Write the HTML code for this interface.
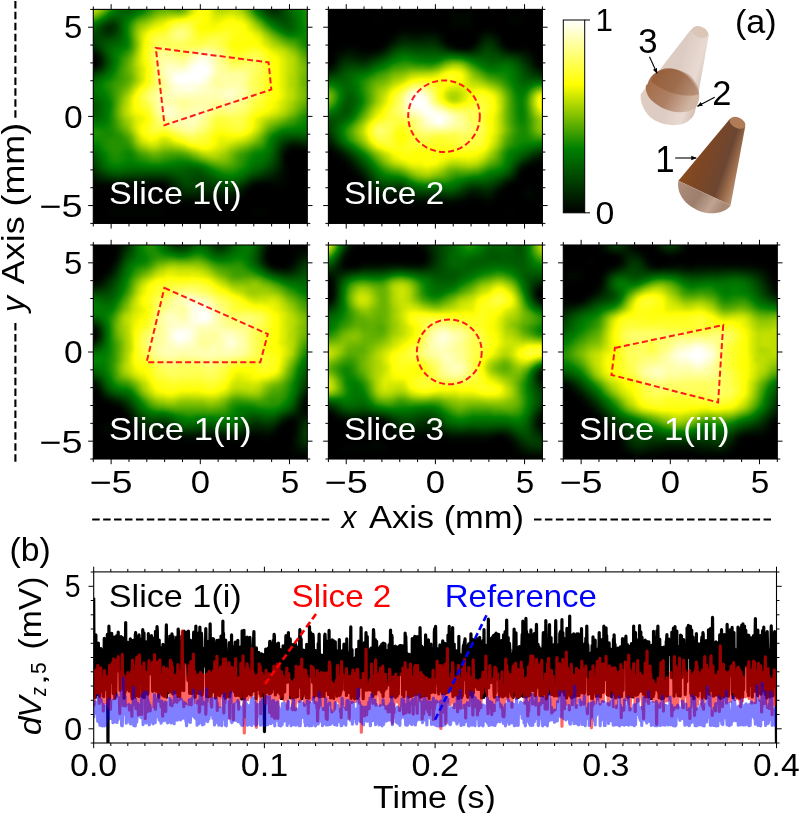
<!DOCTYPE html><html><head><meta charset="utf-8"><style>html,body{margin:0;padding:0;background:#fff;}svg{display:block;will-change:transform;font-family:"Liberation Sans",sans-serif;}</style></head><body>
<svg width="800" height="813" viewBox="0 0 800 813">
<defs><filter id="hm" x="-0.1" y="-0.1" width="1.2" height="1.2" color-interpolation-filters="sRGB"><feGaussianBlur stdDeviation="2.5"/><feComponentTransfer><feFuncR type="table" tableValues="0 0 1 1"/><feFuncG type="table" tableValues="0 0.502 1 1"/><feFuncB type="table" tableValues="0 0 0 1"/><feFuncA type="discrete" tableValues="1"/></feComponentTransfer></filter>
<clipPath id="cp00"><rect x="93.3" y="9.4" width="214" height="214"/></clipPath>
<clipPath id="cp01"><rect x="328.4" y="9.4" width="214" height="214"/></clipPath>
<clipPath id="cp10"><rect x="93.3" y="245" width="214" height="214"/></clipPath>
<clipPath id="cp11"><rect x="328.4" y="245" width="214" height="214"/></clipPath>
<clipPath id="cp12"><rect x="563.3" y="245" width="214" height="214"/></clipPath>
</defs>
<g clip-path="url(#cp00)"><g filter="url(#hm)" transform="translate(93.3 9.4)">
<rect x="-20" y="-20" width="254" height="254" fill="#000"/>
<path fill="#000000" d="M-9.3 41.7h6v6h-6zM-20.7 47.4h23v6h-23zM-20.7 53.1h23v6h-23zM195 138.2h23v6h-23zM189.3 143.9h45.7v6h-45.7zM189.3 149.6h45.7v6h-45.7zM195 155.2h40v6h-40zM195 160.9h17.3v6h-17.3zM195 166.6h17.3v6h-17.3zM-15 172.3h17.3v6h-17.3zM58.8 172.3h11.6v6h-11.6zM160.9 172.3h17.3v6h-17.3zM189.3 172.3h45.7v6h-45.7zM-20.7 177.9h96.8v6h-96.8zM155.2 177.9h79.7v6h-79.7zM-20.7 183.6h102.4v6h-102.4zM149.6 183.6h85.4v6h-85.4zM-20.7 189.3h102.4v6h-102.4zM143.9 189.3h91.1v6h-91.1zM-20.7 195h255.6v6h-255.6zM-20.7 200.6h34.3v6h-34.3zM70.1 200.6h91.1v6h-91.1zM172.3 200.6h62.7v6h-62.7zM-20.7 206.3h255.6v6h-255.6zM-20.7 212h255.6v6h-255.6zM-20.7 217.6h255.6v6h-255.6z"/>
<path fill="#040404" d="M-3.6 41.7h6v6h-6zM2 47.4h6v6h-6zM217.6 138.2h6v6h-6zM189.3 155.2h6v6h-6zM189.3 160.9h6v6h-6zM212 160.9h23v6h-23zM189.3 166.6h6v6h-6zM212 166.6h23v6h-23zM2 172.3h57v6h-57zM70.1 172.3h6v6h-6zM177.9 172.3h11.6v6h-11.6zM149.6 177.9h6v6h-6zM81.5 189.3h62.7v6h-62.7zM13.4 200.6h57v6h-57zM160.9 200.6h11.6v6h-11.6z"/>
<path fill="#080808" d="M2 53.1h6v6h-6zM189.3 138.2h6v6h-6zM183.6 166.6h6v6h-6zM155.2 172.3h6v6h-6zM75.8 177.9h6v6h-6zM143.9 183.6h6v6h-6z"/>
<path fill="#0c0c0c" d="M195 132.5h11.6v6h-11.6zM183.6 160.9h6v6h-6zM-15 166.6h17.3v6h-17.3zM177.9 166.6h6v6h-6zM81.5 183.6h6v6h-6zM115.5 183.6h17.3v6h-17.3zM138.2 183.6h6v6h-6z"/>
<path fill="#101010" d="M2 41.7h6v6h-6zM-9.3 58.8h6v6h-6zM206.3 132.5h6v6h-6zM2 166.6h6v6h-6zM172.3 166.6h6v6h-6zM104.2 183.6h11.6v6h-11.6zM132.5 183.6h6v6h-6z"/>
<path fill="#141414" d="M-9.3 36.1h6v6h-6zM-3.6 58.8h6v6h-6zM183.6 155.2h6v6h-6zM166.6 166.6h6v6h-6zM75.8 172.3h6v6h-6zM81.5 177.9h6v6h-6zM143.9 177.9h6v6h-6zM87.1 183.6h17.3v6h-17.3z"/>
<path fill="#181818" d="M172.3 -9.3h11.6v6h-11.6zM177.9 -3.6h6v6h-6zM13.4 19h6v6h-6zM-3.6 36.1h6v6h-6zM189.3 132.5h6v6h-6zM212 132.5h17.3v6h-17.3zM183.6 149.6h6v6h-6zM-9.3 160.9h11.6v6h-11.6zM177.9 160.9h6v6h-6zM7.7 166.6h6v6h-6zM53.1 166.6h17.3v6h-17.3zM160.9 166.6h6v6h-6zM149.6 172.3h6v6h-6z"/>
<path fill="#1c1c1c" d="M172.3 -3.6h6v6h-6zM13.4 13.4h6v6h-6zM7.7 47.4h6v6h-6zM183.6 143.9h6v6h-6zM13.4 166.6h6v6h-6zM30.4 166.6h23v6h-23zM70.1 166.6h6v6h-6zM109.8 177.9h23v6h-23zM138.2 177.9h6v6h-6z"/>
<path fill="#202020" d="M19 13.4h6v6h-6zM7.7 19h6v6h-6zM7.7 53.1h6v6h-6zM2 58.8h6v6h-6zM183.6 138.2h6v6h-6zM2 160.9h6v6h-6zM172.3 160.9h6v6h-6zM19 166.6h11.6v6h-11.6zM155.2 166.6h6v6h-6zM81.5 172.3h6v6h-6zM87.1 177.9h6v6h-6zM104.2 177.9h6v6h-6zM132.5 177.9h6v6h-6z"/>
<path fill="#242424" d="M183.6 -9.3h6v6h-6zM183.6 -3.6h6v6h-6zM177.9 2h6v6h-6zM7.7 13.4h6v6h-6zM19 19h6v6h-6zM-9.3 30.4h6v6h-6zM2 36.1h6v6h-6zM-15 155.2h17.3v6h-17.3zM177.9 155.2h6v6h-6zM75.8 166.6h6v6h-6zM109.8 172.3h6v6h-6zM92.8 177.9h11.6v6h-11.6z"/>
<path fill="#282828" d="M183.6 2h6v6h-6zM7.7 24.7h11.6v6h-11.6zM-3.6 30.4h6v6h-6zM7.7 41.7h6v6h-6zM195 126.9h11.6v6h-11.6zM166.6 160.9h6v6h-6zM104.2 172.3h6v6h-6zM115.5 172.3h6v6h-6zM143.9 172.3h6v6h-6z"/>
<path fill="#2d2d2d" d="M166.6 -9.3h6v6h-6zM172.3 2h6v6h-6zM2 19h6v6h-6zM-20.7 24.7h28.7v6h-28.7zM2 30.4h6v6h-6zM206.3 126.9h6v6h-6zM183.6 132.5h6v6h-6zM-15 149.6h17.3v6h-17.3zM177.9 149.6h6v6h-6zM7.7 160.9h6v6h-6zM81.5 166.6h6v6h-6zM98.5 166.6h11.6v6h-11.6zM87.1 172.3h6v6h-6zM98.5 172.3h6v6h-6zM121.2 172.3h6v6h-6z"/>
<path fill="#313131" d="M166.6 -3.6h6v6h-6zM13.4 7.7h11.6v6h-11.6zM183.6 7.7h11.6v6h-11.6zM19 24.7h6v6h-6zM7.7 58.8h6v6h-6zM-9.3 64.4h11.6v6h-11.6zM189.3 126.9h6v6h-6zM212 126.9h6v6h-6zM2 155.2h6v6h-6zM172.3 155.2h6v6h-6zM109.8 166.6h6v6h-6zM149.6 166.6h6v6h-6zM92.8 172.3h6v6h-6zM126.9 172.3h6v6h-6zM138.2 172.3h6v6h-6z"/>
<path fill="#353535" d="M189.3 -9.3h6v6h-6zM189.3 -3.6h6v6h-6zM189.3 2h6v6h-6zM-3.6 19h6v6h-6zM7.7 30.4h6v6h-6zM7.7 36.1h6v6h-6zM217.6 126.9h6v6h-6zM-15 143.9h17.3v6h-17.3zM177.9 143.9h6v6h-6zM41.7 160.9h34.3v6h-34.3zM98.5 160.9h11.6v6h-11.6zM160.9 160.9h6v6h-6zM87.1 166.6h11.6v6h-11.6zM115.5 166.6h6v6h-6zM132.5 172.3h6v6h-6z"/>
<path fill="#393939" d="M36.1 -9.3h6v6h-6zM177.9 7.7h6v6h-6zM2 13.4h6v6h-6zM24.7 13.4h6v6h-6zM189.3 13.4h6v6h-6zM-9.3 19h6v6h-6zM24.7 19h6v6h-6zM13.4 47.4h6v6h-6zM-15 92.8h17.3v6h-17.3zM-20.7 98.5h23v6h-23zM183.6 126.9h6v6h-6zM2 149.6h6v6h-6zM13.4 160.9h6v6h-6zM30.4 160.9h11.6v6h-11.6zM75.8 160.9h6v6h-6zM92.8 160.9h6v6h-6z"/>
<path fill="#3d3d3d" d="M30.4 -9.3h6v6h-6zM30.4 -3.6h11.6v6h-11.6zM24.7 7.7h6v6h-6zM195 7.7h6v6h-6zM195 13.4h6v6h-6zM24.7 24.7h6v6h-6zM13.4 30.4h6v6h-6zM13.4 53.1h6v6h-6zM2 64.4h6v6h-6zM-9.3 87.1h11.6v6h-11.6zM2 92.8h6v6h-6zM2 98.5h6v6h-6zM-15 104.2h17.3v6h-17.3zM177.9 138.2h6v6h-6zM172.3 149.6h6v6h-6zM166.6 155.2h6v6h-6zM19 160.9h11.6v6h-11.6zM81.5 160.9h11.6v6h-11.6zM109.8 160.9h6v6h-6zM155.2 160.9h6v6h-6zM121.2 166.6h6v6h-6z"/>
<path fill="#414141" d="M41.7 -9.3h6v6h-6zM24.7 2h6v6h-6zM166.6 2h6v6h-6zM195 2h6v6h-6zM183.6 13.4h6v6h-6zM19 30.4h6v6h-6zM13.4 41.7h6v6h-6zM2 104.2h6v6h-6zM177.9 132.5h6v6h-6zM-15 138.2h17.3v6h-17.3zM2 143.9h6v6h-6zM7.7 155.2h6v6h-6zM92.8 155.2h11.6v6h-11.6zM143.9 166.6h6v6h-6z"/>
<path fill="#454545" d="M24.7 -9.3h6v6h-6zM160.9 -9.3h6v6h-6zM24.7 -3.6h6v6h-6zM41.7 -3.6h6v6h-6zM19 2h6v6h-6zM30.4 2h6v6h-6zM7.7 7.7h6v6h-6zM172.3 7.7h6v6h-6zM195 19h6v6h-6zM24.7 30.4h6v6h-6zM13.4 36.1h6v6h-6zM-9.3 81.5h11.6v6h-11.6zM2 87.1h6v6h-6zM189.3 121.2h23v6h-23zM87.1 155.2h6v6h-6zM104.2 155.2h6v6h-6zM160.9 155.2h6v6h-6zM126.9 166.6h6v6h-6z"/>
<path fill="#494949" d="M195 -9.3h6v6h-6zM160.9 -3.6h6v6h-6zM195 -3.6h6v6h-6zM36.1 2h6v6h-6zM200.6 7.7h6v6h-6zM-3.6 13.4h6v6h-6zM200.6 13.4h6v6h-6zM189.3 19h6v6h-6zM13.4 58.8h6v6h-6zM7.7 64.4h6v6h-6zM-15 70.1h17.3v6h-17.3zM7.7 92.8h6v6h-6zM7.7 98.5h6v6h-6zM7.7 104.2h6v6h-6zM212 121.2h23v6h-23zM177.9 126.9h6v6h-6zM172.3 143.9h6v6h-6zM7.7 149.6h6v6h-6zM166.6 149.6h6v6h-6zM36.1 155.2h11.6v6h-11.6zM75.8 155.2h11.6v6h-11.6zM115.5 160.9h6v6h-6zM149.6 160.9h6v6h-6zM132.5 166.6h11.6v6h-11.6z"/>
<path fill="#4d4d4d" d="M47.4 -9.3h6v6h-6zM30.4 7.7h6v6h-6zM-9.3 13.4h6v6h-6zM177.9 13.4h6v6h-6zM200.6 19h6v6h-6zM19 36.1h6v6h-6zM2 70.1h6v6h-6zM-15 75.8h17.3v6h-17.3zM2 81.5h6v6h-6zM7.7 87.1h6v6h-6zM-20.7 109.8h28.7v6h-28.7zM183.6 121.2h6v6h-6zM2 138.2h6v6h-6zM160.9 149.6h6v6h-6zM13.4 155.2h6v6h-6zM30.4 155.2h6v6h-6zM47.4 155.2h28.7v6h-28.7zM155.2 155.2h6v6h-6z"/>
<path fill="#515151" d="M47.4 -3.6h6v6h-6zM13.4 2h6v6h-6zM200.6 2h6v6h-6zM30.4 24.7h6v6h-6zM30.4 30.4h6v6h-6zM24.7 36.1h6v6h-6zM19 41.7h6v6h-6zM19 47.4h6v6h-6zM2 75.8h6v6h-6zM7.7 81.5h6v6h-6zM7.7 109.8h6v6h-6zM212 115.5h17.3v6h-17.3zM-15 132.5h17.3v6h-17.3zM172.3 138.2h6v6h-6zM7.7 143.9h6v6h-6zM166.6 143.9h6v6h-6zM19 155.2h11.6v6h-11.6zM109.8 155.2h6v6h-6z"/>
<path fill="#555555" d="M200.6 -9.3h6v6h-6zM19 -3.6h6v6h-6zM200.6 -3.6h6v6h-6zM41.7 2h6v6h-6zM30.4 13.4h6v6h-6zM206.3 13.4h6v6h-6zM30.4 19h6v6h-6zM183.6 19h6v6h-6zM206.3 19h6v6h-6zM19 53.1h6v6h-6zM13.4 64.4h6v6h-6zM13.4 92.8h6v6h-6zM13.4 98.5h6v6h-6zM217.6 109.8h6v6h-6zM200.6 115.5h11.6v6h-11.6zM2 132.5h6v6h-6zM172.3 132.5h6v6h-6zM160.9 143.9h6v6h-6zM30.4 149.6h11.6v6h-11.6zM81.5 149.6h17.3v6h-17.3zM155.2 149.6h6v6h-6zM121.2 160.9h6v6h-6zM143.9 160.9h6v6h-6z"/>
<path fill="#595959" d="M19 -9.3h6v6h-6zM160.9 2h6v6h-6zM206.3 2h6v6h-6zM2 7.7h6v6h-6zM206.3 7.7h6v6h-6zM195 24.7h40v6h-40zM212 30.4h23v6h-23zM30.4 36.1h6v6h-6zM24.7 41.7h6v6h-6zM19 58.8h6v6h-6zM7.7 70.1h6v6h-6zM7.7 75.8h6v6h-6zM13.4 87.1h6v6h-6zM13.4 104.2h6v6h-6zM217.6 104.2h6v6h-6zM13.4 109.8h6v6h-6zM212 109.8h6v6h-6zM-20.7 115.5h34.3v6h-34.3zM195 115.5h6v6h-6zM177.9 121.2h6v6h-6zM7.7 138.2h6v6h-6zM166.6 138.2h6v6h-6zM30.4 143.9h11.6v6h-11.6zM155.2 143.9h6v6h-6zM13.4 149.6h6v6h-6zM24.7 149.6h6v6h-6zM41.7 149.6h6v6h-6zM75.8 149.6h6v6h-6zM149.6 155.2h6v6h-6z"/>
<path fill="#5d5d5d" d="M53.1 -9.3h6v6h-6zM206.3 -9.3h6v6h-6zM206.3 -3.6h6v6h-6zM36.1 7.7h6v6h-6zM166.6 7.7h6v6h-6zM212 19h6v6h-6zM206.3 30.4h6v6h-6zM212 36.1h17.3v6h-17.3zM13.4 81.5h6v6h-6zM212 104.2h6v6h-6zM206.3 109.8h6v6h-6zM13.4 115.5h6v6h-6zM189.3 115.5h6v6h-6zM7.7 121.2h11.6v6h-11.6zM-9.3 126.9h23v6h-23zM172.3 126.9h6v6h-6zM7.7 132.5h6v6h-6zM30.4 138.2h6v6h-6zM160.9 138.2h6v6h-6zM13.4 143.9h6v6h-6zM24.7 143.9h6v6h-6zM19 149.6h6v6h-6zM47.4 149.6h6v6h-6zM70.1 149.6h6v6h-6zM98.5 149.6h6v6h-6zM149.6 149.6h6v6h-6zM115.5 155.2h6v6h-6zM126.9 160.9h17.3v6h-17.3z"/>
<path fill="#616161" d="M155.2 -9.3h6v6h-6zM212 -9.3h17.3v6h-17.3zM53.1 -3.6h6v6h-6zM212 -3.6h17.3v6h-17.3zM47.4 2h6v6h-6zM212 2h6v6h-6zM212 7.7h6v6h-6zM172.3 13.4h6v6h-6zM212 13.4h6v6h-6zM217.6 19h11.6v6h-11.6zM189.3 24.7h6v6h-6zM24.7 47.4h6v6h-6zM19 64.4h6v6h-6zM13.4 70.1h6v6h-6zM13.4 75.8h6v6h-6zM206.3 104.2h6v6h-6zM200.6 109.8h6v6h-6zM183.6 115.5h6v6h-6zM-3.6 121.2h11.6v6h-11.6zM19 121.2h6v6h-6zM13.4 126.9h17.3v6h-17.3zM13.4 132.5h23v6h-23zM13.4 138.2h17.3v6h-17.3zM36.1 138.2h6v6h-6zM19 143.9h6v6h-6zM41.7 143.9h6v6h-6zM149.6 143.9h6v6h-6zM53.1 149.6h17.3v6h-17.3zM143.9 155.2h6v6h-6z"/>
<path fill="#656565" d="M81.5 -9.3h6v6h-6zM155.2 -3.6h6v6h-6zM7.7 2h6v6h-6zM217.6 2h6v6h-6zM217.6 7.7h6v6h-6zM217.6 13.4h6v6h-6zM177.9 19h6v6h-6zM30.4 41.7h6v6h-6zM24.7 53.1h6v6h-6zM212 98.5h17.3v6h-17.3zM19 115.5h6v6h-6zM-9.3 121.2h6v6h-6zM24.7 121.2h6v6h-6zM166.6 132.5h6v6h-6zM155.2 138.2h6v6h-6zM81.5 143.9h6v6h-6zM104.2 149.6h6v6h-6zM143.9 149.6h6v6h-6z"/>
<path fill="#696969" d="M58.8 -9.3h6v6h-6zM75.8 -9.3h6v6h-6zM13.4 -3.6h6v6h-6zM81.5 -3.6h6v6h-6zM-3.6 7.7h6v6h-6zM36.1 30.4h6v6h-6zM200.6 30.4h6v6h-6zM36.1 36.1h6v6h-6zM206.3 36.1h6v6h-6zM212 41.7h17.3v6h-17.3zM24.7 58.8h6v6h-6zM24.7 64.4h6v6h-6zM19 70.1h6v6h-6zM19 75.8h6v6h-6zM19 81.5h6v6h-6zM19 87.1h6v6h-6zM19 92.8h6v6h-6zM19 109.8h6v6h-6zM195 109.8h6v6h-6zM172.3 121.2h6v6h-6zM30.4 126.9h6v6h-6zM47.4 143.9h6v6h-6zM75.8 143.9h6v6h-6zM87.1 143.9h6v6h-6zM143.9 143.9h6v6h-6zM121.2 155.2h6v6h-6zM138.2 155.2h6v6h-6z"/>
<path fill="#6d6d6d" d="M13.4 -9.3h6v6h-6zM87.1 -9.3h6v6h-6zM58.8 -3.6h6v6h-6zM53.1 2h6v6h-6zM-9.3 7.7h6v6h-6zM41.7 7.7h6v6h-6zM36.1 13.4h6v6h-6zM36.1 24.7h6v6h-6zM183.6 24.7h6v6h-6zM24.7 70.1h6v6h-6zM19 98.5h6v6h-6zM206.3 98.5h6v6h-6zM19 104.2h6v6h-6zM200.6 104.2h6v6h-6zM177.9 115.5h6v6h-6zM36.1 132.5h6v6h-6zM160.9 132.5h6v6h-6zM149.6 138.2h6v6h-6zM70.1 143.9h6v6h-6zM92.8 143.9h6v6h-6zM109.8 149.6h6v6h-6zM126.9 155.2h11.6v6h-11.6z"/>
<path fill="#717171" d="M75.8 -3.6h6v6h-6zM87.1 -3.6h6v6h-6zM160.9 7.7h6v6h-6zM36.1 19h6v6h-6zM195 30.4h6v6h-6zM206.3 41.7h6v6h-6zM30.4 47.4h6v6h-6zM30.4 64.4h6v6h-6zM24.7 75.8h6v6h-6zM212 92.8h17.3v6h-17.3zM189.3 109.8h6v6h-6zM24.7 115.5h6v6h-6zM166.6 126.9h6v6h-6zM41.7 138.2h6v6h-6zM53.1 143.9h6v6h-6zM64.4 143.9h6v6h-6zM138.2 149.6h6v6h-6z"/>
<path fill="#757575" d="M64.4 -9.3h11.6v6h-11.6zM64.4 -3.6h11.6v6h-11.6zM155.2 2h6v6h-6zM166.6 13.4h6v6h-6zM200.6 36.1h6v6h-6zM36.1 41.7h6v6h-6zM212 47.4h17.3v6h-17.3zM30.4 53.1h6v6h-6zM30.4 58.8h6v6h-6zM30.4 70.1h6v6h-6zM217.6 70.1h6v6h-6zM24.7 81.5h6v6h-6zM30.4 121.2h6v6h-6zM143.9 138.2h6v6h-6zM58.8 143.9h6v6h-6zM138.2 143.9h6v6h-6z"/>
<path fill="#797979" d="M58.8 2h6v6h-6zM47.4 7.7h6v6h-6zM172.3 19h6v6h-6zM177.9 24.7h6v6h-6zM189.3 30.4h6v6h-6zM217.6 53.1h6v6h-6zM217.6 58.8h6v6h-6zM212 64.4h17.3v6h-17.3zM212 70.1h6v6h-6zM212 75.8h17.3v6h-17.3zM217.6 81.5h6v6h-6zM212 87.1h17.3v6h-17.3zM206.3 92.8h6v6h-6zM200.6 98.5h6v6h-6zM195 104.2h6v6h-6zM24.7 109.8h6v6h-6zM183.6 109.8h6v6h-6zM172.3 115.5h6v6h-6zM36.1 126.9h6v6h-6zM155.2 132.5h6v6h-6zM75.8 138.2h6v6h-6zM98.5 143.9h6v6h-6zM115.5 149.6h6v6h-6zM132.5 149.6h6v6h-6z"/>
<path fill="#7d7d7d" d="M149.6 -9.3h6v6h-6zM149.6 -3.6h6v6h-6zM2 2h6v6h-6zM206.3 47.4h6v6h-6zM212 53.1h6v6h-6zM212 58.8h6v6h-6zM36.1 64.4h6v6h-6zM206.3 64.4h6v6h-6zM206.3 70.1h6v6h-6zM30.4 75.8h6v6h-6zM212 81.5h6v6h-6zM24.7 87.1h6v6h-6zM30.4 115.5h6v6h-6zM166.6 121.2h6v6h-6zM47.4 138.2h6v6h-6zM70.1 138.2h6v6h-6zM81.5 138.2h6v6h-6zM121.2 149.6h11.6v6h-11.6z"/>
<path fill="#828282" d="M7.7 -3.6h6v6h-6zM64.4 2h6v6h-6zM53.1 7.7h6v6h-6zM41.7 13.4h6v6h-6zM183.6 30.4h6v6h-6zM195 36.1h6v6h-6zM200.6 41.7h6v6h-6zM36.1 47.4h6v6h-6zM206.3 53.1h6v6h-6zM36.1 58.8h6v6h-6zM206.3 58.8h6v6h-6zM36.1 70.1h6v6h-6zM206.3 75.8h6v6h-6zM206.3 81.5h6v6h-6zM206.3 87.1h6v6h-6zM24.7 92.8h6v6h-6zM200.6 92.8h6v6h-6zM24.7 98.5h6v6h-6zM24.7 104.2h6v6h-6zM177.9 109.8h6v6h-6zM160.9 126.9h6v6h-6zM41.7 132.5h6v6h-6zM149.6 132.5h6v6h-6zM64.4 138.2h6v6h-6zM87.1 138.2h6v6h-6zM138.2 138.2h6v6h-6zM132.5 143.9h6v6h-6z"/>
<path fill="#868686" d="M7.7 -9.3h6v6h-6zM92.8 -9.3h6v6h-6zM70.1 2h17.3v6h-17.3zM41.7 30.4h6v6h-6zM36.1 53.1h6v6h-6zM30.4 81.5h6v6h-6zM195 98.5h6v6h-6zM189.3 104.2h6v6h-6zM36.1 121.2h6v6h-6zM53.1 138.2h11.6v6h-11.6zM104.2 143.9h6v6h-6z"/>
<path fill="#8a8a8a" d="M92.8 -3.6h6v6h-6zM87.1 2h6v6h-6zM149.6 2h6v6h-6zM155.2 7.7h6v6h-6zM160.9 13.4h6v6h-6zM41.7 19h6v6h-6zM166.6 19h6v6h-6zM41.7 24.7h6v6h-6zM172.3 24.7h6v6h-6zM41.7 36.1h6v6h-6zM200.6 47.4h6v6h-6zM200.6 53.1h6v6h-6zM200.6 58.8h6v6h-6zM200.6 64.4h6v6h-6zM200.6 70.1h6v6h-6zM200.6 75.8h6v6h-6zM200.6 81.5h6v6h-6zM200.6 87.1h6v6h-6zM30.4 109.8h6v6h-6zM172.3 109.8h6v6h-6zM166.6 115.5h6v6h-6zM143.9 132.5h6v6h-6zM92.8 138.2h6v6h-6zM132.5 138.2h6v6h-6zM126.9 143.9h6v6h-6z"/>
<path fill="#8e8e8e" d="M126.9 -9.3h6v6h-6zM143.9 -9.3h6v6h-6zM-9.3 2h11.6v6h-11.6zM58.8 7.7h6v6h-6zM47.4 13.4h6v6h-6zM177.9 30.4h6v6h-6zM189.3 36.1h6v6h-6zM41.7 41.7h6v6h-6zM195 41.7h6v6h-6zM41.7 64.4h6v6h-6zM36.1 75.8h6v6h-6zM195 92.8h6v6h-6zM183.6 104.2h6v6h-6zM70.1 132.5h11.6v6h-11.6zM109.8 143.9h6v6h-6z"/>
<path fill="#929292" d="M121.2 -9.3h6v6h-6zM132.5 -9.3h6v6h-6zM121.2 -3.6h11.6v6h-11.6zM143.9 -3.6h6v6h-6zM41.7 58.8h6v6h-6zM195 64.4h6v6h-6zM41.7 70.1h6v6h-6zM195 70.1h6v6h-6zM30.4 87.1h6v6h-6zM189.3 98.5h6v6h-6zM30.4 104.2h6v6h-6zM36.1 115.5h6v6h-6zM160.9 121.2h6v6h-6zM41.7 126.9h6v6h-6zM155.2 126.9h6v6h-6zM47.4 132.5h6v6h-6zM64.4 132.5h6v6h-6zM138.2 132.5h6v6h-6zM115.5 143.9h11.6v6h-11.6z"/>
<path fill="#969696" d="M138.2 -9.3h6v6h-6zM2 -3.6h6v6h-6zM132.5 -3.6h6v6h-6zM64.4 7.7h6v6h-6zM183.6 36.1h6v6h-6zM41.7 47.4h6v6h-6zM195 47.4h6v6h-6zM41.7 53.1h6v6h-6zM195 53.1h6v6h-6zM195 58.8h6v6h-6zM195 75.8h6v6h-6zM195 81.5h6v6h-6zM195 87.1h6v6h-6zM30.4 92.8h6v6h-6zM30.4 98.5h6v6h-6zM177.9 104.2h6v6h-6zM36.1 109.8h6v6h-6zM166.6 109.8h6v6h-6zM81.5 132.5h6v6h-6zM98.5 138.2h6v6h-6zM126.9 138.2h6v6h-6z"/>
<path fill="#9a9a9a" d="M2 -9.3h6v6h-6zM138.2 -3.6h6v6h-6zM92.8 2h6v6h-6zM121.2 2h11.6v6h-11.6zM143.9 2h6v6h-6zM149.6 7.7h6v6h-6zM53.1 13.4h6v6h-6zM166.6 24.7h6v6h-6zM172.3 30.4h6v6h-6zM177.9 36.1h6v6h-6zM189.3 41.7h6v6h-6zM36.1 81.5h6v6h-6zM189.3 92.8h6v6h-6zM183.6 98.5h6v6h-6zM149.6 126.9h6v6h-6zM53.1 132.5h11.6v6h-11.6zM132.5 132.5h6v6h-6z"/>
<path fill="#9e9e9e" d="M132.5 2h11.6v6h-11.6zM70.1 7.7h6v6h-6zM155.2 13.4h6v6h-6zM47.4 19h6v6h-6zM160.9 19h6v6h-6zM183.6 41.7h6v6h-6zM189.3 47.4h6v6h-6zM189.3 53.1h6v6h-6zM189.3 58.8h6v6h-6zM189.3 64.4h6v6h-6zM189.3 70.1h6v6h-6zM189.3 75.8h6v6h-6zM189.3 81.5h6v6h-6zM189.3 87.1h6v6h-6zM36.1 104.2h6v6h-6zM172.3 104.2h6v6h-6zM160.9 115.5h6v6h-6zM41.7 121.2h6v6h-6zM70.1 126.9h6v6h-6zM87.1 132.5h6v6h-6zM126.9 132.5h6v6h-6zM121.2 138.2h6v6h-6z"/>
<path fill="#a2a2a2" d="M115.5 -9.3h6v6h-6zM-3.6 -3.6h6v6h-6zM115.5 -3.6h6v6h-6zM115.5 2h6v6h-6zM75.8 7.7h6v6h-6zM121.2 7.7h6v6h-6zM58.8 13.4h6v6h-6zM47.4 24.7h6v6h-6zM166.6 30.4h6v6h-6zM47.4 58.8h6v6h-6zM47.4 64.4h6v6h-6zM41.7 75.8h6v6h-6zM183.6 92.8h6v6h-6zM177.9 98.5h6v6h-6zM41.7 104.2h6v6h-6zM166.6 104.2h6v6h-6zM41.7 109.8h6v6h-6zM160.9 109.8h6v6h-6zM41.7 115.5h6v6h-6zM155.2 121.2h6v6h-6zM64.4 126.9h6v6h-6zM143.9 126.9h6v6h-6zM104.2 138.2h6v6h-6zM115.5 138.2h6v6h-6z"/>
<path fill="#a6a6a6" d="M98.5 -9.3h6v6h-6zM-9.3 -3.6h6v6h-6zM98.5 -3.6h6v6h-6zM115.5 7.7h6v6h-6zM126.9 7.7h6v6h-6zM143.9 7.7h6v6h-6zM64.4 13.4h6v6h-6zM155.2 19h6v6h-6zM160.9 24.7h6v6h-6zM47.4 30.4h6v6h-6zM47.4 36.1h6v6h-6zM172.3 36.1h6v6h-6zM177.9 41.7h6v6h-6zM47.4 47.4h6v6h-6zM183.6 47.4h6v6h-6zM47.4 53.1h6v6h-6zM183.6 53.1h6v6h-6zM183.6 58.8h6v6h-6zM183.6 64.4h6v6h-6zM47.4 70.1h6v6h-6zM183.6 70.1h6v6h-6zM183.6 75.8h6v6h-6zM36.1 87.1h6v6h-6zM183.6 87.1h6v6h-6zM36.1 92.8h6v6h-6zM36.1 98.5h6v6h-6zM47.4 104.2h6v6h-6zM47.4 126.9h6v6h-6zM75.8 126.9h6v6h-6zM126.9 126.9h17.3v6h-17.3zM121.2 132.5h6v6h-6zM109.8 138.2h6v6h-6z"/>
<path fill="#aaaaaa" d="M-9.3 -9.3h11.6v6h-11.6zM98.5 2h6v6h-6zM81.5 7.7h6v6h-6zM109.8 7.7h6v6h-6zM132.5 7.7h11.6v6h-11.6zM109.8 13.4h11.6v6h-11.6zM149.6 13.4h6v6h-6zM53.1 19h6v6h-6zM47.4 41.7h6v6h-6zM183.6 81.5h6v6h-6zM177.9 92.8h6v6h-6zM41.7 98.5h6v6h-6zM172.3 98.5h6v6h-6zM160.9 104.2h6v6h-6zM47.4 109.8h6v6h-6zM58.8 126.9h6v6h-6zM121.2 126.9h6v6h-6zM92.8 132.5h6v6h-6z"/>
<path fill="#aeaeae" d="M109.8 2h6v6h-6zM87.1 7.7h6v6h-6zM104.2 13.4h6v6h-6zM121.2 13.4h6v6h-6zM109.8 19h6v6h-6zM149.6 19h6v6h-6zM143.9 24.7h17.3v6h-17.3zM138.2 30.4h17.3v6h-17.3zM160.9 30.4h6v6h-6zM143.9 36.1h6v6h-6zM166.6 36.1h6v6h-6zM172.3 41.7h6v6h-6zM177.9 47.4h6v6h-6zM177.9 53.1h6v6h-6zM177.9 58.8h6v6h-6zM177.9 64.4h6v6h-6zM177.9 70.1h6v6h-6zM177.9 75.8h6v6h-6zM41.7 81.5h6v6h-6zM177.9 81.5h6v6h-6zM177.9 87.1h6v6h-6zM166.6 98.5h6v6h-6zM47.4 115.5h6v6h-6zM155.2 115.5h6v6h-6zM126.9 121.2h6v6h-6zM149.6 121.2h6v6h-6zM53.1 126.9h6v6h-6zM115.5 132.5h6v6h-6z"/>
<path fill="#b2b2b2" d="M109.8 -9.3h6v6h-6zM109.8 -3.6h6v6h-6zM104.2 2h6v6h-6zM92.8 7.7h17.3v6h-17.3zM70.1 13.4h6v6h-6zM126.9 13.4h23v6h-23zM58.8 19h6v6h-6zM104.2 19h6v6h-6zM115.5 19h6v6h-6zM143.9 19h6v6h-6zM138.2 24.7h6v6h-6zM155.2 30.4h6v6h-6zM138.2 36.1h6v6h-6zM149.6 36.1h6v6h-6zM41.7 92.8h6v6h-6zM172.3 92.8h6v6h-6zM47.4 98.5h6v6h-6zM155.2 109.8h6v6h-6zM47.4 121.2h6v6h-6zM64.4 121.2h11.6v6h-11.6zM121.2 121.2h6v6h-6zM132.5 121.2h6v6h-6zM81.5 126.9h6v6h-6zM115.5 126.9h6v6h-6zM98.5 132.5h6v6h-6zM109.8 132.5h6v6h-6z"/>
<path fill="#b6b6b6" d="M104.2 -9.3h6v6h-6zM104.2 -3.6h6v6h-6zM64.4 19h6v6h-6zM121.2 19h6v6h-6zM138.2 19h6v6h-6zM53.1 24.7h6v6h-6zM104.2 24.7h11.6v6h-11.6zM132.5 30.4h6v6h-6zM155.2 36.1h11.6v6h-11.6zM143.9 41.7h6v6h-6zM172.3 47.4h6v6h-6zM53.1 58.8h6v6h-6zM53.1 64.4h6v6h-6zM172.3 64.4h6v6h-6zM172.3 70.1h6v6h-6zM47.4 75.8h6v6h-6zM172.3 75.8h6v6h-6zM172.3 81.5h6v6h-6zM41.7 87.1h6v6h-6zM172.3 87.1h6v6h-6zM160.9 98.5h6v6h-6zM53.1 104.2h6v6h-6zM155.2 104.2h6v6h-6zM53.1 109.8h6v6h-6zM121.2 115.5h11.6v6h-11.6zM138.2 121.2h11.6v6h-11.6zM104.2 132.5h6v6h-6z"/>
<path fill="#bababa" d="M98.5 13.4h6v6h-6zM126.9 19h11.6v6h-11.6zM132.5 24.7h6v6h-6zM53.1 30.4h6v6h-6zM132.5 36.1h6v6h-6zM138.2 41.7h6v6h-6zM166.6 41.7h6v6h-6zM53.1 53.1h6v6h-6zM172.3 53.1h6v6h-6zM172.3 58.8h6v6h-6zM53.1 70.1h6v6h-6zM166.6 92.8h6v6h-6zM53.1 115.5h6v6h-6zM132.5 115.5h6v6h-6zM149.6 115.5h6v6h-6zM53.1 121.2h11.6v6h-11.6zM115.5 121.2h6v6h-6z"/>
<path fill="#bebebe" d="M75.8 13.4h6v6h-6zM70.1 19h6v6h-6zM98.5 19h6v6h-6zM58.8 24.7h6v6h-6zM98.5 24.7h6v6h-6zM115.5 24.7h6v6h-6zM126.9 24.7h6v6h-6zM53.1 36.1h6v6h-6zM53.1 41.7h6v6h-6zM149.6 41.7h6v6h-6zM53.1 47.4h6v6h-6zM166.6 64.4h6v6h-6zM166.6 70.1h6v6h-6zM166.6 75.8h6v6h-6zM166.6 81.5h6v6h-6zM166.6 87.1h6v6h-6zM47.4 92.8h6v6h-6zM160.9 92.8h6v6h-6zM53.1 98.5h6v6h-6zM155.2 98.5h6v6h-6zM126.9 109.8h6v6h-6zM149.6 109.8h6v6h-6zM143.9 115.5h6v6h-6zM75.8 121.2h6v6h-6zM87.1 126.9h6v6h-6zM109.8 126.9h6v6h-6z"/>
<path fill="#c2c2c2" d="M64.4 24.7h6v6h-6zM121.2 24.7h6v6h-6zM98.5 30.4h11.6v6h-11.6zM126.9 30.4h6v6h-6zM132.5 41.7h6v6h-6zM155.2 41.7h11.6v6h-11.6zM138.2 47.4h11.6v6h-11.6zM166.6 47.4h6v6h-6zM166.6 53.1h6v6h-6zM166.6 58.8h6v6h-6zM47.4 81.5h6v6h-6zM149.6 104.2h6v6h-6zM121.2 109.8h6v6h-6zM132.5 109.8h6v6h-6zM58.8 115.5h6v6h-6zM115.5 115.5h6v6h-6zM138.2 115.5h6v6h-6zM92.8 126.9h6v6h-6zM104.2 126.9h6v6h-6z"/>
<path fill="#c6c6c6" d="M92.8 13.4h6v6h-6zM70.1 24.7h6v6h-6zM58.8 30.4h6v6h-6zM92.8 30.4h6v6h-6zM109.8 30.4h6v6h-6zM149.6 47.4h6v6h-6zM160.9 64.4h6v6h-6zM160.9 70.1h6v6h-6zM53.1 75.8h6v6h-6zM160.9 75.8h6v6h-6zM47.4 87.1h6v6h-6zM160.9 87.1h6v6h-6zM126.9 104.2h6v6h-6zM58.8 109.8h6v6h-6zM138.2 109.8h11.6v6h-11.6zM64.4 115.5h6v6h-6zM109.8 121.2h6v6h-6zM98.5 126.9h6v6h-6z"/>
<path fill="#cacaca" d="M81.5 13.4h6v6h-6zM92.8 24.7h6v6h-6zM64.4 30.4h17.3v6h-17.3zM87.1 30.4h6v6h-6zM115.5 30.4h11.6v6h-11.6zM58.8 36.1h6v6h-6zM81.5 36.1h17.3v6h-17.3zM126.9 36.1h6v6h-6zM132.5 47.4h6v6h-6zM155.2 47.4h11.6v6h-11.6zM58.8 58.8h6v6h-6zM160.9 58.8h6v6h-6zM58.8 64.4h6v6h-6zM58.8 70.1h6v6h-6zM160.9 81.5h6v6h-6zM53.1 92.8h6v6h-6zM155.2 92.8h6v6h-6zM149.6 98.5h6v6h-6zM58.8 104.2h6v6h-6zM121.2 104.2h6v6h-6zM132.5 104.2h6v6h-6zM143.9 104.2h6v6h-6zM115.5 109.8h6v6h-6zM70.1 115.5h6v6h-6zM81.5 121.2h6v6h-6z"/>
<path fill="#cecece" d="M87.1 13.4h6v6h-6zM75.8 19h6v6h-6zM92.8 19h6v6h-6zM75.8 24.7h6v6h-6zM81.5 30.4h6v6h-6zM75.8 36.1h6v6h-6zM98.5 36.1h6v6h-6zM58.8 41.7h6v6h-6zM87.1 41.7h6v6h-6zM58.8 53.1h6v6h-6zM138.2 53.1h11.6v6h-11.6zM160.9 53.1h6v6h-6zM155.2 64.4h6v6h-6zM155.2 70.1h6v6h-6zM138.2 104.2h6v6h-6zM109.8 115.5h6v6h-6zM104.2 121.2h6v6h-6z"/>
<path fill="#d2d2d2" d="M64.4 36.1h11.6v6h-11.6zM104.2 36.1h6v6h-6zM121.2 36.1h6v6h-6zM81.5 41.7h6v6h-6zM126.9 41.7h6v6h-6zM58.8 47.4h6v6h-6zM149.6 53.1h11.6v6h-11.6zM155.2 58.8h6v6h-6zM58.8 75.8h6v6h-6zM155.2 75.8h6v6h-6zM53.1 81.5h6v6h-6zM155.2 81.5h6v6h-6zM155.2 87.1h6v6h-6zM149.6 92.8h6v6h-6zM58.8 98.5h6v6h-6zM126.9 98.5h6v6h-6zM143.9 98.5h6v6h-6zM115.5 104.2h6v6h-6zM75.8 115.5h6v6h-6zM87.1 121.2h6v6h-6z"/>
<path fill="#d7d7d7" d="M81.5 19h6v6h-6zM81.5 24.7h11.6v6h-11.6zM109.8 36.1h11.6v6h-11.6zM75.8 41.7h6v6h-6zM92.8 41.7h6v6h-6zM126.9 47.4h6v6h-6zM132.5 53.1h6v6h-6zM149.6 58.8h6v6h-6zM53.1 87.1h6v6h-6zM121.2 98.5h6v6h-6zM132.5 98.5h11.6v6h-11.6zM64.4 109.8h6v6h-6zM92.8 121.2h11.6v6h-11.6z"/>
<path fill="#dbdbdb" d="M87.1 19h6v6h-6zM64.4 41.7h11.6v6h-11.6zM87.1 47.4h6v6h-6zM132.5 58.8h17.3v6h-17.3zM149.6 64.4h6v6h-6zM64.4 70.1h6v6h-6zM149.6 70.1h6v6h-6zM58.8 81.5h6v6h-6zM149.6 87.1h6v6h-6zM58.8 92.8h6v6h-6zM143.9 92.8h6v6h-6zM115.5 98.5h6v6h-6zM109.8 109.8h6v6h-6zM81.5 115.5h6v6h-6zM104.2 115.5h6v6h-6z"/>
<path fill="#dfdfdf" d="M121.2 41.7h6v6h-6zM81.5 47.4h6v6h-6zM126.9 53.1h6v6h-6zM126.9 58.8h6v6h-6zM64.4 64.4h6v6h-6zM64.4 75.8h6v6h-6zM149.6 75.8h6v6h-6zM149.6 81.5h6v6h-6zM58.8 87.1h6v6h-6zM87.1 92.8h11.6v6h-11.6zM121.2 92.8h11.6v6h-11.6zM138.2 92.8h6v6h-6zM64.4 104.2h6v6h-6zM109.8 104.2h6v6h-6zM70.1 109.8h6v6h-6z"/>
<path fill="#e3e3e3" d="M98.5 41.7h6v6h-6zM64.4 47.4h6v6h-6zM75.8 47.4h6v6h-6zM64.4 53.1h6v6h-6zM64.4 58.8h6v6h-6zM126.9 64.4h23v6h-23zM121.2 70.1h11.6v6h-11.6zM64.4 81.5h6v6h-6zM81.5 87.1h40v6h-40zM143.9 87.1h6v6h-6zM98.5 92.8h23v6h-23zM132.5 92.8h6v6h-6zM87.1 98.5h11.6v6h-11.6zM109.8 98.5h6v6h-6zM104.2 109.8h6v6h-6zM87.1 115.5h17.3v6h-17.3z"/>
<path fill="#e7e7e7" d="M115.5 41.7h6v6h-6zM70.1 47.4h6v6h-6zM92.8 47.4h6v6h-6zM121.2 47.4h6v6h-6zM121.2 58.8h6v6h-6zM121.2 64.4h6v6h-6zM132.5 70.1h6v6h-6zM143.9 70.1h6v6h-6zM70.1 75.8h6v6h-6zM115.5 75.8h17.3v6h-17.3zM70.1 81.5h6v6h-6zM109.8 81.5h17.3v6h-17.3zM143.9 81.5h6v6h-6zM64.4 87.1h17.3v6h-17.3zM121.2 87.1h11.6v6h-11.6zM64.4 92.8h6v6h-6zM81.5 92.8h6v6h-6zM64.4 98.5h6v6h-6zM81.5 98.5h6v6h-6zM98.5 98.5h11.6v6h-11.6zM87.1 104.2h11.6v6h-11.6zM75.8 109.8h23v6h-23z"/>
<path fill="#ebebeb" d="M104.2 41.7h11.6v6h-11.6zM81.5 53.1h11.6v6h-11.6zM121.2 53.1h6v6h-6zM70.1 70.1h6v6h-6zM115.5 70.1h6v6h-6zM138.2 70.1h6v6h-6zM132.5 75.8h6v6h-6zM143.9 75.8h6v6h-6zM75.8 81.5h34.3v6h-34.3zM126.9 81.5h6v6h-6zM132.5 87.1h11.6v6h-11.6zM75.8 92.8h6v6h-6zM81.5 104.2h6v6h-6zM98.5 104.2h11.6v6h-11.6zM98.5 109.8h6v6h-6z"/>
<path fill="#efefef" d="M70.1 53.1h11.6v6h-11.6zM70.1 58.8h6v6h-6zM70.1 64.4h6v6h-6zM115.5 64.4h6v6h-6zM75.8 75.8h6v6h-6zM109.8 75.8h6v6h-6zM138.2 75.8h6v6h-6zM132.5 81.5h11.6v6h-11.6zM70.1 92.8h6v6h-6zM75.8 98.5h6v6h-6zM70.1 104.2h11.6v6h-11.6z"/>
<path fill="#f3f3f3" d="M98.5 47.4h6v6h-6zM115.5 47.4h6v6h-6zM75.8 58.8h6v6h-6zM104.2 75.8h6v6h-6zM70.1 98.5h6v6h-6z"/>
<path fill="#f7f7f7" d="M92.8 53.1h6v6h-6zM115.5 53.1h6v6h-6zM81.5 58.8h6v6h-6zM115.5 58.8h6v6h-6zM75.8 64.4h6v6h-6zM75.8 70.1h6v6h-6zM109.8 70.1h6v6h-6zM81.5 75.8h6v6h-6zM98.5 75.8h6v6h-6z"/>
<path fill="#fbfbfb" d="M109.8 47.4h6v6h-6zM87.1 58.8h6v6h-6zM87.1 75.8h11.6v6h-11.6z"/>
<path fill="#ffffff" d="M104.2 47.4h6v6h-6zM98.5 53.1h17.3v6h-17.3zM92.8 58.8h23v6h-23zM81.5 64.4h34.3v6h-34.3zM81.5 70.1h28.7v6h-28.7z"/>
</g></g>
<g clip-path="url(#cp01)"><g filter="url(#hm)" transform="translate(328.4 9.4)">
<rect x="-20" y="-20" width="254" height="254" fill="#000"/>
<path fill="#000000" d="M-20.7 -9.3h255.6v6h-255.6zM-20.7 -3.6h255.6v6h-255.6zM-20.7 2h142.2v6h-142.2zM143.9 2h91.1v6h-91.1zM-20.7 7.7h68.4v6h-68.4zM53.1 7.7h68.4v6h-68.4zM143.9 7.7h34.3v6h-34.3zM195 7.7h40v6h-40zM-20.7 13.4h142.2v6h-142.2zM143.9 13.4h91.1v6h-91.1zM-20.7 19h91.1v6h-91.1zM109.8 19h45.7v6h-45.7zM166.6 19h68.4v6h-68.4zM2 24.7h62.7v6h-62.7zM115.5 24.7h34.3v6h-34.3zM172.3 24.7h62.7v6h-62.7zM-3.6 30.4h62.7v6h-62.7zM115.5 30.4h34.3v6h-34.3zM172.3 30.4h62.7v6h-62.7zM-20.7 36.1h34.3v6h-34.3zM30.4 36.1h23v6h-23zM126.9 36.1h17.3v6h-17.3zM177.9 36.1h17.3v6h-17.3zM200.6 36.1h34.3v6h-34.3zM-20.7 41.7h28.7v6h-28.7zM206.3 41.7h28.7v6h-28.7zM-20.7 47.4h28.7v6h-28.7zM206.3 47.4h28.7v6h-28.7zM-20.7 53.1h23v6h-23zM212 53.1h23v6h-23zM-20.7 138.2h23v6h-23zM-20.7 143.9h28.7v6h-28.7zM-20.7 149.6h34.3v6h-34.3zM-20.7 155.2h40v6h-40zM195 155.2h40v6h-40zM-3.6 160.9h28.7v6h-28.7zM189.3 160.9h45.7v6h-45.7zM-20.7 166.6h51.4v6h-51.4zM189.3 166.6h45.7v6h-45.7zM-20.7 172.3h57v6h-57zM177.9 172.3h57v6h-57zM-20.7 177.9h62.7v6h-62.7zM172.3 177.9h23v6h-23zM206.3 177.9h28.7v6h-28.7zM-20.7 183.6h62.7v6h-62.7zM166.6 183.6h28.7v6h-28.7zM212 183.6h23v6h-23zM-20.7 189.3h68.4v6h-68.4zM58.8 189.3h23v6h-23zM138.2 189.3h17.3v6h-17.3zM166.6 189.3h68.4v6h-68.4zM-20.7 195h255.6v6h-255.6zM-20.7 200.6h198.9v6h-198.9zM183.6 200.6h51.4v6h-51.4zM-20.7 206.3h255.6v6h-255.6zM-20.7 212h255.6v6h-255.6zM-20.7 217.6h130.8v6h-130.8zM126.9 217.6h108.1v6h-108.1z"/>
<path fill="#040404" d="M121.2 2h23v6h-23zM47.4 7.7h6v6h-6zM121.2 7.7h23v6h-23zM177.9 7.7h17.3v6h-17.3zM121.2 13.4h23v6h-23zM70.1 19h40v6h-40zM155.2 19h11.6v6h-11.6zM-15 24.7h17.3v6h-17.3zM-9.3 30.4h6v6h-6zM13.4 36.1h17.3v6h-17.3zM195 36.1h6v6h-6zM200.6 41.7h6v6h-6zM206.3 53.1h6v6h-6zM-9.3 132.5h6v6h-6zM2 138.2h6v6h-6zM7.7 143.9h6v6h-6zM13.4 149.6h6v6h-6zM206.3 149.6h28.7v6h-28.7zM19 155.2h6v6h-6zM-9.3 160.9h6v6h-6zM24.7 160.9h6v6h-6zM30.4 166.6h6v6h-6zM195 177.9h11.6v6h-11.6zM41.7 183.6h6v6h-6zM195 183.6h17.3v6h-17.3zM47.4 189.3h11.6v6h-11.6zM81.5 189.3h34.3v6h-34.3zM126.9 189.3h11.6v6h-11.6zM155.2 189.3h11.6v6h-11.6zM177.9 200.6h6v6h-6zM109.8 217.6h17.3v6h-17.3z"/>
<path fill="#080808" d="M64.4 24.7h6v6h-6zM109.8 24.7h6v6h-6zM149.6 24.7h6v6h-6zM166.6 24.7h6v6h-6zM58.8 30.4h6v6h-6zM53.1 36.1h6v6h-6zM121.2 36.1h6v6h-6zM7.7 41.7h6v6h-6zM30.4 41.7h11.6v6h-11.6zM2 53.1h6v6h-6zM217.6 58.8h6v6h-6zM-3.6 132.5h6v6h-6zM200.6 149.6h6v6h-6zM183.6 166.6h6v6h-6zM36.1 172.3h6v6h-6zM166.6 177.9h6v6h-6zM64.4 183.6h11.6v6h-11.6zM138.2 183.6h11.6v6h-11.6zM115.5 189.3h11.6v6h-11.6z"/>
<path fill="#0c0c0c" d="M81.5 24.7h11.6v6h-11.6zM172.3 36.1h6v6h-6zM13.4 41.7h6v6h-6zM24.7 41.7h6v6h-6zM41.7 41.7h6v6h-6zM195 41.7h6v6h-6zM200.6 47.4h6v6h-6zM212 58.8h6v6h-6zM13.4 143.9h6v6h-6zM217.6 143.9h6v6h-6zM19 149.6h6v6h-6zM189.3 155.2h6v6h-6zM172.3 172.3h6v6h-6zM41.7 177.9h6v6h-6zM47.4 183.6h17.3v6h-17.3zM75.8 183.6h6v6h-6zM149.6 183.6h6v6h-6zM160.9 183.6h6v6h-6z"/>
<path fill="#101010" d="M70.1 24.7h11.6v6h-11.6zM92.8 24.7h17.3v6h-17.3zM160.9 24.7h6v6h-6zM109.8 30.4h6v6h-6zM166.6 30.4h6v6h-6zM143.9 36.1h6v6h-6zM19 41.7h6v6h-6zM47.4 41.7h6v6h-6zM7.7 47.4h6v6h-6zM-15 58.8h17.3v6h-17.3zM-9.3 126.9h6v6h-6zM7.7 138.2h6v6h-6zM212 143.9h6v6h-6zM24.7 155.2h6v6h-6zM30.4 160.9h6v6h-6zM132.5 183.6h6v6h-6zM155.2 183.6h6v6h-6z"/>
<path fill="#141414" d="M155.2 24.7h6v6h-6zM64.4 30.4h6v6h-6zM149.6 30.4h6v6h-6zM115.5 36.1h6v6h-6zM183.6 41.7h11.6v6h-11.6zM30.4 47.4h6v6h-6zM200.6 53.1h6v6h-6zM206.3 58.8h6v6h-6zM-3.6 126.9h6v6h-6zM2 132.5h6v6h-6zM206.3 143.9h6v6h-6zM195 149.6h6v6h-6zM36.1 166.6h6v6h-6zM64.4 177.9h6v6h-6zM143.9 177.9h6v6h-6zM81.5 183.6h6v6h-6z"/>
<path fill="#181818" d="M58.8 36.1h6v6h-6zM24.7 47.4h6v6h-6zM36.1 47.4h6v6h-6zM195 47.4h6v6h-6zM2 58.8h6v6h-6zM183.6 160.9h6v6h-6zM177.9 166.6h6v6h-6zM41.7 172.3h6v6h-6zM47.4 177.9h6v6h-6zM58.8 177.9h6v6h-6zM70.1 177.9h6v6h-6zM138.2 177.9h6v6h-6zM149.6 177.9h6v6h-6zM160.9 177.9h6v6h-6zM98.5 183.6h11.6v6h-11.6zM126.9 183.6h6v6h-6z"/>
<path fill="#1c1c1c" d="M70.1 30.4h6v6h-6zM81.5 30.4h17.3v6h-17.3zM104.2 30.4h6v6h-6zM166.6 36.1h6v6h-6zM53.1 41.7h6v6h-6zM177.9 41.7h6v6h-6zM13.4 47.4h11.6v6h-11.6zM7.7 53.1h6v6h-6zM-9.3 121.2h6v6h-6zM19 143.9h6v6h-6zM24.7 149.6h6v6h-6zM166.6 172.3h6v6h-6zM53.1 177.9h6v6h-6zM155.2 177.9h6v6h-6zM87.1 183.6h11.6v6h-11.6zM109.8 183.6h6v6h-6z"/>
<path fill="#202020" d="M75.8 30.4h6v6h-6zM98.5 30.4h6v6h-6zM155.2 30.4h11.6v6h-11.6zM149.6 36.1h6v6h-6zM172.3 41.7h6v6h-6zM41.7 47.4h6v6h-6zM200.6 58.8h6v6h-6zM-3.6 121.2h6v6h-6zM13.4 138.2h6v6h-6zM200.6 143.9h6v6h-6zM30.4 155.2h6v6h-6zM75.8 177.9h6v6h-6zM115.5 183.6h11.6v6h-11.6z"/>
<path fill="#242424" d="M109.8 36.1h6v6h-6zM189.3 47.4h6v6h-6zM195 53.1h6v6h-6zM212 64.4h23v6h-23zM-9.3 115.5h6v6h-6zM2 126.9h6v6h-6zM212 138.2h17.3v6h-17.3zM189.3 149.6h6v6h-6zM36.1 160.9h6v6h-6zM172.3 166.6h6v6h-6zM132.5 177.9h6v6h-6z"/>
<path fill="#282828" d="M64.4 36.1h6v6h-6zM160.9 36.1h6v6h-6zM132.5 41.7h17.3v6h-17.3zM13.4 53.1h6v6h-6zM30.4 53.1h6v6h-6zM7.7 58.8h6v6h-6zM206.3 64.4h6v6h-6zM-3.6 115.5h6v6h-6zM7.7 132.5h6v6h-6zM183.6 155.2h6v6h-6zM41.7 166.6h6v6h-6zM47.4 172.3h6v6h-6zM160.9 172.3h6v6h-6z"/>
<path fill="#2d2d2d" d="M81.5 36.1h28.7v6h-28.7zM155.2 36.1h6v6h-6zM58.8 41.7h6v6h-6zM149.6 41.7h6v6h-6zM166.6 41.7h6v6h-6zM47.4 47.4h6v6h-6zM19 53.1h11.6v6h-11.6zM36.1 53.1h6v6h-6zM195 58.8h6v6h-6zM-20.7 64.4h23v6h-23zM200.6 64.4h6v6h-6zM206.3 138.2h6v6h-6zM64.4 172.3h11.6v6h-11.6zM143.9 172.3h11.6v6h-11.6zM81.5 177.9h6v6h-6z"/>
<path fill="#313131" d="M70.1 36.1h11.6v6h-11.6zM126.9 41.7h6v6h-6zM160.9 41.7h6v6h-6zM183.6 47.4h6v6h-6zM2 64.4h6v6h-6zM-20.7 109.8h23v6h-23zM2 121.2h6v6h-6zM24.7 143.9h6v6h-6zM195 143.9h6v6h-6zM30.4 149.6h6v6h-6zM177.9 160.9h6v6h-6zM166.6 166.6h6v6h-6zM53.1 172.3h11.6v6h-11.6zM138.2 172.3h6v6h-6zM155.2 172.3h6v6h-6zM126.9 177.9h6v6h-6z"/>
<path fill="#353535" d="M121.2 41.7h6v6h-6zM155.2 41.7h6v6h-6zM189.3 53.1h6v6h-6zM13.4 58.8h6v6h-6zM7.7 64.4h6v6h-6zM195 64.4h6v6h-6zM13.4 98.5h6v6h-6zM2 109.8h6v6h-6zM2 115.5h6v6h-6zM19 138.2h6v6h-6zM36.1 155.2h6v6h-6zM87.1 177.9h6v6h-6zM98.5 177.9h11.6v6h-11.6z"/>
<path fill="#393939" d="M109.8 41.7h11.6v6h-11.6zM53.1 47.4h6v6h-6zM160.9 47.4h23v6h-23zM41.7 53.1h6v6h-6zM19 87.1h6v6h-6zM13.4 92.8h11.6v6h-11.6zM19 98.5h6v6h-6zM7.7 104.2h11.6v6h-11.6zM200.6 138.2h6v6h-6zM183.6 149.6h6v6h-6zM41.7 160.9h6v6h-6zM132.5 172.3h6v6h-6zM92.8 177.9h6v6h-6zM109.8 177.9h6v6h-6z"/>
<path fill="#3d3d3d" d="M64.4 41.7h6v6h-6zM87.1 41.7h23v6h-23zM155.2 47.4h6v6h-6zM19 58.8h11.6v6h-11.6zM189.3 58.8h6v6h-6zM13.4 64.4h6v6h-6zM19 81.5h6v6h-6zM2 104.2h6v6h-6zM7.7 109.8h6v6h-6zM7.7 126.9h6v6h-6zM13.4 132.5h6v6h-6zM189.3 143.9h6v6h-6zM47.4 166.6h6v6h-6zM160.9 166.6h6v6h-6zM75.8 172.3h6v6h-6zM115.5 177.9h11.6v6h-11.6z"/>
<path fill="#414141" d="M81.5 41.7h6v6h-6zM149.6 47.4h6v6h-6zM183.6 53.1h6v6h-6zM30.4 58.8h6v6h-6zM189.3 64.4h6v6h-6zM13.4 70.1h6v6h-6zM195 70.1h6v6h-6zM13.4 87.1h6v6h-6zM24.7 87.1h6v6h-6zM7.7 98.5h6v6h-6zM-20.7 104.2h23v6h-23zM172.3 160.9h6v6h-6z"/>
<path fill="#454545" d="M70.1 41.7h11.6v6h-11.6zM58.8 47.4h6v6h-6zM143.9 47.4h6v6h-6zM47.4 53.1h6v6h-6zM160.9 53.1h6v6h-6zM36.1 58.8h6v6h-6zM19 64.4h6v6h-6zM7.7 70.1h6v6h-6zM189.3 70.1h6v6h-6zM200.6 70.1h6v6h-6zM13.4 75.8h11.6v6h-11.6zM13.4 81.5h6v6h-6zM24.7 92.8h6v6h-6zM19 104.2h6v6h-6zM7.7 115.5h6v6h-6zM7.7 121.2h6v6h-6zM217.6 132.5h6v6h-6zM195 138.2h6v6h-6zM30.4 143.9h6v6h-6zM36.1 149.6h6v6h-6zM177.9 155.2h6v6h-6zM53.1 166.6h6v6h-6zM155.2 166.6h6v6h-6z"/>
<path fill="#494949" d="M155.2 53.1h6v6h-6zM166.6 53.1h6v6h-6zM183.6 58.8h6v6h-6zM2 70.1h6v6h-6zM19 70.1h6v6h-6zM206.3 70.1h6v6h-6zM24.7 81.5h6v6h-6zM13.4 109.8h6v6h-6zM212 132.5h6v6h-6zM24.7 138.2h6v6h-6zM183.6 143.9h6v6h-6zM41.7 155.2h6v6h-6zM58.8 166.6h11.6v6h-11.6zM143.9 166.6h11.6v6h-11.6zM81.5 172.3h6v6h-6zM126.9 172.3h6v6h-6z"/>
<path fill="#4d4d4d" d="M92.8 47.4h17.3v6h-17.3zM172.3 53.1h11.6v6h-11.6zM24.7 64.4h6v6h-6zM183.6 64.4h6v6h-6zM-15 70.1h17.3v6h-17.3zM212 70.1h17.3v6h-17.3zM24.7 75.8h6v6h-6zM189.3 75.8h11.6v6h-11.6zM7.7 92.8h6v6h-6zM2 98.5h6v6h-6zM24.7 98.5h6v6h-6zM206.3 132.5h6v6h-6zM189.3 138.2h6v6h-6zM177.9 149.6h6v6h-6zM47.4 160.9h6v6h-6zM166.6 160.9h6v6h-6zM70.1 166.6h6v6h-6zM138.2 166.6h6v6h-6z"/>
<path fill="#515151" d="M64.4 47.4h6v6h-6zM87.1 47.4h6v6h-6zM138.2 47.4h6v6h-6zM53.1 53.1h6v6h-6zM149.6 53.1h6v6h-6zM41.7 58.8h6v6h-6zM24.7 70.1h6v6h-6zM183.6 70.1h6v6h-6zM7.7 75.8h6v6h-6zM189.3 81.5h6v6h-6zM19 132.5h6v6h-6zM200.6 132.5h6v6h-6zM160.9 160.9h6v6h-6zM104.2 172.3h6v6h-6zM121.2 172.3h6v6h-6z"/>
<path fill="#555555" d="M81.5 47.4h6v6h-6zM109.8 47.4h6v6h-6zM160.9 58.8h11.6v6h-11.6zM177.9 58.8h6v6h-6zM30.4 64.4h6v6h-6zM183.6 75.8h6v6h-6zM30.4 87.1h6v6h-6zM189.3 87.1h6v6h-6zM189.3 92.8h6v6h-6zM189.3 98.5h6v6h-6zM189.3 104.2h6v6h-6zM13.4 126.9h6v6h-6zM195 132.5h6v6h-6zM183.6 138.2h6v6h-6zM177.9 143.9h6v6h-6zM172.3 155.2h6v6h-6zM132.5 166.6h6v6h-6zM87.1 172.3h6v6h-6zM98.5 172.3h6v6h-6zM109.8 172.3h11.6v6h-11.6z"/>
<path fill="#595959" d="M70.1 47.4h11.6v6h-11.6zM155.2 58.8h6v6h-6zM172.3 58.8h6v6h-6zM177.9 64.4h6v6h-6zM7.7 81.5h6v6h-6zM30.4 81.5h6v6h-6zM183.6 81.5h6v6h-6zM195 81.5h6v6h-6zM7.7 87.1h6v6h-6zM30.4 92.8h6v6h-6zM-3.6 98.5h6v6h-6zM24.7 104.2h6v6h-6zM19 109.8h6v6h-6zM189.3 109.8h6v6h-6zM13.4 115.5h6v6h-6zM189.3 132.5h6v6h-6zM177.9 138.2h6v6h-6zM36.1 143.9h6v6h-6zM41.7 149.6h6v6h-6zM155.2 160.9h6v6h-6zM75.8 166.6h6v6h-6zM126.9 166.6h6v6h-6zM92.8 172.3h6v6h-6z"/>
<path fill="#5d5d5d" d="M132.5 47.4h6v6h-6zM58.8 53.1h6v6h-6zM47.4 58.8h6v6h-6zM36.1 64.4h6v6h-6zM172.3 64.4h6v6h-6zM177.9 70.1h6v6h-6zM30.4 75.8h6v6h-6zM200.6 75.8h6v6h-6zM183.6 87.1h6v6h-6zM-9.3 98.5h6v6h-6zM183.6 98.5h6v6h-6zM195 98.5h6v6h-6zM195 104.2h6v6h-6zM195 109.8h6v6h-6zM189.3 115.5h11.6v6h-11.6zM13.4 121.2h6v6h-6zM189.3 121.2h11.6v6h-11.6zM189.3 126.9h11.6v6h-11.6zM183.6 132.5h6v6h-6zM30.4 138.2h6v6h-6zM172.3 149.6h6v6h-6zM47.4 155.2h6v6h-6zM166.6 155.2h6v6h-6zM53.1 160.9h6v6h-6z"/>
<path fill="#616161" d="M115.5 47.4h6v6h-6zM98.5 53.1h6v6h-6zM143.9 53.1h6v6h-6zM166.6 64.4h6v6h-6zM30.4 70.1h6v6h-6zM2 75.8h6v6h-6zM195 87.1h6v6h-6zM183.6 92.8h6v6h-6zM195 92.8h6v6h-6zM30.4 98.5h6v6h-6zM183.6 104.2h6v6h-6zM183.6 109.8h6v6h-6zM183.6 126.9h6v6h-6zM200.6 126.9h6v6h-6zM24.7 132.5h6v6h-6zM172.3 143.9h6v6h-6zM58.8 160.9h6v6h-6zM149.6 160.9h6v6h-6zM121.2 166.6h6v6h-6z"/>
<path fill="#656565" d="M126.9 47.4h6v6h-6zM64.4 53.1h6v6h-6zM87.1 53.1h11.6v6h-11.6zM53.1 58.8h6v6h-6zM149.6 58.8h6v6h-6zM41.7 64.4h6v6h-6zM160.9 64.4h6v6h-6zM177.9 75.8h6v6h-6zM2 92.8h6v6h-6zM183.6 115.5h6v6h-6zM183.6 121.2h6v6h-6zM206.3 126.9h6v6h-6zM177.9 132.5h6v6h-6zM160.9 155.2h6v6h-6zM64.4 160.9h6v6h-6z"/>
<path fill="#696969" d="M121.2 47.4h6v6h-6zM70.1 53.1h17.3v6h-17.3zM104.2 53.1h6v6h-6zM36.1 70.1h6v6h-6zM172.3 70.1h6v6h-6zM-3.6 75.8h6v6h-6zM36.1 81.5h6v6h-6zM36.1 87.1h6v6h-6zM19 115.5h6v6h-6zM200.6 121.2h6v6h-6zM19 126.9h6v6h-6zM212 126.9h6v6h-6zM172.3 138.2h6v6h-6zM166.6 149.6h6v6h-6zM143.9 160.9h6v6h-6zM81.5 166.6h6v6h-6zM115.5 166.6h6v6h-6z"/>
<path fill="#6d6d6d" d="M58.8 58.8h6v6h-6zM47.4 64.4h6v6h-6zM155.2 64.4h6v6h-6zM-15 75.8h11.6v6h-11.6zM36.1 75.8h6v6h-6zM177.9 81.5h6v6h-6zM36.1 92.8h6v6h-6zM24.7 109.8h6v6h-6zM200.6 109.8h6v6h-6zM200.6 115.5h6v6h-6zM177.9 126.9h6v6h-6zM217.6 126.9h6v6h-6zM41.7 143.9h6v6h-6zM47.4 149.6h6v6h-6zM53.1 155.2h6v6h-6zM155.2 155.2h6v6h-6zM70.1 160.9h6v6h-6zM126.9 160.9h17.3v6h-17.3zM109.8 166.6h6v6h-6z"/>
<path fill="#717171" d="M138.2 53.1h6v6h-6zM166.6 70.1h6v6h-6zM206.3 75.8h6v6h-6zM2 81.5h6v6h-6zM2 87.1h6v6h-6zM177.9 87.1h6v6h-6zM177.9 92.8h6v6h-6zM177.9 98.5h6v6h-6zM30.4 104.2h6v6h-6zM177.9 104.2h6v6h-6zM200.6 104.2h6v6h-6zM177.9 109.8h6v6h-6zM19 121.2h6v6h-6zM36.1 138.2h6v6h-6zM121.2 160.9h6v6h-6zM104.2 166.6h6v6h-6z"/>
<path fill="#757575" d="M109.8 53.1h6v6h-6zM64.4 58.8h6v6h-6zM143.9 58.8h6v6h-6zM53.1 64.4h6v6h-6zM41.7 70.1h6v6h-6zM172.3 75.8h6v6h-6zM200.6 81.5h6v6h-6zM-3.6 92.8h6v6h-6zM177.9 115.5h6v6h-6zM177.9 121.2h6v6h-6zM30.4 132.5h6v6h-6zM172.3 132.5h6v6h-6zM166.6 143.9h6v6h-6zM160.9 149.6h6v6h-6zM87.1 166.6h6v6h-6z"/>
<path fill="#797979" d="M70.1 58.8h6v6h-6zM149.6 64.4h6v6h-6zM41.7 75.8h6v6h-6zM41.7 81.5h6v6h-6zM41.7 87.1h6v6h-6zM-9.3 92.8h6v6h-6zM36.1 98.5h6v6h-6zM200.6 98.5h6v6h-6zM206.3 121.2h6v6h-6zM24.7 126.9h6v6h-6zM58.8 155.2h6v6h-6zM149.6 155.2h6v6h-6zM75.8 160.9h6v6h-6zM115.5 160.9h6v6h-6zM92.8 166.6h11.6v6h-11.6z"/>
<path fill="#7d7d7d" d="M75.8 58.8h6v6h-6zM58.8 64.4h6v6h-6zM47.4 70.1h6v6h-6zM160.9 70.1h6v6h-6zM212 75.8h6v6h-6zM24.7 115.5h6v6h-6zM172.3 126.9h6v6h-6zM166.6 138.2h6v6h-6z"/>
<path fill="#828282" d="M81.5 58.8h23v6h-23zM53.1 70.1h6v6h-6zM217.6 75.8h6v6h-6zM-3.6 81.5h6v6h-6zM172.3 81.5h6v6h-6zM200.6 87.1h6v6h-6zM41.7 92.8h6v6h-6zM200.6 92.8h6v6h-6zM30.4 109.8h6v6h-6zM206.3 109.8h6v6h-6zM206.3 115.5h6v6h-6zM24.7 121.2h6v6h-6zM47.4 143.9h6v6h-6zM53.1 149.6h6v6h-6zM155.2 149.6h6v6h-6zM64.4 155.2h6v6h-6zM121.2 155.2h11.6v6h-11.6z"/>
<path fill="#868686" d="M115.5 53.1h6v6h-6zM132.5 53.1h6v6h-6zM64.4 64.4h6v6h-6zM143.9 64.4h6v6h-6zM155.2 70.1h6v6h-6zM47.4 75.8h6v6h-6zM166.6 75.8h6v6h-6zM-9.3 81.5h6v6h-6zM-3.6 87.1h6v6h-6zM172.3 98.5h6v6h-6zM36.1 104.2h6v6h-6zM172.3 104.2h6v6h-6zM172.3 109.8h6v6h-6zM172.3 121.2h6v6h-6zM212 121.2h6v6h-6zM41.7 138.2h6v6h-6zM160.9 143.9h6v6h-6zM132.5 155.2h6v6h-6zM143.9 155.2h6v6h-6zM81.5 160.9h6v6h-6zM109.8 160.9h6v6h-6z"/>
<path fill="#8a8a8a" d="M104.2 58.8h6v6h-6zM138.2 58.8h6v6h-6zM70.1 64.4h6v6h-6zM58.8 70.1h6v6h-6zM47.4 81.5h6v6h-6zM172.3 87.1h6v6h-6zM172.3 92.8h6v6h-6zM206.3 104.2h6v6h-6zM172.3 115.5h6v6h-6zM217.6 121.2h6v6h-6zM30.4 126.9h6v6h-6zM36.1 132.5h6v6h-6zM166.6 132.5h6v6h-6zM70.1 155.2h6v6h-6zM115.5 155.2h6v6h-6zM138.2 155.2h6v6h-6z"/>
<path fill="#8e8e8e" d="M149.6 70.1h6v6h-6zM53.1 75.8h6v6h-6zM121.2 81.5h11.6v6h-11.6zM-9.3 87.1h6v6h-6zM47.4 87.1h6v6h-6zM121.2 87.1h6v6h-6zM41.7 98.5h6v6h-6zM30.4 115.5h6v6h-6zM212 115.5h6v6h-6zM58.8 149.6h6v6h-6zM149.6 149.6h6v6h-6zM104.2 160.9h6v6h-6z"/>
<path fill="#929292" d="M121.2 53.1h11.6v6h-11.6zM75.8 64.4h6v6h-6zM160.9 75.8h6v6h-6zM126.9 87.1h6v6h-6zM212 109.8h6v6h-6zM217.6 115.5h6v6h-6zM30.4 121.2h6v6h-6zM166.6 126.9h6v6h-6zM160.9 138.2h6v6h-6zM53.1 143.9h6v6h-6zM87.1 160.9h6v6h-6z"/>
<path fill="#969696" d="M109.8 58.8h6v6h-6zM138.2 64.4h6v6h-6zM64.4 70.1h6v6h-6zM143.9 70.1h6v6h-6zM53.1 81.5h6v6h-6zM115.5 81.5h6v6h-6zM166.6 81.5h6v6h-6zM206.3 81.5h6v6h-6zM47.4 92.8h6v6h-6zM206.3 98.5h6v6h-6zM217.6 109.8h6v6h-6zM47.4 138.2h6v6h-6zM155.2 143.9h6v6h-6zM121.2 149.6h11.6v6h-11.6zM75.8 155.2h6v6h-6zM109.8 155.2h6v6h-6zM92.8 160.9h11.6v6h-11.6z"/>
<path fill="#9a9a9a" d="M81.5 64.4h6v6h-6zM58.8 75.8h6v6h-6zM132.5 81.5h6v6h-6zM115.5 87.1h6v6h-6zM41.7 104.2h6v6h-6zM166.6 104.2h6v6h-6zM212 104.2h6v6h-6zM36.1 109.8h6v6h-6zM166.6 109.8h6v6h-6zM166.6 115.5h6v6h-6zM166.6 121.2h6v6h-6zM64.4 149.6h6v6h-6zM132.5 149.6h6v6h-6zM143.9 149.6h6v6h-6z"/>
<path fill="#9e9e9e" d="M132.5 58.8h6v6h-6zM87.1 64.4h11.6v6h-11.6zM70.1 70.1h6v6h-6zM138.2 70.1h6v6h-6zM121.2 75.8h11.6v6h-11.6zM155.2 75.8h6v6h-6zM53.1 87.1h6v6h-6zM132.5 87.1h6v6h-6zM166.6 87.1h6v6h-6zM47.4 98.5h6v6h-6zM166.6 98.5h6v6h-6zM217.6 104.2h6v6h-6zM36.1 126.9h6v6h-6zM41.7 132.5h6v6h-6zM160.9 132.5h6v6h-6zM58.8 143.9h6v6h-6zM115.5 149.6h6v6h-6zM138.2 149.6h6v6h-6zM81.5 155.2h6v6h-6z"/>
<path fill="#a2a2a2" d="M98.5 64.4h6v6h-6zM132.5 75.8h23v6h-23zM166.6 92.8h6v6h-6zM149.6 143.9h6v6h-6zM70.1 149.6h6v6h-6zM87.1 155.2h6v6h-6zM104.2 155.2h6v6h-6z"/>
<path fill="#a6a6a6" d="M115.5 58.8h6v6h-6zM104.2 64.4h6v6h-6zM132.5 64.4h6v6h-6zM132.5 70.1h6v6h-6zM64.4 75.8h6v6h-6zM115.5 75.8h6v6h-6zM58.8 81.5h6v6h-6zM138.2 81.5h6v6h-6zM160.9 81.5h6v6h-6zM53.1 92.8h6v6h-6zM206.3 92.8h6v6h-6zM36.1 115.5h6v6h-6zM160.9 126.9h6v6h-6zM53.1 138.2h6v6h-6zM155.2 138.2h6v6h-6zM75.8 149.6h6v6h-6zM109.8 149.6h6v6h-6zM92.8 155.2h11.6v6h-11.6z"/>
<path fill="#aaaaaa" d="M126.9 58.8h6v6h-6zM75.8 70.1h6v6h-6zM109.8 81.5h6v6h-6zM212 81.5h6v6h-6zM206.3 87.1h6v6h-6zM121.2 92.8h11.6v6h-11.6zM47.4 104.2h6v6h-6zM160.9 104.2h6v6h-6zM160.9 109.8h6v6h-6zM160.9 115.5h6v6h-6zM36.1 121.2h6v6h-6zM160.9 121.2h6v6h-6zM64.4 143.9h6v6h-6zM115.5 143.9h23v6h-23zM143.9 143.9h6v6h-6zM81.5 149.6h11.6v6h-11.6z"/>
<path fill="#aeaeae" d="M121.2 58.8h6v6h-6zM109.8 64.4h6v6h-6zM126.9 70.1h6v6h-6zM58.8 87.1h6v6h-6zM109.8 87.1h6v6h-6zM138.2 87.1h6v6h-6zM53.1 98.5h6v6h-6zM160.9 98.5h6v6h-6zM212 98.5h6v6h-6zM41.7 109.8h6v6h-6zM70.1 121.2h6v6h-6zM70.1 126.9h6v6h-6zM155.2 132.5h6v6h-6zM58.8 138.2h6v6h-6zM149.6 138.2h6v6h-6zM81.5 143.9h23v6h-23zM109.8 143.9h6v6h-6zM138.2 143.9h6v6h-6zM92.8 149.6h17.3v6h-17.3z"/>
<path fill="#b2b2b2" d="M109.8 75.8h6v6h-6zM143.9 81.5h17.3v6h-17.3zM217.6 81.5h6v6h-6zM160.9 87.1h6v6h-6zM132.5 92.8h6v6h-6zM160.9 92.8h6v6h-6zM217.6 98.5h6v6h-6zM70.1 115.5h6v6h-6zM64.4 121.2h6v6h-6zM64.4 126.9h6v6h-6zM75.8 126.9h6v6h-6zM47.4 132.5h6v6h-6zM70.1 132.5h6v6h-6zM64.4 138.2h6v6h-6zM87.1 138.2h34.3v6h-34.3zM70.1 143.9h11.6v6h-11.6zM104.2 143.9h6v6h-6z"/>
<path fill="#b6b6b6" d="M115.5 64.4h6v6h-6zM126.9 64.4h6v6h-6zM81.5 70.1h6v6h-6zM109.8 70.1h17.3v6h-17.3zM70.1 75.8h6v6h-6zM64.4 81.5h6v6h-6zM58.8 92.8h6v6h-6zM115.5 92.8h6v6h-6zM53.1 104.2h6v6h-6zM155.2 104.2h6v6h-6zM155.2 109.8h6v6h-6zM75.8 121.2h6v6h-6zM41.7 126.9h6v6h-6zM155.2 126.9h6v6h-6zM64.4 132.5h6v6h-6zM75.8 132.5h6v6h-6zM98.5 132.5h23v6h-23zM70.1 138.2h17.3v6h-17.3zM121.2 138.2h11.6v6h-11.6zM138.2 138.2h11.6v6h-11.6z"/>
<path fill="#bababa" d="M121.2 64.4h6v6h-6zM98.5 70.1h11.6v6h-11.6zM143.9 87.1h6v6h-6zM155.2 87.1h6v6h-6zM138.2 92.8h6v6h-6zM155.2 98.5h6v6h-6zM41.7 115.5h6v6h-6zM64.4 115.5h6v6h-6zM75.8 115.5h6v6h-6zM155.2 115.5h6v6h-6zM155.2 121.2h6v6h-6zM104.2 126.9h11.6v6h-11.6zM53.1 132.5h11.6v6h-11.6zM81.5 132.5h17.3v6h-17.3zM121.2 132.5h6v6h-6zM149.6 132.5h6v6h-6zM132.5 138.2h6v6h-6z"/>
<path fill="#bebebe" d="M87.1 70.1h11.6v6h-11.6zM104.2 75.8h6v6h-6zM149.6 87.1h6v6h-6zM155.2 92.8h6v6h-6zM58.8 98.5h6v6h-6zM47.4 109.8h6v6h-6zM81.5 126.9h6v6h-6zM115.5 126.9h6v6h-6zM126.9 132.5h6v6h-6zM143.9 132.5h6v6h-6z"/>
<path fill="#c2c2c2" d="M104.2 81.5h6v6h-6zM64.4 87.1h6v6h-6zM212 87.1h6v6h-6zM143.9 92.8h11.6v6h-11.6zM212 92.8h6v6h-6zM149.6 98.5h6v6h-6zM58.8 104.2h6v6h-6zM149.6 104.2h6v6h-6zM64.4 109.8h11.6v6h-11.6zM149.6 109.8h6v6h-6zM41.7 121.2h6v6h-6zM81.5 121.2h6v6h-6zM58.8 126.9h6v6h-6zM98.5 126.9h6v6h-6zM121.2 126.9h6v6h-6zM149.6 126.9h6v6h-6zM132.5 132.5h11.6v6h-11.6z"/>
<path fill="#c6c6c6" d="M75.8 75.8h6v6h-6zM64.4 92.8h6v6h-6zM217.6 92.8h6v6h-6zM132.5 98.5h17.3v6h-17.3zM64.4 104.2h6v6h-6zM53.1 109.8h11.6v6h-11.6zM75.8 109.8h6v6h-6zM58.8 115.5h6v6h-6zM149.6 115.5h6v6h-6zM58.8 121.2h6v6h-6zM149.6 121.2h6v6h-6zM47.4 126.9h6v6h-6zM87.1 126.9h11.6v6h-11.6zM126.9 126.9h11.6v6h-11.6zM143.9 126.9h6v6h-6z"/>
<path fill="#cacaca" d="M70.1 81.5h6v6h-6zM104.2 87.1h6v6h-6zM217.6 87.1h6v6h-6zM64.4 98.5h6v6h-6zM126.9 98.5h6v6h-6zM143.9 104.2h6v6h-6zM143.9 109.8h6v6h-6zM81.5 115.5h6v6h-6zM109.8 121.2h17.3v6h-17.3zM143.9 121.2h6v6h-6zM53.1 126.9h6v6h-6zM138.2 126.9h6v6h-6z"/>
<path fill="#cecece" d="M98.5 75.8h6v6h-6zM109.8 92.8h6v6h-6zM70.1 104.2h6v6h-6zM138.2 104.2h6v6h-6zM81.5 109.8h6v6h-6zM47.4 115.5h11.6v6h-11.6zM143.9 115.5h6v6h-6zM87.1 121.2h6v6h-6zM98.5 121.2h11.6v6h-11.6zM126.9 121.2h17.3v6h-17.3z"/>
<path fill="#d2d2d2" d="M121.2 98.5h6v6h-6zM138.2 109.8h6v6h-6zM138.2 115.5h6v6h-6zM47.4 121.2h11.6v6h-11.6zM92.8 121.2h6v6h-6z"/>
<path fill="#d7d7d7" d="M70.1 87.1h6v6h-6zM70.1 98.5h6v6h-6zM75.8 104.2h6v6h-6zM132.5 104.2h6v6h-6zM87.1 115.5h6v6h-6zM132.5 115.5h6v6h-6z"/>
<path fill="#dbdbdb" d="M81.5 75.8h6v6h-6zM92.8 75.8h6v6h-6zM98.5 81.5h6v6h-6zM70.1 92.8h6v6h-6zM126.9 115.5h6v6h-6z"/>
<path fill="#dfdfdf" d="M87.1 75.8h6v6h-6zM115.5 98.5h6v6h-6zM81.5 104.2h6v6h-6zM87.1 109.8h6v6h-6zM132.5 109.8h6v6h-6zM92.8 115.5h6v6h-6zM121.2 115.5h6v6h-6z"/>
<path fill="#e3e3e3" d="M75.8 81.5h6v6h-6zM104.2 92.8h6v6h-6zM75.8 98.5h6v6h-6zM126.9 104.2h6v6h-6zM98.5 115.5h6v6h-6zM115.5 115.5h6v6h-6z"/>
<path fill="#e7e7e7" d="M87.1 104.2h6v6h-6zM126.9 109.8h6v6h-6zM104.2 115.5h11.6v6h-11.6z"/>
<path fill="#ebebeb" d="M98.5 87.1h6v6h-6zM92.8 109.8h6v6h-6z"/>
<path fill="#efefef" d="M75.8 87.1h6v6h-6zM75.8 92.8h6v6h-6zM81.5 98.5h6v6h-6zM109.8 98.5h6v6h-6zM121.2 104.2h6v6h-6zM121.2 109.8h6v6h-6z"/>
<path fill="#f3f3f3" d="M92.8 81.5h6v6h-6z"/>
<path fill="#f7f7f7" d="M81.5 81.5h6v6h-6zM98.5 92.8h6v6h-6zM87.1 98.5h6v6h-6zM92.8 104.2h6v6h-6zM98.5 109.8h6v6h-6zM115.5 109.8h6v6h-6z"/>
<path fill="#fbfbfb" d="M104.2 98.5h6v6h-6zM115.5 104.2h6v6h-6z"/>
<path fill="#ffffff" d="M87.1 81.5h6v6h-6zM81.5 87.1h17.3v6h-17.3zM81.5 92.8h17.3v6h-17.3zM92.8 98.5h11.6v6h-11.6zM98.5 104.2h17.3v6h-17.3zM104.2 109.8h11.6v6h-11.6z"/>
</g></g>
<g clip-path="url(#cp10)"><g filter="url(#hm)" transform="translate(93.3 245)">
<rect x="-20" y="-20" width="254" height="254" fill="#000"/>
<path fill="#000000" d="M-20.7 -9.3h45.7v6h-45.7zM177.9 -9.3h17.3v6h-17.3zM200.6 -9.3h34.3v6h-34.3zM-20.7 -3.6h45.7v6h-45.7zM177.9 -3.6h57v6h-57zM-3.6 2h28.7v6h-28.7zM172.3 2h28.7v6h-28.7zM2 7.7h23v6h-23zM172.3 7.7h28.7v6h-28.7zM2 13.4h17.3v6h-17.3zM172.3 13.4h28.7v6h-28.7zM-20.7 19h40v6h-40zM177.9 19h17.3v6h-17.3zM-20.7 24.7h34.3v6h-34.3zM-20.7 30.4h28.7v6h-28.7zM-9.3 36.1h6v6h-6zM-15 81.5h17.3v6h-17.3zM-20.7 87.1h23v6h-23zM-9.3 92.8h11.6v6h-11.6zM-20.7 138.2h23v6h-23zM-20.7 143.9h28.7v6h-28.7zM-20.7 149.6h28.7v6h-28.7zM212 149.6h17.3v6h-17.3zM-20.7 155.2h40v6h-40zM212 155.2h23v6h-23zM2 160.9h28.7v6h-28.7zM212 160.9h23v6h-23zM2 166.6h28.7v6h-28.7zM-20.7 172.3h57v6h-57zM195 172.3h6v6h-6zM-20.7 177.9h28.7v6h-28.7zM19 177.9h23v6h-23zM189.3 177.9h11.6v6h-11.6zM-20.7 183.6h28.7v6h-28.7zM19 183.6h23v6h-23zM183.6 183.6h17.3v6h-17.3zM-20.7 189.3h68.4v6h-68.4zM58.8 189.3h17.3v6h-17.3zM155.2 189.3h11.6v6h-11.6zM177.9 189.3h23v6h-23zM-20.7 195h221.6v6h-221.6zM-20.7 200.6h215.9v6h-215.9zM-20.7 206.3h221.6v6h-221.6zM-20.7 212h255.6v6h-255.6zM-20.7 217.6h108.1v6h-108.1zM149.6 217.6h85.4v6h-85.4z"/>
<path fill="#040404" d="M195 -9.3h6v6h-6zM-15 2h11.6v6h-11.6zM200.6 2h34.3v6h-34.3zM-20.7 7.7h23v6h-23zM200.6 7.7h6v6h-6zM-15 13.4h17.3v6h-17.3zM19 13.4h6v6h-6zM-3.6 36.1h6v6h-6zM-20.7 160.9h23v6h-23zM-20.7 166.6h23v6h-23zM30.4 166.6h6v6h-6zM7.7 177.9h11.6v6h-11.6zM183.6 177.9h6v6h-6zM200.6 177.9h6v6h-6zM7.7 183.6h11.6v6h-11.6zM41.7 183.6h6v6h-6zM47.4 189.3h11.6v6h-11.6zM75.8 189.3h11.6v6h-11.6zM109.8 189.3h11.6v6h-11.6zM149.6 189.3h6v6h-6zM166.6 189.3h11.6v6h-11.6zM195 200.6h6v6h-6zM200.6 206.3h11.6v6h-11.6zM87.1 217.6h62.7v6h-62.7z"/>
<path fill="#080808" d="M24.7 -9.3h6v6h-6zM172.3 -9.3h6v6h-6zM24.7 -3.6h6v6h-6zM172.3 -3.6h6v6h-6zM195 19h6v6h-6zM13.4 24.7h6v6h-6zM7.7 30.4h6v6h-6zM2 36.1h6v6h-6zM2 87.1h6v6h-6zM7.7 149.6h6v6h-6zM19 155.2h6v6h-6zM206.3 160.9h6v6h-6zM36.1 172.3h6v6h-6zM189.3 172.3h6v6h-6zM200.6 172.3h6v6h-6zM64.4 183.6h11.6v6h-11.6zM177.9 183.6h6v6h-6zM200.6 183.6h6v6h-6zM87.1 189.3h23v6h-23zM121.2 189.3h28.7v6h-28.7zM200.6 200.6h6v6h-6zM212 206.3h17.3v6h-17.3z"/>
<path fill="#0c0c0c" d="M24.7 2h6v6h-6zM206.3 7.7h6v6h-6zM200.6 13.4h6v6h-6zM-9.3 132.5h6v6h-6zM2 138.2h6v6h-6zM217.6 143.9h6v6h-6zM206.3 155.2h6v6h-6zM206.3 166.6h28.7v6h-28.7zM41.7 177.9h6v6h-6zM47.4 183.6h6v6h-6zM58.8 183.6h6v6h-6zM155.2 183.6h17.3v6h-17.3zM200.6 189.3h6v6h-6zM200.6 195h6v6h-6z"/>
<path fill="#101010" d="M19 19h6v6h-6zM172.3 19h6v6h-6zM2 81.5h6v6h-6zM-3.6 132.5h6v6h-6zM212 143.9h6v6h-6zM24.7 155.2h6v6h-6zM30.4 160.9h6v6h-6zM200.6 166.6h6v6h-6zM53.1 183.6h6v6h-6zM75.8 183.6h6v6h-6zM172.3 183.6h6v6h-6zM206.3 200.6h6v6h-6z"/>
<path fill="#141414" d="M30.4 -9.3h6v6h-6zM81.5 -9.3h11.6v6h-11.6zM24.7 7.7h6v6h-6zM166.6 7.7h6v6h-6zM212 7.7h17.3v6h-17.3zM166.6 13.4h6v6h-6zM200.6 19h6v6h-6zM7.7 36.1h6v6h-6zM13.4 149.6h6v6h-6zM206.3 149.6h6v6h-6zM36.1 166.6h6v6h-6zM206.3 172.3h6v6h-6zM64.4 177.9h6v6h-6zM149.6 183.6h6v6h-6zM212 200.6h6v6h-6z"/>
<path fill="#181818" d="M121.2 -9.3h11.6v6h-11.6zM30.4 -3.6h6v6h-6zM81.5 -3.6h11.6v6h-11.6zM121.2 -3.6h6v6h-6zM166.6 2h6v6h-6zM206.3 13.4h6v6h-6zM189.3 24.7h6v6h-6zM13.4 30.4h6v6h-6zM-9.3 75.8h11.6v6h-11.6zM2 92.8h6v6h-6zM7.7 143.9h6v6h-6zM195 166.6h6v6h-6zM41.7 172.3h6v6h-6zM47.4 177.9h6v6h-6zM58.8 177.9h6v6h-6zM70.1 177.9h6v6h-6zM160.9 177.9h6v6h-6zM177.9 177.9h6v6h-6zM81.5 183.6h6v6h-6zM217.6 200.6h6v6h-6z"/>
<path fill="#1c1c1c" d="M126.9 -3.6h6v6h-6zM24.7 13.4h6v6h-6zM19 24.7h6v6h-6zM183.6 24.7h6v6h-6zM195 24.7h6v6h-6zM-20.7 41.7h23v6h-23zM200.6 160.9h6v6h-6zM183.6 172.3h6v6h-6zM53.1 177.9h6v6h-6zM155.2 177.9h6v6h-6zM166.6 177.9h6v6h-6zM206.3 177.9h6v6h-6zM104.2 183.6h23v6h-23zM206.3 195h6v6h-6z"/>
<path fill="#202020" d="M75.8 -9.3h6v6h-6zM92.8 -9.3h6v6h-6zM166.6 -3.6h6v6h-6zM30.4 2h6v6h-6zM2 41.7h6v6h-6zM-9.3 98.5h6v6h-6zM2 132.5h6v6h-6zM217.6 138.2h6v6h-6zM19 149.6h6v6h-6zM30.4 155.2h6v6h-6zM36.1 160.9h6v6h-6zM212 172.3h6v6h-6zM75.8 177.9h6v6h-6zM172.3 177.9h6v6h-6zM87.1 183.6h17.3v6h-17.3zM126.9 183.6h6v6h-6zM143.9 183.6h6v6h-6zM206.3 183.6h6v6h-6zM206.3 189.3h6v6h-6z"/>
<path fill="#242424" d="M115.5 -9.3h6v6h-6zM166.6 -9.3h6v6h-6zM75.8 -3.6h6v6h-6zM92.8 -3.6h6v6h-6zM212 13.4h17.3v6h-17.3zM206.3 19h6v6h-6zM177.9 24.7h6v6h-6zM200.6 24.7h6v6h-6zM13.4 36.1h6v6h-6zM7.7 41.7h6v6h-6zM-3.6 98.5h6v6h-6zM212 138.2h6v6h-6zM206.3 143.9h6v6h-6zM217.6 172.3h6v6h-6zM132.5 183.6h11.6v6h-11.6zM212 195h6v6h-6z"/>
<path fill="#282828" d="M132.5 -9.3h6v6h-6zM115.5 -3.6h6v6h-6zM121.2 2h11.6v6h-11.6zM24.7 19h6v6h-6zM166.6 19h6v6h-6zM19 30.4h6v6h-6zM2 75.8h6v6h-6zM24.7 149.6h6v6h-6zM200.6 155.2h6v6h-6zM41.7 166.6h6v6h-6zM189.3 166.6h6v6h-6zM47.4 172.3h6v6h-6zM160.9 172.3h6v6h-6zM149.6 177.9h6v6h-6zM217.6 195h6v6h-6z"/>
<path fill="#2d2d2d" d="M36.1 -9.3h6v6h-6zM36.1 -3.6h6v6h-6zM132.5 -3.6h6v6h-6zM30.4 7.7h6v6h-6zM13.4 41.7h6v6h-6zM-9.3 126.9h11.6v6h-11.6zM212 132.5h11.6v6h-11.6zM7.7 138.2h6v6h-6zM64.4 172.3h6v6h-6zM155.2 172.3h6v6h-6zM177.9 172.3h6v6h-6zM212 177.9h6v6h-6z"/>
<path fill="#313131" d="M81.5 2h11.6v6h-11.6zM160.9 7.7h6v6h-6zM160.9 13.4h6v6h-6zM212 19h17.3v6h-17.3zM206.3 24.7h6v6h-6zM7.7 87.1h6v6h-6zM2 98.5h6v6h-6zM206.3 138.2h6v6h-6zM13.4 143.9h6v6h-6zM53.1 172.3h11.6v6h-11.6zM70.1 172.3h6v6h-6zM166.6 172.3h11.6v6h-11.6zM81.5 177.9h6v6h-6zM212 189.3h6v6h-6z"/>
<path fill="#353535" d="M70.1 -9.3h6v6h-6zM98.5 -9.3h6v6h-6zM109.8 -9.3h6v6h-6zM36.1 2h6v6h-6zM115.5 2h6v6h-6zM132.5 2h6v6h-6zM160.9 2h6v6h-6zM24.7 24.7h6v6h-6zM172.3 24.7h6v6h-6zM195 30.4h6v6h-6zM19 36.1h6v6h-6zM2 47.4h11.6v6h-11.6zM7.7 81.5h6v6h-6zM212 126.9h11.6v6h-11.6zM30.4 149.6h6v6h-6zM200.6 149.6h6v6h-6zM36.1 155.2h6v6h-6zM195 160.9h6v6h-6zM183.6 166.6h6v6h-6zM109.8 177.9h11.6v6h-11.6zM143.9 177.9h6v6h-6zM217.6 177.9h6v6h-6zM212 183.6h6v6h-6zM217.6 189.3h6v6h-6z"/>
<path fill="#393939" d="M70.1 -3.6h6v6h-6zM98.5 -3.6h6v6h-6zM109.8 -3.6h6v6h-6zM75.8 2h6v6h-6zM92.8 2h6v6h-6zM30.4 13.4h6v6h-6zM212 24.7h17.3v6h-17.3zM189.3 30.4h6v6h-6zM200.6 30.4h6v6h-6zM-20.7 47.4h23v6h-23zM13.4 47.4h6v6h-6zM7.7 92.8h6v6h-6zM2 126.9h6v6h-6zM7.7 132.5h6v6h-6zM206.3 132.5h6v6h-6zM41.7 160.9h6v6h-6zM47.4 166.6h6v6h-6zM75.8 172.3h6v6h-6zM149.6 172.3h6v6h-6zM104.2 177.9h6v6h-6zM121.2 177.9h6v6h-6zM217.6 183.6h6v6h-6z"/>
<path fill="#3d3d3d" d="M138.2 -9.3h6v6h-6zM160.9 -9.3h6v6h-6zM138.2 -3.6h6v6h-6zM160.9 -3.6h6v6h-6zM36.1 7.7h6v6h-6zM24.7 30.4h6v6h-6zM206.3 30.4h6v6h-6zM19 41.7h6v6h-6zM-15 70.1h17.3v6h-17.3zM212 121.2h11.6v6h-11.6zM19 143.9h6v6h-6zM155.2 166.6h6v6h-6zM87.1 177.9h17.3v6h-17.3zM126.9 177.9h6v6h-6z"/>
<path fill="#414141" d="M104.2 -9.3h6v6h-6zM104.2 -3.6h6v6h-6zM121.2 7.7h11.6v6h-11.6zM160.9 19h6v6h-6zM183.6 30.4h6v6h-6zM212 30.4h17.3v6h-17.3zM19 47.4h6v6h-6zM7.7 53.1h11.6v6h-11.6zM2 70.1h6v6h-6zM7.7 75.8h6v6h-6zM206.3 126.9h6v6h-6zM200.6 143.9h6v6h-6zM160.9 166.6h6v6h-6zM132.5 177.9h11.6v6h-11.6z"/>
<path fill="#454545" d="M70.1 2h6v6h-6zM109.8 2h6v6h-6zM138.2 2h6v6h-6zM155.2 7.7h6v6h-6zM155.2 13.4h6v6h-6zM30.4 19h6v6h-6zM24.7 36.1h6v6h-6zM206.3 36.1h28.7v6h-28.7zM7.7 98.5h6v6h-6zM-15 104.2h17.3v6h-17.3zM212 115.5h11.6v6h-11.6zM-9.3 121.2h11.6v6h-11.6zM7.7 126.9h6v6h-6zM13.4 138.2h6v6h-6zM24.7 143.9h6v6h-6zM36.1 149.6h6v6h-6zM189.3 160.9h6v6h-6zM53.1 166.6h6v6h-6zM149.6 166.6h6v6h-6zM166.6 166.6h6v6h-6zM177.9 166.6h6v6h-6zM143.9 172.3h6v6h-6z"/>
<path fill="#494949" d="M41.7 -9.3h6v6h-6zM143.9 -9.3h6v6h-6zM41.7 -3.6h6v6h-6zM143.9 -3.6h6v6h-6zM41.7 2h6v6h-6zM98.5 2h6v6h-6zM155.2 2h6v6h-6zM115.5 7.7h6v6h-6zM132.5 7.7h6v6h-6zM36.1 13.4h6v6h-6zM166.6 24.7h6v6h-6zM200.6 36.1h6v6h-6zM2 53.1h6v6h-6zM2 104.2h6v6h-6zM2 121.2h6v6h-6zM206.3 121.2h6v6h-6zM200.6 138.2h6v6h-6zM30.4 143.9h6v6h-6zM41.7 155.2h6v6h-6zM195 155.2h6v6h-6zM58.8 166.6h11.6v6h-11.6zM172.3 166.6h6v6h-6zM81.5 172.3h6v6h-6z"/>
<path fill="#4d4d4d" d="M64.4 -9.3h6v6h-6zM155.2 -9.3h6v6h-6zM64.4 -3.6h6v6h-6zM155.2 -3.6h6v6h-6zM104.2 2h6v6h-6zM143.9 2h6v6h-6zM41.7 7.7h6v6h-6zM30.4 24.7h6v6h-6zM177.9 30.4h6v6h-6zM195 36.1h6v6h-6zM24.7 41.7h6v6h-6zM212 41.7h17.3v6h-17.3zM-3.6 53.1h6v6h-6zM19 53.1h6v6h-6zM7.7 58.8h11.6v6h-11.6zM7.7 70.1h6v6h-6zM217.6 109.8h6v6h-6zM200.6 132.5h6v6h-6zM47.4 160.9h6v6h-6zM70.1 166.6h6v6h-6zM143.9 166.6h6v6h-6zM104.2 172.3h17.3v6h-17.3z"/>
<path fill="#515151" d="M149.6 -9.3h6v6h-6zM149.6 -3.6h6v6h-6zM149.6 2h6v6h-6zM81.5 7.7h11.6v6h-11.6zM138.2 7.7h6v6h-6zM149.6 7.7h6v6h-6zM41.7 13.4h6v6h-6zM155.2 19h6v6h-6zM206.3 41.7h6v6h-6zM-15 53.1h11.6v6h-11.6zM2 58.8h6v6h-6zM-9.3 64.4h23v6h-23zM7.7 104.2h6v6h-6zM212 109.8h6v6h-6zM7.7 121.2h6v6h-6zM13.4 132.5h6v6h-6zM195 149.6h6v6h-6zM143.9 160.9h17.3v6h-17.3zM183.6 160.9h6v6h-6zM87.1 172.3h6v6h-6zM98.5 172.3h6v6h-6zM121.2 172.3h23v6h-23z"/>
<path fill="#555555" d="M64.4 2h6v6h-6zM47.4 7.7h6v6h-6zM143.9 7.7h6v6h-6zM47.4 13.4h6v6h-6zM126.9 13.4h6v6h-6zM149.6 13.4h6v6h-6zM36.1 19h6v6h-6zM30.4 30.4h6v6h-6zM189.3 36.1h6v6h-6zM24.7 47.4h6v6h-6zM217.6 47.4h6v6h-6zM-3.6 58.8h6v6h-6zM13.4 64.4h6v6h-6zM217.6 104.2h6v6h-6zM-20.7 109.8h34.3v6h-34.3zM-20.7 115.5h34.3v6h-34.3zM206.3 115.5h6v6h-6zM200.6 126.9h6v6h-6zM19 138.2h6v6h-6zM36.1 143.9h6v6h-6zM160.9 160.9h6v6h-6zM75.8 166.6h6v6h-6zM138.2 166.6h6v6h-6zM92.8 172.3h6v6h-6z"/>
<path fill="#595959" d="M47.4 2h6v6h-6zM75.8 7.7h6v6h-6zM92.8 7.7h6v6h-6zM109.8 7.7h6v6h-6zM121.2 13.4h6v6h-6zM132.5 13.4h6v6h-6zM160.9 24.7h6v6h-6zM30.4 36.1h6v6h-6zM200.6 41.7h6v6h-6zM212 47.4h6v6h-6zM-15 58.8h11.6v6h-11.6zM19 58.8h6v6h-6zM13.4 81.5h6v6h-6zM13.4 87.1h6v6h-6zM13.4 92.8h6v6h-6zM13.4 98.5h6v6h-6zM13.4 104.2h6v6h-6zM212 104.2h6v6h-6zM13.4 126.9h6v6h-6zM195 143.9h6v6h-6zM41.7 149.6h6v6h-6zM189.3 155.2h6v6h-6zM138.2 160.9h6v6h-6zM166.6 160.9h17.3v6h-17.3z"/>
<path fill="#5d5d5d" d="M58.8 -9.3h6v6h-6zM47.4 -3.6h6v6h-6zM58.8 -3.6h6v6h-6zM58.8 2h6v6h-6zM53.1 7.7h6v6h-6zM70.1 7.7h6v6h-6zM53.1 13.4h6v6h-6zM138.2 13.4h11.6v6h-11.6zM41.7 19h6v6h-6zM149.6 19h6v6h-6zM36.1 24.7h6v6h-6zM172.3 30.4h6v6h-6zM206.3 47.4h6v6h-6zM13.4 70.1h6v6h-6zM13.4 75.8h6v6h-6zM13.4 109.8h6v6h-6zM206.3 109.8h6v6h-6zM13.4 115.5h6v6h-6zM13.4 121.2h6v6h-6zM200.6 121.2h6v6h-6zM24.7 138.2h6v6h-6zM195 138.2h6v6h-6zM47.4 155.2h6v6h-6zM53.1 160.9h6v6h-6zM81.5 166.6h6v6h-6zM132.5 166.6h6v6h-6z"/>
<path fill="#616161" d="M47.4 -9.3h6v6h-6zM53.1 2h6v6h-6zM58.8 7.7h11.6v6h-11.6zM98.5 7.7h11.6v6h-11.6zM115.5 13.4h6v6h-6zM47.4 19h6v6h-6zM183.6 36.1h6v6h-6zM30.4 41.7h6v6h-6zM195 41.7h6v6h-6zM24.7 53.1h6v6h-6zM212 53.1h17.3v6h-17.3zM217.6 98.5h6v6h-6zM30.4 138.2h6v6h-6zM143.9 155.2h11.6v6h-11.6zM132.5 160.9h6v6h-6zM87.1 166.6h6v6h-6zM98.5 166.6h34.3v6h-34.3z"/>
<path fill="#656565" d="M53.1 -3.6h6v6h-6zM132.5 19h17.3v6h-17.3zM155.2 24.7h6v6h-6zM200.6 47.4h6v6h-6zM19 64.4h6v6h-6zM212 98.5h6v6h-6zM19 132.5h6v6h-6zM195 132.5h6v6h-6zM189.3 143.9h6v6h-6zM189.3 149.6h6v6h-6zM138.2 155.2h6v6h-6zM155.2 155.2h6v6h-6zM177.9 155.2h11.6v6h-11.6zM58.8 160.9h6v6h-6zM92.8 166.6h6v6h-6z"/>
<path fill="#696969" d="M53.1 -9.3h6v6h-6zM58.8 13.4h6v6h-6zM53.1 19h6v6h-6zM126.9 19h6v6h-6zM41.7 24.7h6v6h-6zM143.9 24.7h11.6v6h-11.6zM36.1 30.4h6v6h-6zM166.6 30.4h6v6h-6zM206.3 53.1h6v6h-6zM217.6 58.8h6v6h-6zM19 98.5h6v6h-6zM19 104.2h6v6h-6zM206.3 104.2h6v6h-6zM19 109.8h6v6h-6zM200.6 115.5h6v6h-6zM19 126.9h6v6h-6zM177.9 149.6h11.6v6h-11.6zM160.9 155.2h17.3v6h-17.3zM64.4 160.9h6v6h-6z"/>
<path fill="#6d6d6d" d="M109.8 13.4h6v6h-6zM121.2 19h6v6h-6zM138.2 24.7h6v6h-6zM177.9 36.1h6v6h-6zM189.3 41.7h6v6h-6zM30.4 47.4h6v6h-6zM24.7 58.8h6v6h-6zM212 58.8h6v6h-6zM19 70.1h6v6h-6zM19 92.8h6v6h-6zM217.6 92.8h6v6h-6zM19 115.5h6v6h-6zM19 121.2h6v6h-6zM195 126.9h6v6h-6zM24.7 132.5h6v6h-6zM36.1 138.2h6v6h-6zM189.3 138.2h6v6h-6zM41.7 143.9h6v6h-6zM177.9 143.9h11.6v6h-11.6zM172.3 149.6h6v6h-6zM132.5 155.2h6v6h-6zM70.1 160.9h6v6h-6zM126.9 160.9h6v6h-6z"/>
<path fill="#717171" d="M64.4 13.4h6v6h-6zM132.5 24.7h6v6h-6zM138.2 30.4h11.6v6h-11.6zM36.1 36.1h6v6h-6zM195 47.4h6v6h-6zM200.6 53.1h6v6h-6zM206.3 58.8h6v6h-6zM19 87.1h6v6h-6zM212 92.8h6v6h-6zM206.3 98.5h6v6h-6zM47.4 149.6h6v6h-6zM53.1 155.2h6v6h-6zM75.8 160.9h40v6h-40zM121.2 160.9h6v6h-6z"/>
<path fill="#757575" d="M70.1 13.4h6v6h-6zM81.5 13.4h17.3v6h-17.3zM115.5 19h6v6h-6zM47.4 24.7h6v6h-6zM126.9 24.7h6v6h-6zM149.6 30.4h6v6h-6zM160.9 30.4h6v6h-6zM30.4 53.1h6v6h-6zM212 64.4h17.3v6h-17.3zM19 75.8h6v6h-6zM19 81.5h6v6h-6zM200.6 109.8h6v6h-6zM195 121.2h6v6h-6zM30.4 132.5h6v6h-6zM189.3 132.5h6v6h-6zM183.6 138.2h6v6h-6zM172.3 143.9h6v6h-6zM138.2 149.6h11.6v6h-11.6zM166.6 149.6h6v6h-6zM115.5 160.9h6v6h-6z"/>
<path fill="#797979" d="M75.8 13.4h6v6h-6zM98.5 13.4h11.6v6h-11.6zM58.8 19h6v6h-6zM41.7 30.4h6v6h-6zM132.5 30.4h6v6h-6zM155.2 30.4h6v6h-6zM172.3 36.1h6v6h-6zM36.1 41.7h6v6h-6zM183.6 41.7h6v6h-6zM24.7 64.4h6v6h-6zM217.6 70.1h6v6h-6zM212 87.1h17.3v6h-17.3zM206.3 92.8h6v6h-6zM24.7 98.5h6v6h-6zM24.7 104.2h6v6h-6zM177.9 138.2h6v6h-6zM149.6 149.6h6v6h-6z"/>
<path fill="#7d7d7d" d="M121.2 24.7h6v6h-6zM166.6 36.1h6v6h-6zM189.3 47.4h6v6h-6zM195 53.1h6v6h-6zM200.6 58.8h6v6h-6zM206.3 64.4h6v6h-6zM212 70.1h6v6h-6zM212 75.8h17.3v6h-17.3zM212 81.5h17.3v6h-17.3zM206.3 87.1h6v6h-6zM24.7 92.8h6v6h-6zM200.6 104.2h6v6h-6zM24.7 109.8h6v6h-6zM24.7 126.9h6v6h-6zM41.7 138.2h6v6h-6zM155.2 149.6h11.6v6h-11.6zM58.8 155.2h6v6h-6zM126.9 155.2h6v6h-6z"/>
<path fill="#828282" d="M109.8 19h6v6h-6zM53.1 24.7h6v6h-6zM138.2 36.1h17.3v6h-17.3zM177.9 41.7h6v6h-6zM36.1 47.4h6v6h-6zM30.4 58.8h6v6h-6zM206.3 70.1h6v6h-6zM206.3 81.5h6v6h-6zM24.7 87.1h6v6h-6zM24.7 115.5h6v6h-6zM195 115.5h6v6h-6zM24.7 121.2h6v6h-6zM189.3 126.9h6v6h-6zM36.1 132.5h6v6h-6zM172.3 138.2h6v6h-6zM166.6 143.9h6v6h-6zM132.5 149.6h6v6h-6zM87.1 155.2h23v6h-23z"/>
<path fill="#868686" d="M64.4 19h6v6h-6zM126.9 30.4h6v6h-6zM41.7 36.1h6v6h-6zM155.2 36.1h11.6v6h-11.6zM200.6 64.4h6v6h-6zM24.7 70.1h6v6h-6zM24.7 75.8h6v6h-6zM206.3 75.8h6v6h-6zM24.7 81.5h6v6h-6zM200.6 92.8h6v6h-6zM200.6 98.5h6v6h-6zM183.6 132.5h6v6h-6zM47.4 143.9h6v6h-6zM53.1 149.6h6v6h-6zM64.4 155.2h6v6h-6zM81.5 155.2h6v6h-6zM109.8 155.2h6v6h-6zM121.2 155.2h6v6h-6z"/>
<path fill="#8a8a8a" d="M104.2 19h6v6h-6zM115.5 24.7h6v6h-6zM47.4 30.4h6v6h-6zM132.5 36.1h6v6h-6zM155.2 41.7h23v6h-23zM183.6 47.4h6v6h-6zM189.3 53.1h6v6h-6zM195 58.8h6v6h-6zM200.6 70.1h6v6h-6zM200.6 81.5h6v6h-6zM200.6 87.1h6v6h-6zM30.4 126.9h6v6h-6zM143.9 143.9h6v6h-6zM70.1 155.2h11.6v6h-11.6zM115.5 155.2h6v6h-6z"/>
<path fill="#8e8e8e" d="M70.1 19h6v6h-6zM81.5 19h23v6h-23zM58.8 24.7h6v6h-6zM149.6 41.7h6v6h-6zM155.2 47.4h11.6v6h-11.6zM36.1 53.1h6v6h-6zM30.4 64.4h6v6h-6zM200.6 75.8h6v6h-6zM30.4 87.1h6v6h-6zM30.4 92.8h6v6h-6zM30.4 98.5h6v6h-6zM30.4 104.2h6v6h-6zM195 109.8h6v6h-6zM189.3 121.2h6v6h-6zM41.7 132.5h6v6h-6zM177.9 132.5h6v6h-6zM166.6 138.2h6v6h-6zM138.2 143.9h6v6h-6zM149.6 143.9h6v6h-6zM160.9 143.9h6v6h-6zM126.9 149.6h6v6h-6z"/>
<path fill="#929292" d="M75.8 19h6v6h-6zM121.2 30.4h6v6h-6zM41.7 41.7h6v6h-6zM143.9 41.7h6v6h-6zM166.6 47.4h17.3v6h-17.3zM195 64.4h6v6h-6zM30.4 81.5h6v6h-6zM195 87.1h6v6h-6zM30.4 109.8h6v6h-6zM47.4 138.2h6v6h-6zM155.2 143.9h6v6h-6zM58.8 149.6h6v6h-6zM92.8 149.6h6v6h-6z"/>
<path fill="#969696" d="M109.8 24.7h6v6h-6zM53.1 30.4h6v6h-6zM126.9 36.1h6v6h-6zM138.2 41.7h6v6h-6zM149.6 47.4h6v6h-6zM183.6 53.1h6v6h-6zM36.1 58.8h6v6h-6zM189.3 58.8h6v6h-6zM30.4 70.1h6v6h-6zM195 70.1h6v6h-6zM30.4 75.8h6v6h-6zM195 75.8h6v6h-6zM195 81.5h6v6h-6zM195 92.8h6v6h-6zM195 98.5h6v6h-6zM195 104.2h6v6h-6zM30.4 115.5h6v6h-6zM30.4 121.2h6v6h-6zM36.1 126.9h6v6h-6zM183.6 126.9h6v6h-6zM53.1 143.9h6v6h-6zM132.5 143.9h6v6h-6zM87.1 149.6h6v6h-6zM98.5 149.6h11.6v6h-11.6z"/>
<path fill="#9a9a9a" d="M64.4 24.7h6v6h-6zM47.4 36.1h6v6h-6zM41.7 47.4h6v6h-6zM160.9 53.1h11.6v6h-11.6zM36.1 64.4h6v6h-6zM189.3 115.5h6v6h-6zM172.3 132.5h6v6h-6zM138.2 138.2h17.3v6h-17.3zM160.9 138.2h6v6h-6zM64.4 149.6h6v6h-6zM81.5 149.6h6v6h-6zM109.8 149.6h17.3v6h-17.3z"/>
<path fill="#9e9e9e" d="M81.5 24.7h28.7v6h-28.7zM115.5 30.4h6v6h-6zM41.7 53.1h6v6h-6zM155.2 53.1h6v6h-6zM172.3 53.1h11.6v6h-11.6zM41.7 58.8h6v6h-6zM183.6 58.8h6v6h-6zM189.3 64.4h6v6h-6zM36.1 70.1h6v6h-6zM189.3 70.1h6v6h-6zM189.3 75.8h6v6h-6zM189.3 81.5h6v6h-6zM189.3 87.1h6v6h-6zM36.1 92.8h6v6h-6zM189.3 92.8h6v6h-6zM36.1 98.5h6v6h-6zM189.3 109.8h6v6h-6zM41.7 126.9h6v6h-6zM47.4 132.5h6v6h-6zM143.9 132.5h6v6h-6zM166.6 132.5h6v6h-6zM155.2 138.2h6v6h-6zM70.1 149.6h11.6v6h-11.6z"/>
<path fill="#a2a2a2" d="M70.1 24.7h11.6v6h-11.6zM58.8 30.4h6v6h-6zM121.2 36.1h6v6h-6zM132.5 41.7h6v6h-6zM143.9 47.4h6v6h-6zM41.7 64.4h6v6h-6zM41.7 70.1h6v6h-6zM36.1 75.8h6v6h-6zM36.1 81.5h6v6h-6zM36.1 87.1h6v6h-6zM189.3 98.5h6v6h-6zM36.1 104.2h6v6h-6zM189.3 104.2h6v6h-6zM36.1 121.2h6v6h-6zM143.9 126.9h6v6h-6zM138.2 132.5h6v6h-6zM149.6 132.5h6v6h-6zM53.1 138.2h6v6h-6zM58.8 143.9h6v6h-6zM126.9 143.9h6v6h-6z"/>
<path fill="#a6a6a6" d="M109.8 30.4h6v6h-6zM47.4 41.7h6v6h-6zM149.6 53.1h6v6h-6zM177.9 58.8h6v6h-6zM47.4 64.4h6v6h-6zM183.6 64.4h6v6h-6zM183.6 70.1h6v6h-6zM183.6 75.8h6v6h-6zM183.6 81.5h6v6h-6zM183.6 87.1h6v6h-6zM183.6 92.8h6v6h-6zM36.1 109.8h6v6h-6zM36.1 115.5h6v6h-6zM183.6 121.2h6v6h-6zM47.4 126.9h6v6h-6zM138.2 126.9h6v6h-6zM149.6 126.9h6v6h-6zM177.9 126.9h6v6h-6zM155.2 132.5h11.6v6h-11.6zM132.5 138.2h6v6h-6zM87.1 143.9h17.3v6h-17.3z"/>
<path fill="#aaaaaa" d="M64.4 30.4h6v6h-6zM81.5 30.4h17.3v6h-17.3zM104.2 30.4h6v6h-6zM53.1 36.1h6v6h-6zM126.9 41.7h6v6h-6zM47.4 47.4h6v6h-6zM47.4 58.8h6v6h-6zM172.3 58.8h6v6h-6zM177.9 64.4h6v6h-6zM47.4 70.1h6v6h-6zM41.7 75.8h6v6h-6zM183.6 98.5h6v6h-6zM183.6 104.2h6v6h-6zM183.6 109.8h6v6h-6zM183.6 115.5h6v6h-6zM41.7 121.2h6v6h-6zM155.2 126.9h6v6h-6zM53.1 132.5h6v6h-6zM64.4 143.9h6v6h-6zM81.5 143.9h6v6h-6zM104.2 143.9h11.6v6h-11.6zM121.2 143.9h6v6h-6z"/>
<path fill="#aeaeae" d="M70.1 30.4h11.6v6h-11.6zM98.5 30.4h6v6h-6zM115.5 36.1h6v6h-6zM138.2 47.4h6v6h-6zM47.4 53.1h6v6h-6zM160.9 58.8h11.6v6h-11.6zM177.9 70.1h6v6h-6zM41.7 81.5h6v6h-6zM177.9 81.5h6v6h-6zM177.9 87.1h6v6h-6zM177.9 92.8h6v6h-6zM177.9 98.5h6v6h-6zM177.9 104.2h6v6h-6zM47.4 121.2h6v6h-6zM143.9 121.2h17.3v6h-17.3zM53.1 126.9h6v6h-6zM160.9 126.9h17.3v6h-17.3zM132.5 132.5h6v6h-6zM58.8 138.2h6v6h-6zM70.1 143.9h11.6v6h-11.6zM115.5 143.9h6v6h-6z"/>
<path fill="#b2b2b2" d="M58.8 36.1h6v6h-6zM53.1 41.7h6v6h-6zM143.9 53.1h6v6h-6zM155.2 58.8h6v6h-6zM53.1 64.4h6v6h-6zM47.4 75.8h6v6h-6zM177.9 75.8h6v6h-6zM41.7 87.1h6v6h-6zM172.3 92.8h6v6h-6zM172.3 98.5h6v6h-6zM41.7 109.8h6v6h-6zM41.7 115.5h6v6h-6zM138.2 121.2h6v6h-6zM132.5 126.9h6v6h-6zM126.9 138.2h6v6h-6z"/>
<path fill="#b6b6b6" d="M64.4 36.1h6v6h-6zM109.8 36.1h6v6h-6zM121.2 41.7h6v6h-6zM53.1 47.4h6v6h-6zM132.5 47.4h6v6h-6zM53.1 53.1h6v6h-6zM53.1 58.8h6v6h-6zM149.6 58.8h6v6h-6zM172.3 64.4h6v6h-6zM53.1 70.1h6v6h-6zM172.3 87.1h6v6h-6zM41.7 92.8h6v6h-6zM41.7 98.5h6v6h-6zM41.7 104.2h6v6h-6zM172.3 104.2h6v6h-6zM177.9 109.8h6v6h-6zM47.4 115.5h6v6h-6zM177.9 115.5h6v6h-6zM53.1 121.2h6v6h-6zM160.9 121.2h6v6h-6zM177.9 121.2h6v6h-6zM58.8 132.5h6v6h-6zM64.4 138.2h11.6v6h-11.6zM81.5 138.2h28.7v6h-28.7z"/>
<path fill="#bababa" d="M70.1 36.1h23v6h-23zM58.8 41.7h6v6h-6zM138.2 53.1h6v6h-6zM143.9 58.8h6v6h-6zM172.3 70.1h6v6h-6zM172.3 75.8h6v6h-6zM172.3 81.5h6v6h-6zM166.6 92.8h6v6h-6zM166.6 98.5h6v6h-6zM172.3 109.8h6v6h-6zM155.2 115.5h6v6h-6zM132.5 121.2h6v6h-6zM166.6 121.2h11.6v6h-11.6zM58.8 126.9h6v6h-6zM64.4 132.5h6v6h-6zM126.9 132.5h6v6h-6zM75.8 138.2h6v6h-6zM109.8 138.2h17.3v6h-17.3z"/>
<path fill="#bebebe" d="M92.8 36.1h17.3v6h-17.3zM64.4 41.7h6v6h-6zM115.5 41.7h6v6h-6zM58.8 47.4h6v6h-6zM126.9 47.4h6v6h-6zM166.6 64.4h6v6h-6zM53.1 75.8h6v6h-6zM47.4 81.5h6v6h-6zM166.6 87.1h6v6h-6zM166.6 104.2h6v6h-6zM47.4 109.8h6v6h-6zM166.6 109.8h6v6h-6zM53.1 115.5h6v6h-6zM143.9 115.5h11.6v6h-11.6zM160.9 115.5h17.3v6h-17.3zM58.8 121.2h6v6h-6zM126.9 126.9h6v6h-6zM70.1 132.5h6v6h-6zM87.1 132.5h23v6h-23z"/>
<path fill="#c2c2c2" d="M70.1 41.7h6v6h-6zM64.4 47.4h6v6h-6zM58.8 53.1h6v6h-6zM132.5 53.1h6v6h-6zM138.2 58.8h6v6h-6zM160.9 64.4h6v6h-6zM166.6 81.5h6v6h-6zM160.9 109.8h6v6h-6zM64.4 126.9h6v6h-6zM98.5 126.9h6v6h-6zM75.8 132.5h11.6v6h-11.6zM109.8 132.5h17.3v6h-17.3z"/>
<path fill="#c6c6c6" d="M75.8 41.7h6v6h-6zM109.8 41.7h6v6h-6zM121.2 47.4h6v6h-6zM58.8 58.8h6v6h-6zM58.8 64.4h6v6h-6zM138.2 64.4h23v6h-23zM166.6 70.1h6v6h-6zM166.6 75.8h6v6h-6zM47.4 87.1h6v6h-6zM160.9 87.1h6v6h-6zM160.9 92.8h6v6h-6zM160.9 98.5h6v6h-6zM47.4 104.2h6v6h-6zM160.9 104.2h6v6h-6zM138.2 115.5h6v6h-6zM126.9 121.2h6v6h-6zM70.1 126.9h6v6h-6zM81.5 126.9h17.3v6h-17.3zM104.2 126.9h11.6v6h-11.6zM121.2 126.9h6v6h-6z"/>
<path fill="#cacaca" d="M70.1 47.4h6v6h-6zM64.4 53.1h6v6h-6zM126.9 53.1h6v6h-6zM132.5 58.8h6v6h-6zM58.8 70.1h6v6h-6zM53.1 81.5h6v6h-6zM160.9 81.5h6v6h-6zM47.4 92.8h6v6h-6zM47.4 98.5h6v6h-6zM53.1 109.8h6v6h-6zM155.2 109.8h6v6h-6zM58.8 115.5h6v6h-6zM132.5 115.5h6v6h-6zM64.4 121.2h6v6h-6zM87.1 121.2h23v6h-23zM75.8 126.9h6v6h-6zM115.5 126.9h6v6h-6z"/>
<path fill="#cecece" d="M81.5 41.7h6v6h-6zM104.2 41.7h6v6h-6zM115.5 47.4h6v6h-6zM132.5 64.4h6v6h-6zM138.2 70.1h11.6v6h-11.6zM160.9 70.1h6v6h-6zM160.9 75.8h6v6h-6zM155.2 87.1h6v6h-6zM149.6 109.8h6v6h-6zM70.1 121.2h17.3v6h-17.3zM109.8 121.2h6v6h-6zM121.2 121.2h6v6h-6z"/>
<path fill="#d2d2d2" d="M87.1 41.7h17.3v6h-17.3zM75.8 47.4h6v6h-6zM70.1 53.1h6v6h-6zM121.2 53.1h6v6h-6zM64.4 58.8h6v6h-6zM126.9 58.8h6v6h-6zM132.5 70.1h6v6h-6zM149.6 70.1h11.6v6h-11.6zM58.8 75.8h6v6h-6zM155.2 81.5h6v6h-6zM53.1 87.1h6v6h-6zM155.2 92.8h6v6h-6zM155.2 98.5h6v6h-6zM53.1 104.2h6v6h-6zM155.2 104.2h6v6h-6zM64.4 115.5h6v6h-6zM87.1 115.5h17.3v6h-17.3zM126.9 115.5h6v6h-6zM115.5 121.2h6v6h-6z"/>
<path fill="#d7d7d7" d="M109.8 47.4h6v6h-6zM138.2 75.8h23v6h-23zM58.8 81.5h6v6h-6zM149.6 81.5h6v6h-6zM58.8 109.8h6v6h-6zM143.9 109.8h6v6h-6zM75.8 115.5h11.6v6h-11.6zM104.2 115.5h6v6h-6zM121.2 115.5h6v6h-6z"/>
<path fill="#dbdbdb" d="M75.8 53.1h6v6h-6zM64.4 64.4h6v6h-6zM126.9 64.4h6v6h-6zM126.9 70.1h6v6h-6zM132.5 75.8h6v6h-6zM58.8 87.1h6v6h-6zM149.6 87.1h6v6h-6zM53.1 92.8h6v6h-6zM53.1 98.5h6v6h-6zM87.1 109.8h11.6v6h-11.6zM138.2 109.8h6v6h-6zM70.1 115.5h6v6h-6zM109.8 115.5h11.6v6h-11.6z"/>
<path fill="#dfdfdf" d="M81.5 47.4h6v6h-6zM104.2 47.4h6v6h-6zM115.5 53.1h6v6h-6zM70.1 58.8h6v6h-6zM121.2 58.8h6v6h-6zM126.9 75.8h6v6h-6zM64.4 81.5h6v6h-6zM143.9 81.5h6v6h-6zM64.4 87.1h6v6h-6zM109.8 87.1h11.6v6h-11.6zM58.8 92.8h6v6h-6zM109.8 92.8h6v6h-6zM149.6 92.8h6v6h-6zM58.8 104.2h6v6h-6zM149.6 104.2h6v6h-6zM64.4 109.8h6v6h-6zM81.5 109.8h6v6h-6zM98.5 109.8h6v6h-6zM126.9 109.8h11.6v6h-11.6z"/>
<path fill="#e3e3e3" d="M87.1 47.4h6v6h-6zM75.8 58.8h11.6v6h-11.6zM81.5 64.4h11.6v6h-11.6zM64.4 70.1h6v6h-6zM87.1 70.1h6v6h-6zM64.4 75.8h6v6h-6zM132.5 81.5h11.6v6h-11.6zM104.2 87.1h6v6h-6zM121.2 87.1h6v6h-6zM143.9 87.1h6v6h-6zM64.4 92.8h6v6h-6zM104.2 92.8h6v6h-6zM115.5 92.8h6v6h-6zM58.8 98.5h6v6h-6zM109.8 98.5h6v6h-6zM149.6 98.5h6v6h-6zM70.1 109.8h11.6v6h-11.6zM104.2 109.8h23v6h-23z"/>
<path fill="#e7e7e7" d="M92.8 47.4h11.6v6h-11.6zM81.5 53.1h6v6h-6zM109.8 53.1h6v6h-6zM87.1 58.8h6v6h-6zM70.1 64.4h11.6v6h-11.6zM121.2 64.4h6v6h-6zM81.5 70.1h6v6h-6zM121.2 75.8h6v6h-6zM109.8 81.5h23v6h-23zM70.1 87.1h6v6h-6zM121.2 92.8h6v6h-6zM64.4 98.5h6v6h-6zM104.2 98.5h6v6h-6zM115.5 98.5h11.6v6h-11.6zM64.4 104.2h6v6h-6zM75.8 104.2h51.4v6h-51.4zM143.9 104.2h6v6h-6z"/>
<path fill="#ebebeb" d="M87.1 53.1h6v6h-6zM115.5 58.8h6v6h-6zM70.1 70.1h11.6v6h-11.6zM121.2 70.1h6v6h-6zM70.1 75.8h6v6h-6zM70.1 81.5h6v6h-6zM104.2 81.5h6v6h-6zM126.9 87.1h17.3v6h-17.3zM70.1 92.8h6v6h-6zM98.5 92.8h6v6h-6zM126.9 92.8h6v6h-6zM143.9 92.8h6v6h-6zM70.1 98.5h6v6h-6zM98.5 98.5h6v6h-6zM143.9 98.5h6v6h-6zM70.1 104.2h6v6h-6zM126.9 104.2h17.3v6h-17.3z"/>
<path fill="#efefef" d="M104.2 53.1h6v6h-6zM92.8 64.4h6v6h-6zM92.8 70.1h6v6h-6zM75.8 75.8h17.3v6h-17.3zM115.5 75.8h6v6h-6zM98.5 87.1h6v6h-6zM75.8 98.5h6v6h-6zM92.8 98.5h6v6h-6zM126.9 98.5h6v6h-6z"/>
<path fill="#f3f3f3" d="M92.8 53.1h11.6v6h-11.6zM92.8 58.8h6v6h-6zM92.8 75.8h6v6h-6zM75.8 81.5h6v6h-6zM98.5 81.5h6v6h-6zM75.8 92.8h6v6h-6zM132.5 92.8h11.6v6h-11.6zM81.5 98.5h11.6v6h-11.6zM132.5 98.5h11.6v6h-11.6z"/>
<path fill="#f7f7f7" d="M109.8 58.8h6v6h-6zM115.5 64.4h6v6h-6zM115.5 70.1h6v6h-6zM98.5 75.8h17.3v6h-17.3zM75.8 87.1h6v6h-6zM92.8 92.8h6v6h-6z"/>
<path fill="#fbfbfb" d="M98.5 58.8h6v6h-6zM98.5 64.4h6v6h-6zM98.5 70.1h6v6h-6zM81.5 81.5h6v6h-6zM92.8 81.5h6v6h-6zM92.8 87.1h6v6h-6z"/>
<path fill="#ffffff" d="M104.2 58.8h6v6h-6zM104.2 64.4h11.6v6h-11.6zM104.2 70.1h11.6v6h-11.6zM87.1 81.5h6v6h-6zM81.5 87.1h11.6v6h-11.6zM81.5 92.8h11.6v6h-11.6z"/>
</g></g>
<g clip-path="url(#cp11)"><g filter="url(#hm)" transform="translate(328.4 245)">
<rect x="-20" y="-20" width="254" height="254" fill="#000"/>
<path fill="#000000" d="M30.4 -9.3h17.3v6h-17.3zM75.8 -9.3h11.6v6h-11.6zM30.4 -3.6h28.7v6h-28.7zM70.1 -3.6h23v6h-23zM19 2h74.1v6h-74.1zM19 7.7h79.7v6h-79.7zM13.4 13.4h85.4v6h-85.4zM13.4 19h17.3v6h-17.3zM-15 30.4h17.3v6h-17.3zM-20.7 36.1h23v6h-23zM-20.7 41.7h23v6h-23zM212 41.7h23v6h-23zM-20.7 47.4h23v6h-23zM206.3 47.4h28.7v6h-28.7zM-15 53.1h17.3v6h-17.3zM212 53.1h23v6h-23zM212 126.9h11.6v6h-11.6zM-20.7 166.6h23v6h-23zM217.6 166.6h6v6h-6zM-20.7 172.3h34.3v6h-34.3zM41.7 172.3h11.6v6h-11.6zM212 172.3h23v6h-23zM-20.7 177.9h79.7v6h-79.7zM212 177.9h23v6h-23zM-20.7 183.6h85.4v6h-85.4zM-20.7 189.3h91.1v6h-91.1zM92.8 189.3h11.6v6h-11.6zM166.6 189.3h11.6v6h-11.6zM-20.7 195h62.7v6h-62.7zM53.1 195h130.8v6h-130.8zM-20.7 200.6h34.3v6h-34.3zM58.8 200.6h125.1v6h-125.1zM-20.7 206.3h210.2v6h-210.2zM-20.7 212h255.6v6h-255.6zM-20.7 217.6h142.2v6h-142.2zM177.9 217.6h57v6h-57z"/>
<path fill="#040404" d="M24.7 -9.3h6v6h-6zM47.4 -9.3h28.7v6h-28.7zM87.1 -9.3h6v6h-6zM24.7 -3.6h6v6h-6zM58.8 -3.6h11.6v6h-11.6zM92.8 2h6v6h-6zM2 36.1h6v6h-6zM2 41.7h6v6h-6zM2 47.4h6v6h-6zM212 132.5h11.6v6h-11.6zM2 166.6h6v6h-6zM212 166.6h6v6h-6zM13.4 172.3h6v6h-6zM30.4 172.3h11.6v6h-11.6zM58.8 177.9h6v6h-6zM70.1 189.3h23v6h-23zM104.2 189.3h17.3v6h-17.3zM160.9 189.3h6v6h-6zM41.7 195h11.6v6h-11.6zM13.4 200.6h45.7v6h-45.7zM183.6 200.6h6v6h-6zM189.3 206.3h6v6h-6zM121.2 217.6h57v6h-57z"/>
<path fill="#080808" d="M13.4 7.7h6v6h-6zM30.4 19h6v6h-6zM206.3 41.7h6v6h-6zM-15 160.9h11.6v6h-11.6zM19 172.3h11.6v6h-11.6zM53.1 172.3h6v6h-6zM64.4 183.6h6v6h-6zM217.6 183.6h6v6h-6zM121.2 189.3h40v6h-40zM177.9 189.3h6v6h-6zM183.6 195h6v6h-6zM195 206.3h17.3v6h-17.3z"/>
<path fill="#0c0c0c" d="M92.8 -9.3h6v6h-6zM92.8 -3.6h6v6h-6zM98.5 7.7h6v6h-6zM36.1 19h23v6h-23zM75.8 19h17.3v6h-17.3zM2 30.4h6v6h-6zM-3.6 160.9h6v6h-6zM206.3 172.3h6v6h-6zM206.3 177.9h6v6h-6zM87.1 183.6h23v6h-23zM212 183.6h6v6h-6zM189.3 200.6h6v6h-6zM212 206.3h23v6h-23z"/>
<path fill="#101010" d="M19 -3.6h6v6h-6zM98.5 13.4h6v6h-6zM7.7 19h6v6h-6zM58.8 19h17.3v6h-17.3zM92.8 19h6v6h-6zM212 36.1h17.3v6h-17.3zM2 53.1h6v6h-6zM206.3 53.1h6v6h-6zM217.6 121.2h6v6h-6zM7.7 166.6h6v6h-6zM70.1 183.6h17.3v6h-17.3zM109.8 183.6h6v6h-6z"/>
<path fill="#141414" d="M19 -9.3h6v6h-6zM98.5 2h6v6h-6zM-20.7 24.7h34.3v6h-34.3zM-9.3 58.8h6v6h-6zM212 121.2h6v6h-6zM217.6 160.9h6v6h-6zM64.4 177.9h6v6h-6zM195 200.6h6v6h-6z"/>
<path fill="#181818" d="M98.5 -9.3h6v6h-6zM98.5 -3.6h6v6h-6zM7.7 13.4h6v6h-6zM13.4 24.7h6v6h-6zM206.3 36.1h6v6h-6zM-3.6 58.8h6v6h-6zM206.3 126.9h6v6h-6zM212 138.2h11.6v6h-11.6zM2 160.9h6v6h-6zM212 160.9h6v6h-6zM206.3 166.6h6v6h-6zM58.8 172.3h6v6h-6zM92.8 177.9h17.3v6h-17.3zM115.5 183.6h6v6h-6zM166.6 183.6h11.6v6h-11.6zM206.3 183.6h6v6h-6zM183.6 189.3h6v6h-6zM189.3 195h6v6h-6z"/>
<path fill="#1c1c1c" d="M13.4 2h6v6h-6zM98.5 19h6v6h-6zM206.3 132.5h6v6h-6zM13.4 166.6h6v6h-6zM30.4 166.6h11.6v6h-11.6zM87.1 177.9h6v6h-6zM138.2 183.6h11.6v6h-11.6zM160.9 183.6h6v6h-6zM200.6 200.6h34.3v6h-34.3z"/>
<path fill="#202020" d="M104.2 2h6v6h-6zM104.2 7.7h6v6h-6zM104.2 13.4h6v6h-6zM2 19h6v6h-6zM19 24.7h6v6h-6zM7.7 30.4h6v6h-6zM200.6 41.7h6v6h-6zM217.6 58.8h6v6h-6zM19 166.6h11.6v6h-11.6zM41.7 166.6h6v6h-6zM70.1 177.9h17.3v6h-17.3zM121.2 183.6h17.3v6h-17.3zM149.6 183.6h11.6v6h-11.6zM177.9 183.6h6v6h-6zM212 189.3h17.3v6h-17.3z"/>
<path fill="#242424" d="M104.2 -9.3h6v6h-6zM104.2 -3.6h6v6h-6zM24.7 24.7h6v6h-6zM200.6 47.4h6v6h-6zM2 58.8h6v6h-6zM212 58.8h6v6h-6zM217.6 143.9h6v6h-6zM212 155.2h11.6v6h-11.6zM47.4 166.6h6v6h-6zM64.4 172.3h6v6h-6zM92.8 172.3h11.6v6h-11.6zM109.8 177.9h6v6h-6zM200.6 177.9h6v6h-6zM206.3 189.3h6v6h-6zM195 195h6v6h-6z"/>
<path fill="#282828" d="M104.2 19h6v6h-6zM7.7 36.1h6v6h-6zM200.6 36.1h6v6h-6zM206.3 138.2h6v6h-6zM212 143.9h6v6h-6zM217.6 149.6h6v6h-6zM-9.3 155.2h6v6h-6zM7.7 160.9h6v6h-6zM206.3 160.9h6v6h-6zM87.1 172.3h6v6h-6zM104.2 172.3h6v6h-6zM200.6 172.3h6v6h-6zM200.6 183.6h6v6h-6zM189.3 189.3h6v6h-6zM200.6 195h34.3v6h-34.3z"/>
<path fill="#2d2d2d" d="M109.8 -9.3h6v6h-6zM13.4 -3.6h6v6h-6zM109.8 -3.6h6v6h-6zM109.8 2h6v6h-6zM7.7 7.7h6v6h-6zM109.8 7.7h6v6h-6zM30.4 24.7h23v6h-23zM206.3 30.4h28.7v6h-28.7zM7.7 41.7h6v6h-6zM7.7 47.4h6v6h-6zM212 149.6h6v6h-6zM-3.6 155.2h6v6h-6zM53.1 166.6h6v6h-6zM183.6 183.6h6v6h-6zM200.6 189.3h6v6h-6z"/>
<path fill="#313131" d="M13.4 -9.3h6v6h-6zM109.8 13.4h6v6h-6zM-15 19h17.3v6h-17.3zM109.8 19h6v6h-6zM53.1 24.7h6v6h-6zM87.1 24.7h23v6h-23zM200.6 30.4h6v6h-6zM-9.3 64.4h6v6h-6zM206.3 121.2h6v6h-6zM206.3 143.9h6v6h-6zM70.1 172.3h17.3v6h-17.3zM115.5 177.9h6v6h-6zM195 189.3h6v6h-6z"/>
<path fill="#353535" d="M115.5 -9.3h6v6h-6zM189.3 -9.3h6v6h-6zM115.5 -3.6h6v6h-6zM189.3 -3.6h6v6h-6zM189.3 2h6v6h-6zM109.8 24.7h6v6h-6zM13.4 30.4h6v6h-6zM7.7 53.1h6v6h-6zM200.6 53.1h6v6h-6zM206.3 58.8h6v6h-6zM-3.6 64.4h6v6h-6zM206.3 149.6h6v6h-6zM2 155.2h6v6h-6zM206.3 155.2h6v6h-6zM13.4 160.9h6v6h-6zM30.4 160.9h6v6h-6zM58.8 166.6h6v6h-6zM92.8 166.6h11.6v6h-11.6zM200.6 166.6h6v6h-6zM109.8 172.3h6v6h-6zM166.6 177.9h11.6v6h-11.6z"/>
<path fill="#393939" d="M183.6 -9.3h6v6h-6zM183.6 -3.6h6v6h-6zM115.5 2h6v6h-6zM183.6 2h6v6h-6zM115.5 7.7h6v6h-6zM160.9 7.7h11.6v6h-11.6zM183.6 7.7h11.6v6h-11.6zM2 13.4h6v6h-6zM183.6 13.4h6v6h-6zM115.5 19h6v6h-6zM58.8 24.7h6v6h-6zM81.5 24.7h6v6h-6zM115.5 24.7h11.6v6h-11.6zM109.8 30.4h17.3v6h-17.3zM195 30.4h6v6h-6zM2 64.4h6v6h-6zM24.7 160.9h6v6h-6zM36.1 160.9h6v6h-6zM87.1 166.6h6v6h-6zM104.2 166.6h6v6h-6zM121.2 177.9h6v6h-6zM138.2 177.9h28.7v6h-28.7zM177.9 177.9h6v6h-6zM189.3 183.6h11.6v6h-11.6z"/>
<path fill="#3d3d3d" d="M160.9 -3.6h6v6h-6zM160.9 2h11.6v6h-11.6zM177.9 2h6v6h-6zM155.2 7.7h6v6h-6zM172.3 7.7h11.6v6h-11.6zM115.5 13.4h6v6h-6zM143.9 13.4h40v6h-40zM189.3 13.4h6v6h-6zM138.2 19h6v6h-6zM189.3 19h6v6h-6zM75.8 24.7h6v6h-6zM126.9 24.7h6v6h-6zM195 24.7h17.3v6h-17.3zM104.2 30.4h6v6h-6zM195 36.1h6v6h-6zM7.7 58.8h6v6h-6zM200.6 132.5h6v6h-6zM200.6 138.2h6v6h-6zM19 160.9h6v6h-6zM64.4 166.6h6v6h-6zM81.5 166.6h6v6h-6zM126.9 177.9h11.6v6h-11.6zM195 177.9h6v6h-6z"/>
<path fill="#414141" d="M121.2 -9.3h6v6h-6zM160.9 -9.3h11.6v6h-11.6zM177.9 -9.3h6v6h-6zM195 -9.3h6v6h-6zM121.2 -3.6h6v6h-6zM166.6 -3.6h6v6h-6zM177.9 -3.6h6v6h-6zM195 -3.6h6v6h-6zM121.2 2h6v6h-6zM155.2 2h6v6h-6zM172.3 2h6v6h-6zM149.6 7.7h6v6h-6zM138.2 13.4h6v6h-6zM195 13.4h6v6h-6zM121.2 19h17.3v6h-17.3zM143.9 19h11.6v6h-11.6zM183.6 19h6v6h-6zM195 19h6v6h-6zM64.4 24.7h6v6h-6zM132.5 24.7h6v6h-6zM189.3 24.7h6v6h-6zM212 24.7h23v6h-23zM126.9 30.4h6v6h-6zM109.8 36.1h11.6v6h-11.6zM195 41.7h6v6h-6zM200.6 126.9h6v6h-6zM7.7 155.2h6v6h-6zM41.7 160.9h6v6h-6zM200.6 160.9h6v6h-6zM70.1 166.6h11.6v6h-11.6zM183.6 177.9h6v6h-6z"/>
<path fill="#454545" d="M155.2 -9.3h6v6h-6zM172.3 -9.3h6v6h-6zM155.2 -3.6h6v6h-6zM172.3 -3.6h6v6h-6zM195 2h6v6h-6zM121.2 7.7h6v6h-6zM195 7.7h6v6h-6zM121.2 13.4h17.3v6h-17.3zM155.2 19h6v6h-6zM177.9 19h6v6h-6zM200.6 19h6v6h-6zM70.1 24.7h6v6h-6zM138.2 24.7h6v6h-6zM19 30.4h6v6h-6zM98.5 30.4h6v6h-6zM104.2 36.1h6v6h-6zM121.2 36.1h6v6h-6zM-9.3 70.1h11.6v6h-11.6zM200.6 143.9h6v6h-6zM109.8 166.6h6v6h-6zM115.5 172.3h6v6h-6zM195 172.3h6v6h-6zM189.3 177.9h6v6h-6z"/>
<path fill="#494949" d="M7.7 2h6v6h-6zM126.9 7.7h6v6h-6zM143.9 7.7h6v6h-6zM160.9 19h17.3v6h-17.3zM132.5 30.4h6v6h-6zM189.3 30.4h6v6h-6zM13.4 36.1h6v6h-6zM104.2 41.7h11.6v6h-11.6zM7.7 64.4h6v6h-6zM2 70.1h6v6h-6zM200.6 149.6h6v6h-6zM24.7 155.2h11.6v6h-11.6zM200.6 155.2h6v6h-6zM47.4 160.9h6v6h-6zM92.8 160.9h11.6v6h-11.6z"/>
<path fill="#4d4d4d" d="M126.9 -9.3h6v6h-6zM126.9 -3.6h6v6h-6zM126.9 2h6v6h-6zM149.6 2h6v6h-6zM132.5 7.7h11.6v6h-11.6zM206.3 19h6v6h-6zM143.9 24.7h6v6h-6zM183.6 24.7h6v6h-6zM92.8 30.4h6v6h-6zM98.5 36.1h6v6h-6zM126.9 36.1h6v6h-6zM115.5 41.7h6v6h-6zM195 47.4h6v6h-6zM200.6 58.8h6v6h-6zM-15 75.8h17.3v6h-17.3zM-9.3 81.5h6v6h-6zM24.7 143.9h6v6h-6zM24.7 149.6h11.6v6h-11.6zM13.4 155.2h11.6v6h-11.6zM36.1 155.2h6v6h-6zM87.1 160.9h6v6h-6zM104.2 160.9h6v6h-6zM143.9 172.3h34.3v6h-34.3z"/>
<path fill="#515151" d="M149.6 -3.6h6v6h-6zM-3.6 13.4h6v6h-6zM200.6 13.4h6v6h-6zM212 19h6v6h-6zM149.6 24.7h6v6h-6zM24.7 30.4h6v6h-6zM41.7 30.4h11.6v6h-11.6zM138.2 30.4h6v6h-6zM98.5 41.7h6v6h-6zM104.2 47.4h6v6h-6zM212 64.4h17.3v6h-17.3zM7.7 70.1h6v6h-6zM2 75.8h6v6h-6zM-3.6 81.5h6v6h-6zM212 81.5h17.3v6h-17.3zM217.6 115.5h6v6h-6zM24.7 138.2h6v6h-6zM30.4 143.9h6v6h-6zM53.1 160.9h6v6h-6zM75.8 160.9h11.6v6h-11.6zM195 166.6h6v6h-6zM121.2 172.3h6v6h-6zM138.2 172.3h6v6h-6zM177.9 172.3h6v6h-6z"/>
<path fill="#555555" d="M149.6 -9.3h6v6h-6zM132.5 2h6v6h-6zM143.9 2h6v6h-6zM-9.3 13.4h6v6h-6zM217.6 19h6v6h-6zM30.4 30.4h11.6v6h-11.6zM87.1 30.4h6v6h-6zM189.3 36.1h6v6h-6zM13.4 41.7h6v6h-6zM121.2 41.7h6v6h-6zM98.5 47.4h6v6h-6zM109.8 47.4h6v6h-6zM13.4 58.8h6v6h-6zM217.6 87.1h6v6h-6zM212 115.5h6v6h-6zM19 132.5h6v6h-6zM19 138.2h6v6h-6zM19 143.9h6v6h-6zM19 149.6h6v6h-6zM58.8 160.9h17.3v6h-17.3zM115.5 166.6h6v6h-6zM126.9 172.3h11.6v6h-11.6zM183.6 172.3h11.6v6h-11.6z"/>
<path fill="#595959" d="M7.7 -3.6h6v6h-6zM2 7.7h6v6h-6zM200.6 7.7h6v6h-6zM155.2 24.7h6v6h-6zM177.9 24.7h6v6h-6zM53.1 30.4h6v6h-6zM92.8 36.1h6v6h-6zM132.5 36.1h6v6h-6zM13.4 47.4h6v6h-6zM13.4 53.1h6v6h-6zM195 53.1h6v6h-6zM13.4 64.4h6v6h-6zM206.3 64.4h6v6h-6zM2 81.5h6v6h-6zM206.3 81.5h6v6h-6zM-9.3 87.1h6v6h-6zM212 87.1h6v6h-6zM13.4 121.2h6v6h-6zM200.6 121.2h6v6h-6zM13.4 126.9h11.6v6h-11.6zM24.7 132.5h6v6h-6zM30.4 138.2h6v6h-6zM195 138.2h6v6h-6zM195 143.9h6v6h-6zM13.4 149.6h6v6h-6zM36.1 149.6h6v6h-6zM109.8 160.9h6v6h-6zM195 160.9h6v6h-6z"/>
<path fill="#5d5d5d" d="M7.7 -9.3h6v6h-6zM132.5 -9.3h6v6h-6zM132.5 -3.6h6v6h-6zM138.2 2h6v6h-6zM206.3 13.4h6v6h-6zM160.9 24.7h6v6h-6zM172.3 24.7h6v6h-6zM143.9 30.4h6v6h-6zM183.6 30.4h6v6h-6zM92.8 41.7h6v6h-6zM13.4 70.1h6v6h-6zM7.7 75.8h6v6h-6zM212 75.8h11.6v6h-11.6zM-3.6 87.1h6v6h-6zM206.3 87.1h6v6h-6zM19 121.2h6v6h-6zM13.4 132.5h6v6h-6zM195 132.5h6v6h-6zM7.7 149.6h6v6h-6zM195 149.6h6v6h-6zM41.7 155.2h6v6h-6zM195 155.2h6v6h-6zM143.9 166.6h17.3v6h-17.3z"/>
<path fill="#616161" d="M143.9 -3.6h6v6h-6zM200.6 -3.6h6v6h-6zM200.6 2h6v6h-6zM166.6 24.7h6v6h-6zM81.5 30.4h6v6h-6zM126.9 41.7h6v6h-6zM92.8 47.4h6v6h-6zM115.5 47.4h6v6h-6zM104.2 53.1h6v6h-6zM200.6 81.5h6v6h-6zM7.7 121.2h6v6h-6zM24.7 126.9h6v6h-6zM30.4 132.5h6v6h-6zM13.4 138.2h6v6h-6zM13.4 143.9h6v6h-6zM36.1 143.9h6v6h-6zM-20.7 149.6h28.7v6h-28.7zM121.2 166.6h6v6h-6zM138.2 166.6h6v6h-6zM160.9 166.6h17.3v6h-17.3zM189.3 166.6h6v6h-6z"/>
<path fill="#656565" d="M143.9 -9.3h6v6h-6zM200.6 -9.3h6v6h-6zM138.2 -3.6h6v6h-6zM58.8 30.4h6v6h-6zM149.6 30.4h6v6h-6zM19 36.1h6v6h-6zM138.2 36.1h6v6h-6zM189.3 41.7h6v6h-6zM98.5 53.1h6v6h-6zM19 70.1h6v6h-6zM212 70.1h11.6v6h-11.6zM13.4 75.8h6v6h-6zM206.3 75.8h6v6h-6zM7.7 81.5h6v6h-6zM2 87.1h6v6h-6zM13.4 115.5h11.6v6h-11.6zM7.7 126.9h6v6h-6zM195 126.9h6v6h-6zM70.1 155.2h6v6h-6zM98.5 155.2h6v6h-6zM115.5 160.9h6v6h-6zM132.5 166.6h6v6h-6zM177.9 166.6h11.6v6h-11.6z"/>
<path fill="#696969" d="M138.2 -9.3h6v6h-6zM212 13.4h17.3v6h-17.3zM87.1 36.1h6v6h-6zM109.8 53.1h6v6h-6zM195 58.8h6v6h-6zM19 64.4h6v6h-6zM200.6 64.4h6v6h-6zM206.3 70.1h6v6h-6zM200.6 87.1h6v6h-6zM206.3 115.5h6v6h-6zM24.7 121.2h6v6h-6zM36.1 138.2h6v6h-6zM64.4 155.2h6v6h-6zM75.8 155.2h23v6h-23zM104.2 155.2h6v6h-6zM189.3 160.9h6v6h-6zM126.9 166.6h6v6h-6z"/>
<path fill="#6d6d6d" d="M75.8 30.4h6v6h-6zM155.2 30.4h6v6h-6zM177.9 30.4h6v6h-6zM41.7 36.1h11.6v6h-11.6zM132.5 41.7h6v6h-6zM121.2 47.4h6v6h-6zM92.8 53.1h6v6h-6zM19 75.8h6v6h-6zM200.6 75.8h6v6h-6zM195 81.5h6v6h-6zM19 109.8h6v6h-6zM7.7 115.5h6v6h-6zM24.7 115.5h6v6h-6zM2 121.2h6v6h-6zM30.4 126.9h6v6h-6zM189.3 138.2h6v6h-6zM189.3 143.9h6v6h-6zM41.7 149.6h6v6h-6zM47.4 155.2h6v6h-6zM109.8 155.2h6v6h-6zM143.9 160.9h17.3v6h-17.3z"/>
<path fill="#717171" d="M206.3 7.7h6v6h-6zM64.4 30.4h6v6h-6zM24.7 36.1h6v6h-6zM53.1 36.1h6v6h-6zM143.9 36.1h6v6h-6zM183.6 36.1h6v6h-6zM87.1 41.7h6v6h-6zM87.1 47.4h6v6h-6zM19 58.8h6v6h-6zM24.7 70.1h6v6h-6zM200.6 70.1h6v6h-6zM13.4 81.5h6v6h-6zM47.4 81.5h6v6h-6zM7.7 87.1h6v6h-6zM13.4 109.8h6v6h-6zM24.7 109.8h6v6h-6zM189.3 132.5h6v6h-6zM189.3 149.6h6v6h-6zM53.1 155.2h11.6v6h-11.6zM189.3 155.2h6v6h-6zM121.2 160.9h6v6h-6zM138.2 160.9h6v6h-6zM160.9 160.9h11.6v6h-11.6zM183.6 160.9h6v6h-6z"/>
<path fill="#757575" d="M2 2h6v6h-6zM-3.6 7.7h6v6h-6zM70.1 30.4h6v6h-6zM160.9 30.4h6v6h-6zM30.4 36.1h11.6v6h-11.6zM19 41.7h6v6h-6zM189.3 47.4h6v6h-6zM115.5 53.1h6v6h-6zM24.7 64.4h6v6h-6zM30.4 70.1h6v6h-6zM47.4 70.1h6v6h-6zM24.7 75.8h28.7v6h-28.7zM195 75.8h6v6h-6zM36.1 81.5h11.6v6h-11.6zM53.1 81.5h6v6h-6zM41.7 87.1h11.6v6h-11.6zM195 87.1h6v6h-6zM-20.7 92.8h23v6h-23zM19 104.2h17.3v6h-17.3zM172.3 121.2h6v6h-6zM7.7 132.5h6v6h-6zM36.1 132.5h6v6h-6zM7.7 143.9h6v6h-6zM132.5 160.9h6v6h-6zM172.3 160.9h11.6v6h-11.6z"/>
<path fill="#797979" d="M-9.3 7.7h6v6h-6zM166.6 30.4h11.6v6h-11.6zM47.4 41.7h11.6v6h-11.6zM138.2 41.7h6v6h-6zM53.1 47.4h6v6h-6zM126.9 47.4h6v6h-6zM19 53.1h6v6h-6zM53.1 53.1h6v6h-6zM53.1 58.8h6v6h-6zM47.4 64.4h11.6v6h-11.6zM195 64.4h6v6h-6zM36.1 70.1h11.6v6h-11.6zM53.1 70.1h6v6h-6zM195 70.1h6v6h-6zM53.1 75.8h6v6h-6zM19 81.5h6v6h-6zM30.4 81.5h6v6h-6zM189.3 81.5h6v6h-6zM36.1 87.1h6v6h-6zM53.1 87.1h6v6h-6zM2 92.8h6v6h-6zM36.1 92.8h11.6v6h-11.6zM24.7 98.5h11.6v6h-11.6zM30.4 109.8h6v6h-6zM2 115.5h6v6h-6zM30.4 115.5h6v6h-6zM172.3 115.5h6v6h-6zM-15 121.2h17.3v6h-17.3zM30.4 121.2h6v6h-6zM166.6 121.2h6v6h-6zM177.9 121.2h6v6h-6zM195 121.2h6v6h-6zM2 126.9h6v6h-6zM189.3 126.9h6v6h-6zM41.7 143.9h6v6h-6zM70.1 149.6h6v6h-6zM115.5 155.2h6v6h-6zM126.9 160.9h6v6h-6z"/>
<path fill="#7d7d7d" d="M206.3 2h6v6h-6zM81.5 36.1h6v6h-6zM149.6 36.1h6v6h-6zM19 47.4h6v6h-6zM47.4 47.4h6v6h-6zM47.4 53.1h6v6h-6zM87.1 53.1h6v6h-6zM189.3 53.1h6v6h-6zM47.4 58.8h6v6h-6zM104.2 58.8h6v6h-6zM41.7 64.4h6v6h-6zM189.3 75.8h6v6h-6zM24.7 81.5h6v6h-6zM13.4 87.1h6v6h-6zM30.4 87.1h6v6h-6zM7.7 92.8h6v6h-6zM30.4 92.8h6v6h-6zM47.4 92.8h6v6h-6zM19 98.5h6v6h-6zM36.1 98.5h6v6h-6zM13.4 104.2h6v6h-6zM36.1 104.2h6v6h-6zM7.7 109.8h6v6h-6zM177.9 115.5h6v6h-6zM36.1 126.9h6v6h-6zM172.3 126.9h17.3v6h-17.3zM183.6 132.5h6v6h-6zM7.7 138.2h6v6h-6zM64.4 149.6h6v6h-6zM75.8 149.6h6v6h-6zM183.6 155.2h6v6h-6z"/>
<path fill="#828282" d="M212 7.7h6v6h-6zM58.8 36.1h6v6h-6zM41.7 41.7h6v6h-6zM132.5 47.4h6v6h-6zM121.2 53.1h6v6h-6zM58.8 58.8h6v6h-6zM98.5 58.8h6v6h-6zM109.8 58.8h6v6h-6zM30.4 64.4h6v6h-6zM58.8 64.4h6v6h-6zM58.8 70.1h6v6h-6zM189.3 70.1h6v6h-6zM58.8 75.8h6v6h-6zM183.6 75.8h6v6h-6zM58.8 81.5h6v6h-6zM19 87.1h11.6v6h-11.6zM189.3 87.1h6v6h-6zM13.4 92.8h17.3v6h-17.3zM212 92.8h23v6h-23zM13.4 98.5h6v6h-6zM41.7 98.5h6v6h-6zM36.1 109.8h6v6h-6zM-3.6 115.5h6v6h-6zM166.6 115.5h6v6h-6zM36.1 121.2h6v6h-6zM183.6 121.2h6v6h-6zM41.7 138.2h6v6h-6zM183.6 138.2h6v6h-6zM183.6 143.9h6v6h-6zM47.4 149.6h6v6h-6zM183.6 149.6h6v6h-6zM121.2 155.2h6v6h-6zM138.2 155.2h17.3v6h-17.3zM177.9 155.2h6v6h-6z"/>
<path fill="#868686" d="M217.6 7.7h6v6h-6zM155.2 36.1h6v6h-6zM177.9 36.1h6v6h-6zM24.7 41.7h6v6h-6zM81.5 41.7h6v6h-6zM143.9 41.7h6v6h-6zM183.6 41.7h6v6h-6zM58.8 47.4h6v6h-6zM81.5 47.4h6v6h-6zM58.8 53.1h6v6h-6zM24.7 58.8h6v6h-6zM41.7 58.8h6v6h-6zM189.3 58.8h6v6h-6zM36.1 64.4h6v6h-6zM189.3 64.4h6v6h-6zM183.6 81.5h6v6h-6zM58.8 87.1h6v6h-6zM53.1 92.8h6v6h-6zM206.3 92.8h6v6h-6zM41.7 104.2h6v6h-6zM-9.3 115.5h6v6h-6zM36.1 115.5h6v6h-6zM200.6 115.5h6v6h-6zM160.9 121.2h6v6h-6zM189.3 121.2h6v6h-6zM-3.6 126.9h6v6h-6zM166.6 126.9h6v6h-6zM41.7 132.5h6v6h-6zM2 143.9h6v6h-6zM58.8 149.6h6v6h-6zM104.2 149.6h6v6h-6zM126.9 155.2h11.6v6h-11.6zM155.2 155.2h23v6h-23z"/>
<path fill="#8a8a8a" d="M206.3 -9.3h6v6h-6zM2 -3.6h6v6h-6zM206.3 -3.6h6v6h-6zM58.8 41.7h6v6h-6zM41.7 47.4h6v6h-6zM41.7 53.1h6v6h-6zM81.5 53.1h6v6h-6zM92.8 58.8h6v6h-6zM115.5 58.8h6v6h-6zM183.6 70.1h6v6h-6zM64.4 75.8h6v6h-6zM177.9 75.8h6v6h-6zM64.4 81.5h6v6h-6zM183.6 87.1h6v6h-6zM200.6 92.8h6v6h-6zM7.7 98.5h6v6h-6zM47.4 98.5h6v6h-6zM7.7 104.2h6v6h-6zM41.7 109.8h6v6h-6zM172.3 109.8h6v6h-6zM41.7 115.5h6v6h-6zM41.7 121.2h6v6h-6zM-9.3 126.9h6v6h-6zM41.7 126.9h6v6h-6zM177.9 132.5h6v6h-6zM53.1 149.6h6v6h-6zM81.5 149.6h6v6h-6zM98.5 149.6h6v6h-6zM109.8 149.6h6v6h-6z"/>
<path fill="#8e8e8e" d="M2 -9.3h6v6h-6zM64.4 36.1h6v6h-6zM75.8 36.1h6v6h-6zM160.9 36.1h6v6h-6zM36.1 41.7h6v6h-6zM138.2 47.4h6v6h-6zM126.9 53.1h6v6h-6zM64.4 64.4h6v6h-6zM64.4 70.1h6v6h-6zM177.9 70.1h6v6h-6zM177.9 81.5h6v6h-6zM64.4 87.1h6v6h-6zM58.8 92.8h6v6h-6zM195 92.8h6v6h-6zM2 98.5h6v6h-6zM2 109.8h6v6h-6zM177.9 109.8h6v6h-6zM160.9 115.5h6v6h-6zM183.6 115.5h6v6h-6zM2 132.5h6v6h-6zM64.4 143.9h11.6v6h-11.6zM87.1 149.6h11.6v6h-11.6zM115.5 149.6h6v6h-6zM177.9 149.6h6v6h-6z"/>
<path fill="#929292" d="M172.3 36.1h6v6h-6zM30.4 41.7h6v6h-6zM149.6 41.7h6v6h-6zM24.7 47.4h6v6h-6zM24.7 53.1h6v6h-6zM64.4 53.1h6v6h-6zM30.4 58.8h11.6v6h-11.6zM64.4 58.8h6v6h-6zM121.2 58.8h6v6h-6zM183.6 64.4h6v6h-6zM177.9 87.1h6v6h-6zM189.3 92.8h6v6h-6zM-20.7 98.5h23v6h-23zM53.1 98.5h6v6h-6zM47.4 104.2h6v6h-6zM166.6 109.8h6v6h-6zM47.4 115.5h6v6h-6zM47.4 121.2h6v6h-6zM47.4 126.9h6v6h-6zM160.9 126.9h6v6h-6zM172.3 132.5h6v6h-6zM177.9 138.2h6v6h-6zM-3.6 143.9h6v6h-6zM47.4 143.9h6v6h-6zM121.2 149.6h6v6h-6z"/>
<path fill="#969696" d="M-3.6 2h6v6h-6zM212 2h6v6h-6zM70.1 36.1h6v6h-6zM166.6 36.1h6v6h-6zM75.8 41.7h6v6h-6zM64.4 47.4h6v6h-6zM75.8 47.4h6v6h-6zM143.9 47.4h6v6h-6zM183.6 47.4h6v6h-6zM75.8 53.1h6v6h-6zM132.5 53.1h6v6h-6zM87.1 58.8h6v6h-6zM70.1 75.8h6v6h-6zM172.3 75.8h6v6h-6zM70.1 81.5h6v6h-6zM172.3 81.5h6v6h-6zM70.1 87.1h6v6h-6zM183.6 92.8h6v6h-6zM2 104.2h6v6h-6zM172.3 104.2h11.6v6h-11.6zM-3.6 109.8h6v6h-6zM47.4 109.8h6v6h-6zM217.6 109.8h6v6h-6zM47.4 132.5h6v6h-6zM2 138.2h6v6h-6zM47.4 138.2h6v6h-6zM-9.3 143.9h6v6h-6zM58.8 143.9h6v6h-6zM75.8 143.9h6v6h-6zM177.9 143.9h6v6h-6zM126.9 149.6h23v6h-23z"/>
<path fill="#9a9a9a" d="M-9.3 2h6v6h-6zM217.6 2h6v6h-6zM64.4 41.7h6v6h-6zM155.2 41.7h6v6h-6zM36.1 47.4h6v6h-6zM36.1 53.1h6v6h-6zM70.1 53.1h6v6h-6zM138.2 53.1h6v6h-6zM70.1 58.8h6v6h-6zM81.5 58.8h6v6h-6zM126.9 58.8h6v6h-6zM183.6 58.8h6v6h-6zM70.1 64.4h6v6h-6zM177.9 64.4h6v6h-6zM70.1 70.1h6v6h-6zM172.3 70.1h6v6h-6zM172.3 87.1h6v6h-6zM64.4 92.8h6v6h-6zM177.9 92.8h6v6h-6zM58.8 98.5h6v6h-6zM177.9 98.5h6v6h-6zM-9.3 109.8h6v6h-6zM183.6 109.8h6v6h-6zM212 109.8h6v6h-6zM189.3 115.5h11.6v6h-11.6zM53.1 121.2h6v6h-6zM155.2 121.2h6v6h-6zM166.6 132.5h6v6h-6zM64.4 138.2h11.6v6h-11.6zM53.1 143.9h6v6h-6zM149.6 149.6h6v6h-6zM172.3 149.6h6v6h-6z"/>
<path fill="#9e9e9e" d="M70.1 41.7h6v6h-6zM177.9 41.7h6v6h-6zM30.4 47.4h6v6h-6zM70.1 47.4h6v6h-6zM30.4 53.1h6v6h-6zM183.6 53.1h6v6h-6zM75.8 58.8h6v6h-6zM132.5 58.8h6v6h-6zM104.2 64.4h11.6v6h-11.6zM75.8 81.5h6v6h-6zM75.8 87.1h6v6h-6zM172.3 92.8h6v6h-6zM172.3 98.5h6v6h-6zM183.6 98.5h6v6h-6zM-3.6 104.2h6v6h-6zM53.1 104.2h6v6h-6zM166.6 104.2h6v6h-6zM53.1 109.8h6v6h-6zM160.9 109.8h6v6h-6zM53.1 115.5h6v6h-6zM155.2 115.5h6v6h-6zM53.1 126.9h6v6h-6zM-3.6 132.5h6v6h-6zM58.8 138.2h6v6h-6zM155.2 149.6h17.3v6h-17.3z"/>
<path fill="#a2a2a2" d="M212 -3.6h6v6h-6zM149.6 47.4h6v6h-6zM143.9 53.1h6v6h-6zM138.2 58.8h6v6h-6zM98.5 64.4h6v6h-6zM115.5 64.4h6v6h-6zM172.3 64.4h6v6h-6zM166.6 70.1h6v6h-6zM75.8 75.8h6v6h-6zM166.6 75.8h6v6h-6zM166.6 81.5h6v6h-6zM81.5 87.1h6v6h-6zM70.1 92.8h6v6h-6zM64.4 98.5h6v6h-6zM-9.3 104.2h6v6h-6zM183.6 104.2h6v6h-6zM206.3 109.8h6v6h-6zM155.2 126.9h6v6h-6zM-9.3 132.5h6v6h-6zM53.1 132.5h11.6v6h-11.6zM53.1 138.2h6v6h-6zM172.3 138.2h6v6h-6zM81.5 143.9h6v6h-6zM109.8 143.9h17.3v6h-17.3zM172.3 143.9h6v6h-6z"/>
<path fill="#a6a6a6" d="M212 -9.3h6v6h-6zM160.9 41.7h6v6h-6zM75.8 64.4h6v6h-6zM92.8 64.4h6v6h-6zM121.2 64.4h11.6v6h-11.6zM75.8 70.1h6v6h-6zM81.5 81.5h6v6h-6zM166.6 87.1h6v6h-6zM75.8 92.8h6v6h-6zM166.6 92.8h6v6h-6zM166.6 98.5h6v6h-6zM189.3 98.5h6v6h-6zM58.8 104.2h6v6h-6zM58.8 121.2h6v6h-6zM58.8 126.9h6v6h-6zM64.4 132.5h11.6v6h-11.6zM160.9 132.5h6v6h-6zM-3.6 138.2h6v6h-6zM75.8 138.2h6v6h-6zM104.2 143.9h6v6h-6zM126.9 143.9h17.3v6h-17.3z"/>
<path fill="#aaaaaa" d="M-3.6 -3.6h6v6h-6zM217.6 -3.6h6v6h-6zM155.2 47.4h6v6h-6zM143.9 58.8h6v6h-6zM177.9 58.8h6v6h-6zM81.5 64.4h11.6v6h-11.6zM132.5 64.4h11.6v6h-11.6zM160.9 75.8h6v6h-6zM160.9 81.5h6v6h-6zM58.8 109.8h6v6h-6zM58.8 115.5h6v6h-6zM64.4 126.9h6v6h-6zM87.1 143.9h6v6h-6zM98.5 143.9h6v6h-6zM143.9 143.9h6v6h-6z"/>
<path fill="#aeaeae" d="M-3.6 -9.3h6v6h-6zM217.6 -9.3h6v6h-6zM-9.3 -3.6h6v6h-6zM166.6 41.7h11.6v6h-11.6zM149.6 53.1h6v6h-6zM143.9 64.4h6v6h-6zM166.6 64.4h6v6h-6zM160.9 70.1h6v6h-6zM81.5 75.8h6v6h-6zM160.9 87.1h6v6h-6zM81.5 92.8h6v6h-6zM70.1 98.5h6v6h-6zM195 98.5h6v6h-6zM64.4 104.2h6v6h-6zM160.9 104.2h6v6h-6zM155.2 109.8h6v6h-6zM189.3 109.8h6v6h-6zM200.6 109.8h6v6h-6zM81.5 121.2h11.6v6h-11.6zM149.6 121.2h6v6h-6zM70.1 126.9h17.3v6h-17.3zM75.8 132.5h6v6h-6zM155.2 132.5h6v6h-6zM-9.3 138.2h6v6h-6zM166.6 138.2h6v6h-6zM92.8 143.9h6v6h-6zM149.6 143.9h6v6h-6zM166.6 143.9h6v6h-6z"/>
<path fill="#b2b2b2" d="M-9.3 -9.3h6v6h-6zM177.9 47.4h6v6h-6zM177.9 53.1h6v6h-6zM149.6 58.8h6v6h-6zM172.3 58.8h6v6h-6zM149.6 64.4h6v6h-6zM160.9 64.4h6v6h-6zM81.5 70.1h6v6h-6zM132.5 70.1h17.3v6h-17.3zM155.2 70.1h6v6h-6zM155.2 75.8h6v6h-6zM87.1 81.5h6v6h-6zM155.2 81.5h6v6h-6zM87.1 87.1h6v6h-6zM160.9 92.8h6v6h-6zM160.9 98.5h6v6h-6zM200.6 98.5h34.3v6h-34.3zM189.3 104.2h6v6h-6zM64.4 109.8h6v6h-6zM195 109.8h6v6h-6zM64.4 115.5h6v6h-6zM149.6 115.5h6v6h-6zM64.4 121.2h6v6h-6zM75.8 121.2h6v6h-6zM92.8 121.2h6v6h-6zM87.1 126.9h6v6h-6zM149.6 126.9h6v6h-6zM81.5 132.5h6v6h-6zM81.5 138.2h6v6h-6zM155.2 143.9h11.6v6h-11.6z"/>
<path fill="#b6b6b6" d="M160.9 47.4h6v6h-6zM155.2 53.1h6v6h-6zM155.2 58.8h6v6h-6zM155.2 64.4h6v6h-6zM121.2 70.1h11.6v6h-11.6zM149.6 70.1h6v6h-6zM87.1 75.8h6v6h-6zM149.6 75.8h6v6h-6zM155.2 87.1h6v6h-6zM75.8 98.5h6v6h-6zM70.1 104.2h6v6h-6zM155.2 104.2h6v6h-6zM81.5 115.5h6v6h-6zM70.1 121.2h6v6h-6zM92.8 126.9h6v6h-6zM149.6 132.5h6v6h-6zM109.8 138.2h40v6h-40zM160.9 138.2h6v6h-6z"/>
<path fill="#bababa" d="M160.9 58.8h11.6v6h-11.6zM87.1 70.1h34.3v6h-34.3zM143.9 75.8h6v6h-6zM149.6 81.5h6v6h-6zM87.1 92.8h6v6h-6zM155.2 92.8h6v6h-6zM155.2 98.5h6v6h-6zM70.1 109.8h6v6h-6zM149.6 109.8h6v6h-6zM70.1 115.5h11.6v6h-11.6zM87.1 115.5h6v6h-6zM87.1 132.5h6v6h-6zM87.1 138.2h6v6h-6zM98.5 138.2h11.6v6h-11.6zM149.6 138.2h11.6v6h-11.6z"/>
<path fill="#bebebe" d="M166.6 47.4h11.6v6h-11.6zM160.9 53.1h6v6h-6zM172.3 53.1h6v6h-6zM138.2 75.8h6v6h-6zM149.6 87.1h6v6h-6zM81.5 98.5h6v6h-6zM75.8 104.2h6v6h-6zM149.6 104.2h6v6h-6zM195 104.2h6v6h-6zM75.8 109.8h6v6h-6zM92.8 115.5h6v6h-6zM98.5 121.2h6v6h-6zM98.5 126.9h6v6h-6zM92.8 132.5h11.6v6h-11.6zM143.9 132.5h6v6h-6zM92.8 138.2h6v6h-6z"/>
<path fill="#c2c2c2" d="M166.6 53.1h6v6h-6zM92.8 75.8h6v6h-6zM132.5 75.8h6v6h-6zM92.8 81.5h6v6h-6zM143.9 81.5h6v6h-6zM149.6 92.8h6v6h-6zM149.6 98.5h6v6h-6zM200.6 104.2h34.3v6h-34.3zM81.5 109.8h6v6h-6zM143.9 109.8h6v6h-6zM143.9 115.5h6v6h-6zM143.9 121.2h6v6h-6zM143.9 126.9h6v6h-6zM104.2 132.5h6v6h-6z"/>
<path fill="#c6c6c6" d="M126.9 75.8h6v6h-6zM92.8 87.1h6v6h-6zM143.9 87.1h6v6h-6zM143.9 98.5h6v6h-6zM81.5 104.2h6v6h-6zM143.9 104.2h6v6h-6zM87.1 109.8h6v6h-6zM104.2 126.9h6v6h-6zM109.8 132.5h6v6h-6zM138.2 132.5h6v6h-6z"/>
<path fill="#cacaca" d="M98.5 75.8h6v6h-6zM138.2 81.5h6v6h-6zM143.9 92.8h6v6h-6zM87.1 98.5h6v6h-6zM98.5 115.5h6v6h-6zM104.2 121.2h6v6h-6zM115.5 132.5h6v6h-6zM132.5 132.5h6v6h-6z"/>
<path fill="#cecece" d="M121.2 75.8h6v6h-6zM92.8 92.8h6v6h-6zM138.2 98.5h6v6h-6zM87.1 104.2h6v6h-6zM138.2 104.2h6v6h-6zM92.8 109.8h6v6h-6zM138.2 109.8h6v6h-6zM138.2 126.9h6v6h-6zM121.2 132.5h11.6v6h-11.6z"/>
<path fill="#d2d2d2" d="M104.2 75.8h17.3v6h-17.3zM98.5 81.5h6v6h-6zM132.5 81.5h6v6h-6zM138.2 87.1h6v6h-6zM138.2 92.8h6v6h-6zM138.2 115.5h6v6h-6zM138.2 121.2h6v6h-6zM109.8 126.9h6v6h-6z"/>
<path fill="#d7d7d7" d="M92.8 98.5h6v6h-6zM132.5 98.5h6v6h-6zM132.5 104.2h6v6h-6zM98.5 109.8h6v6h-6zM104.2 115.5h6v6h-6z"/>
<path fill="#dbdbdb" d="M126.9 81.5h6v6h-6zM98.5 87.1h6v6h-6zM132.5 87.1h6v6h-6zM132.5 92.8h6v6h-6zM92.8 104.2h6v6h-6zM132.5 109.8h6v6h-6zM109.8 121.2h6v6h-6zM115.5 126.9h6v6h-6zM132.5 126.9h6v6h-6z"/>
<path fill="#dfdfdf" d="M121.2 81.5h6v6h-6zM126.9 104.2h6v6h-6zM104.2 109.8h6v6h-6zM109.8 115.5h6v6h-6zM126.9 126.9h6v6h-6z"/>
<path fill="#e3e3e3" d="M104.2 81.5h6v6h-6zM126.9 87.1h6v6h-6zM98.5 92.8h6v6h-6zM126.9 98.5h6v6h-6zM98.5 104.2h6v6h-6zM126.9 109.8h6v6h-6zM132.5 115.5h6v6h-6zM132.5 121.2h6v6h-6zM121.2 126.9h6v6h-6z"/>
<path fill="#e7e7e7" d="M109.8 81.5h11.6v6h-11.6zM126.9 92.8h6v6h-6zM98.5 98.5h6v6h-6zM104.2 104.2h6v6h-6zM121.2 104.2h6v6h-6zM109.8 109.8h6v6h-6zM115.5 121.2h6v6h-6z"/>
<path fill="#ebebeb" d="M104.2 87.1h6v6h-6zM121.2 87.1h6v6h-6zM121.2 98.5h6v6h-6zM109.8 104.2h11.6v6h-11.6zM115.5 109.8h11.6v6h-11.6zM115.5 115.5h6v6h-6zM126.9 115.5h6v6h-6zM121.2 121.2h11.6v6h-11.6z"/>
<path fill="#efefef" d="M104.2 92.8h6v6h-6zM121.2 92.8h6v6h-6zM104.2 98.5h6v6h-6zM115.5 98.5h6v6h-6zM121.2 115.5h6v6h-6z"/>
<path fill="#f3f3f3" d="M109.8 87.1h11.6v6h-11.6zM115.5 92.8h6v6h-6zM109.8 98.5h6v6h-6z"/>
<path fill="#f7f7f7" d="M109.8 92.8h6v6h-6z"/>
</g></g>
<g clip-path="url(#cp12)"><g filter="url(#hm)" transform="translate(563.3 245)">
<rect x="-20" y="-20" width="254" height="254" fill="#000"/>
<path fill="#000000" d="M-20.7 -9.3h28.7v6h-28.7zM13.4 -9.3h23v6h-23zM70.1 -9.3h17.3v6h-17.3zM121.2 -9.3h23v6h-23zM189.3 -9.3h45.7v6h-45.7zM-20.7 -3.6h57v6h-57zM70.1 -3.6h23v6h-23zM121.2 -3.6h23v6h-23zM155.2 -3.6h79.7v6h-79.7zM-20.7 2h57v6h-57zM75.8 2h17.3v6h-17.3zM121.2 2h113.8v6h-113.8zM-20.7 7.7h74.1v6h-74.1zM81.5 7.7h23v6h-23zM109.8 7.7h125.1v6h-125.1zM-20.7 13.4h45.7v6h-45.7zM30.4 13.4h28.7v6h-28.7zM87.1 13.4h147.8v6h-147.8zM-20.7 19h74.1v6h-74.1zM92.8 19h6v6h-6zM200.6 19h34.3v6h-34.3zM-20.7 24.7h23v6h-23zM19 24.7h23v6h-23zM206.3 24.7h28.7v6h-28.7zM-20.7 30.4h23v6h-23zM19 30.4h17.3v6h-17.3zM212 30.4h23v6h-23zM-20.7 36.1h57v6h-57zM212 36.1h23v6h-23zM-20.7 41.7h51.4v6h-51.4zM217.6 41.7h6v6h-6zM-20.7 47.4h45.7v6h-45.7zM-20.7 53.1h40v6h-40zM-20.7 138.2h23v6h-23zM-20.7 143.9h28.7v6h-28.7zM-20.7 149.6h34.3v6h-34.3zM-20.7 155.2h40v6h-40zM2 160.9h23v6h-23zM2 166.6h28.7v6h-28.7zM-20.7 172.3h57v6h-57zM212 172.3h17.3v6h-17.3zM-20.7 177.9h62.7v6h-62.7zM206.3 177.9h28.7v6h-28.7zM-20.7 183.6h68.4v6h-68.4zM206.3 183.6h28.7v6h-28.7zM-20.7 189.3h74.1v6h-74.1zM177.9 189.3h17.3v6h-17.3zM200.6 189.3h34.3v6h-34.3zM-20.7 195h79.7v6h-79.7zM172.3 195h62.7v6h-62.7zM-20.7 200.6h79.7v6h-79.7zM172.3 200.6h62.7v6h-62.7zM-20.7 206.3h85.4v6h-85.4zM98.5 206.3h34.3v6h-34.3zM166.6 206.3h68.4v6h-68.4zM-20.7 212h255.6v6h-255.6zM-20.7 217.6h198.9v6h-198.9zM189.3 217.6h45.7v6h-45.7z"/>
<path fill="#040404" d="M7.7 -9.3h6v6h-6zM64.4 -9.3h6v6h-6zM87.1 -9.3h6v6h-6zM143.9 -9.3h45.7v6h-45.7zM36.1 -3.6h6v6h-6zM143.9 -3.6h11.6v6h-11.6zM36.1 2h6v6h-6zM70.1 2h6v6h-6zM92.8 2h6v6h-6zM53.1 7.7h6v6h-6zM104.2 7.7h6v6h-6zM24.7 13.4h6v6h-6zM81.5 13.4h6v6h-6zM87.1 19h6v6h-6zM98.5 19h11.6v6h-11.6zM121.2 19h11.6v6h-11.6zM189.3 19h11.6v6h-11.6zM2 24.7h17.3v6h-17.3zM2 30.4h17.3v6h-17.3zM36.1 30.4h6v6h-6zM206.3 30.4h6v6h-6zM206.3 36.1h6v6h-6zM30.4 41.7h6v6h-6zM212 41.7h6v6h-6zM24.7 47.4h6v6h-6zM2 138.2h6v6h-6zM7.7 143.9h6v6h-6zM13.4 149.6h6v6h-6zM19 155.2h6v6h-6zM-15 160.9h17.3v6h-17.3zM24.7 160.9h6v6h-6zM-20.7 166.6h23v6h-23zM30.4 166.6h6v6h-6zM36.1 172.3h6v6h-6zM200.6 183.6h6v6h-6zM53.1 189.3h6v6h-6zM195 189.3h6v6h-6zM166.6 200.6h6v6h-6zM64.4 206.3h6v6h-6zM81.5 206.3h17.3v6h-17.3zM132.5 206.3h34.3v6h-34.3zM177.9 217.6h11.6v6h-11.6z"/>
<path fill="#080808" d="M36.1 -9.3h6v6h-6zM64.4 -3.6h6v6h-6zM115.5 2h6v6h-6zM75.8 7.7h6v6h-6zM109.8 19h11.6v6h-11.6zM132.5 19h57v6h-57zM200.6 24.7h6v6h-6zM36.1 36.1h6v6h-6zM19 53.1h6v6h-6zM217.6 166.6h6v6h-6zM206.3 172.3h6v6h-6zM41.7 177.9h6v6h-6zM47.4 183.6h6v6h-6zM172.3 189.3h6v6h-6zM58.8 200.6h6v6h-6zM104.2 200.6h23v6h-23zM70.1 206.3h11.6v6h-11.6z"/>
<path fill="#0c0c0c" d="M41.7 2h6v6h-6zM64.4 2h6v6h-6zM53.1 19h6v6h-6zM41.7 24.7h6v6h-6zM200.6 30.4h6v6h-6zM206.3 41.7h6v6h-6zM-20.7 58.8h28.7v6h-28.7zM212 166.6h6v6h-6zM200.6 177.9h6v6h-6zM189.3 183.6h11.6v6h-11.6zM58.8 195h6v6h-6zM166.6 195h6v6h-6zM92.8 200.6h11.6v6h-11.6zM126.9 200.6h11.6v6h-11.6zM160.9 200.6h6v6h-6z"/>
<path fill="#101010" d="M115.5 -3.6h6v6h-6zM58.8 7.7h6v6h-6zM58.8 13.4h6v6h-6zM81.5 19h6v6h-6zM195 24.7h6v6h-6zM36.1 41.7h6v6h-6zM30.4 47.4h6v6h-6zM212 47.4h17.3v6h-17.3zM7.7 58.8h6v6h-6zM-9.3 132.5h11.6v6h-11.6zM7.7 138.2h6v6h-6zM13.4 143.9h6v6h-6zM19 149.6h6v6h-6zM24.7 155.2h6v6h-6zM30.4 160.9h6v6h-6zM36.1 166.6h6v6h-6zM53.1 183.6h6v6h-6zM183.6 183.6h6v6h-6zM64.4 200.6h6v6h-6zM87.1 200.6h6v6h-6zM138.2 200.6h11.6v6h-11.6z"/>
<path fill="#141414" d="M115.5 -9.3h6v6h-6zM92.8 -3.6h6v6h-6zM58.8 2h6v6h-6zM98.5 2h6v6h-6zM109.8 2h6v6h-6zM70.1 7.7h6v6h-6zM200.6 36.1h6v6h-6zM217.6 160.9h6v6h-6zM41.7 172.3h6v6h-6zM47.4 177.9h6v6h-6zM177.9 183.6h6v6h-6zM58.8 189.3h6v6h-6zM81.5 200.6h6v6h-6zM149.6 200.6h11.6v6h-11.6z"/>
<path fill="#181818" d="M92.8 -9.3h6v6h-6zM41.7 -3.6h6v6h-6zM47.4 2h11.6v6h-11.6zM104.2 2h6v6h-6zM64.4 7.7h6v6h-6zM75.8 13.4h6v6h-6zM58.8 19h6v6h-6zM189.3 24.7h6v6h-6zM206.3 47.4h6v6h-6zM24.7 53.1h6v6h-6zM13.4 58.8h6v6h-6zM-15 64.4h17.3v6h-17.3zM2 132.5h6v6h-6zM212 160.9h6v6h-6zM206.3 166.6h6v6h-6zM200.6 172.3h6v6h-6zM195 177.9h6v6h-6zM166.6 189.3h6v6h-6zM98.5 195h34.3v6h-34.3zM160.9 195h6v6h-6zM70.1 200.6h11.6v6h-11.6z"/>
<path fill="#1c1c1c" d="M41.7 -9.3h6v6h-6zM58.8 -9.3h6v6h-6zM58.8 -3.6h6v6h-6zM47.4 24.7h6v6h-6zM121.2 24.7h23v6h-23zM183.6 24.7h6v6h-6zM195 30.4h6v6h-6zM200.6 41.7h6v6h-6zM36.1 47.4h6v6h-6zM2 64.4h6v6h-6zM58.8 183.6h6v6h-6zM64.4 195h6v6h-6zM87.1 195h11.6v6h-11.6zM132.5 195h11.6v6h-11.6z"/>
<path fill="#202020" d="M64.4 13.4h6v6h-6zM75.8 19h6v6h-6zM115.5 24.7h6v6h-6zM143.9 24.7h17.3v6h-17.3zM177.9 24.7h6v6h-6zM41.7 30.4h6v6h-6zM19 58.8h6v6h-6zM13.4 138.2h6v6h-6zM19 143.9h6v6h-6zM24.7 149.6h6v6h-6zM30.4 155.2h6v6h-6zM217.6 155.2h6v6h-6zM36.1 160.9h6v6h-6zM41.7 166.6h6v6h-6zM53.1 177.9h6v6h-6zM189.3 177.9h6v6h-6zM172.3 183.6h6v6h-6zM81.5 195h6v6h-6zM143.9 195h6v6h-6z"/>
<path fill="#242424" d="M98.5 -3.6h6v6h-6zM109.8 -3.6h6v6h-6zM70.1 13.4h6v6h-6zM160.9 24.7h17.3v6h-17.3zM41.7 36.1h6v6h-6zM195 36.1h6v6h-6zM41.7 41.7h6v6h-6zM41.7 47.4h6v6h-6zM200.6 47.4h6v6h-6zM30.4 53.1h6v6h-6zM-15 70.1h17.3v6h-17.3zM7.7 132.5h6v6h-6zM212 155.2h6v6h-6zM206.3 160.9h6v6h-6zM47.4 172.3h6v6h-6zM64.4 189.3h6v6h-6zM70.1 195h11.6v6h-11.6zM149.6 195h11.6v6h-11.6z"/>
<path fill="#282828" d="M98.5 -9.3h6v6h-6zM109.8 -9.3h6v6h-6zM47.4 -3.6h11.6v6h-11.6zM64.4 19h11.6v6h-11.6zM53.1 24.7h6v6h-6zM81.5 24.7h17.3v6h-17.3zM104.2 24.7h11.6v6h-11.6zM189.3 30.4h6v6h-6zM212 53.1h17.3v6h-17.3zM7.7 64.4h6v6h-6zM212 149.6h11.6v6h-11.6zM200.6 166.6h6v6h-6zM195 172.3h6v6h-6zM58.8 177.9h6v6h-6zM183.6 177.9h6v6h-6zM64.4 183.6h6v6h-6zM160.9 189.3h6v6h-6z"/>
<path fill="#2d2d2d" d="M47.4 -9.3h6v6h-6zM104.2 -3.6h6v6h-6zM58.8 24.7h6v6h-6zM70.1 24.7h11.6v6h-11.6zM98.5 24.7h6v6h-6zM195 41.7h6v6h-6zM47.4 47.4h6v6h-6zM36.1 53.1h6v6h-6zM206.3 53.1h6v6h-6zM24.7 58.8h6v6h-6zM2 70.1h6v6h-6zM-15 75.8h17.3v6h-17.3zM-15 126.9h17.3v6h-17.3zM166.6 183.6h6v6h-6zM70.1 189.3h6v6h-6zM81.5 189.3h17.3v6h-17.3zM132.5 189.3h17.3v6h-17.3z"/>
<path fill="#313131" d="M53.1 -9.3h6v6h-6zM104.2 -9.3h6v6h-6zM64.4 24.7h6v6h-6zM41.7 53.1h6v6h-6zM13.4 64.4h6v6h-6zM2 126.9h6v6h-6zM24.7 143.9h6v6h-6zM212 143.9h11.6v6h-11.6zM30.4 149.6h6v6h-6zM206.3 155.2h6v6h-6zM53.1 172.3h6v6h-6zM64.4 177.9h6v6h-6zM177.9 177.9h6v6h-6zM70.1 183.6h6v6h-6zM75.8 189.3h6v6h-6zM98.5 189.3h6v6h-6zM126.9 189.3h6v6h-6zM149.6 189.3h11.6v6h-11.6z"/>
<path fill="#353535" d="M70.1 30.4h6v6h-6zM126.9 30.4h11.6v6h-11.6zM183.6 30.4h6v6h-6zM189.3 36.1h6v6h-6zM195 47.4h6v6h-6zM-9.3 81.5h11.6v6h-11.6zM13.4 132.5h6v6h-6zM19 138.2h6v6h-6zM36.1 155.2h6v6h-6zM41.7 160.9h6v6h-6zM47.4 166.6h6v6h-6zM75.8 183.6h6v6h-6zM104.2 189.3h23v6h-23z"/>
<path fill="#393939" d="M47.4 30.4h6v6h-6zM64.4 30.4h6v6h-6zM121.2 30.4h6v6h-6zM138.2 30.4h17.3v6h-17.3zM47.4 41.7h6v6h-6zM47.4 53.1h6v6h-6zM200.6 53.1h6v6h-6zM7.7 70.1h6v6h-6zM2 75.8h6v6h-6zM206.3 149.6h6v6h-6zM200.6 160.9h6v6h-6zM189.3 172.3h6v6h-6zM70.1 177.9h6v6h-6zM172.3 177.9h6v6h-6zM81.5 183.6h6v6h-6z"/>
<path fill="#3d3d3d" d="M75.8 30.4h6v6h-6zM155.2 30.4h11.6v6h-11.6zM177.9 30.4h6v6h-6zM189.3 41.7h6v6h-6zM30.4 58.8h6v6h-6zM19 64.4h6v6h-6zM2 81.5h6v6h-6zM7.7 126.9h6v6h-6zM217.6 138.2h6v6h-6zM195 166.6h6v6h-6zM58.8 172.3h6v6h-6zM87.1 183.6h6v6h-6zM138.2 183.6h11.6v6h-11.6zM160.9 183.6h6v6h-6z"/>
<path fill="#414141" d="M58.8 30.4h6v6h-6zM115.5 30.4h6v6h-6zM166.6 30.4h11.6v6h-11.6zM47.4 36.1h6v6h-6zM183.6 36.1h6v6h-6zM53.1 47.4h6v6h-6zM195 53.1h6v6h-6zM-15 87.1h17.3v6h-17.3zM212 138.2h6v6h-6zM206.3 143.9h6v6h-6zM75.8 177.9h6v6h-6zM149.6 183.6h11.6v6h-11.6z"/>
<path fill="#454545" d="M53.1 30.4h6v6h-6zM81.5 30.4h6v6h-6zM189.3 47.4h6v6h-6zM36.1 58.8h6v6h-6zM24.7 64.4h6v6h-6zM13.4 70.1h6v6h-6zM7.7 75.8h6v6h-6zM-15 121.2h17.3v6h-17.3zM30.4 143.9h6v6h-6zM64.4 172.3h6v6h-6zM183.6 172.3h6v6h-6zM166.6 177.9h6v6h-6zM92.8 183.6h6v6h-6zM132.5 183.6h6v6h-6z"/>
<path fill="#494949" d="M126.9 36.1h6v6h-6zM53.1 41.7h6v6h-6zM183.6 41.7h6v6h-6zM212 58.8h11.6v6h-11.6zM7.7 81.5h6v6h-6zM2 87.1h6v6h-6zM2 121.2h6v6h-6zM13.4 126.9h6v6h-6zM19 132.5h6v6h-6zM24.7 138.2h6v6h-6zM36.1 149.6h6v6h-6zM41.7 155.2h6v6h-6zM200.6 155.2h6v6h-6zM47.4 160.9h6v6h-6zM53.1 166.6h6v6h-6zM81.5 177.9h6v6h-6z"/>
<path fill="#4d4d4d" d="M109.8 30.4h6v6h-6zM64.4 36.1h11.6v6h-11.6zM121.2 36.1h6v6h-6zM132.5 36.1h6v6h-6zM149.6 36.1h17.3v6h-17.3zM177.9 36.1h6v6h-6zM53.1 53.1h6v6h-6zM41.7 58.8h6v6h-6zM206.3 58.8h6v6h-6zM30.4 64.4h6v6h-6zM-15 92.8h17.3v6h-17.3zM206.3 138.2h6v6h-6zM200.6 149.6h6v6h-6zM177.9 172.3h6v6h-6zM98.5 183.6h6v6h-6zM126.9 183.6h6v6h-6z"/>
<path fill="#515151" d="M87.1 30.4h6v6h-6zM53.1 36.1h11.6v6h-11.6zM138.2 36.1h11.6v6h-11.6zM166.6 36.1h11.6v6h-11.6zM160.9 41.7h6v6h-6zM177.9 41.7h6v6h-6zM183.6 47.4h6v6h-6zM189.3 53.1h6v6h-6zM200.6 58.8h6v6h-6zM19 70.1h6v6h-6zM13.4 75.8h6v6h-6zM7.7 87.1h6v6h-6zM7.7 121.2h6v6h-6zM217.6 132.5h6v6h-6zM195 160.9h6v6h-6zM189.3 166.6h6v6h-6zM70.1 172.3h6v6h-6zM138.2 177.9h11.6v6h-11.6zM160.9 177.9h6v6h-6zM104.2 183.6h6v6h-6z"/>
<path fill="#555555" d="M104.2 30.4h6v6h-6zM58.8 41.7h6v6h-6zM155.2 41.7h6v6h-6zM166.6 41.7h11.6v6h-11.6zM160.9 47.4h6v6h-6zM47.4 58.8h6v6h-6zM195 58.8h6v6h-6zM24.7 70.1h6v6h-6zM13.4 81.5h6v6h-6zM2 92.8h6v6h-6zM-15 115.5h17.3v6h-17.3zM212 132.5h6v6h-6zM200.6 143.9h6v6h-6zM58.8 166.6h6v6h-6zM87.1 177.9h6v6h-6zM149.6 177.9h11.6v6h-11.6zM109.8 183.6h17.3v6h-17.3z"/>
<path fill="#595959" d="M92.8 30.4h11.6v6h-11.6zM75.8 36.1h6v6h-6zM115.5 36.1h6v6h-6zM149.6 41.7h6v6h-6zM155.2 47.4h6v6h-6zM166.6 47.4h17.3v6h-17.3zM19 75.8h6v6h-6zM-15 98.5h17.3v6h-17.3zM2 115.5h6v6h-6zM75.8 172.3h6v6h-6zM172.3 172.3h6v6h-6z"/>
<path fill="#5d5d5d" d="M126.9 41.7h6v6h-6zM58.8 47.4h6v6h-6zM160.9 53.1h6v6h-6zM183.6 53.1h6v6h-6zM36.1 64.4h6v6h-6zM30.4 70.1h6v6h-6zM24.7 75.8h6v6h-6zM19 81.5h6v6h-6zM13.4 87.1h6v6h-6zM7.7 92.8h6v6h-6zM-9.3 104.2h6v6h-6zM-9.3 109.8h6v6h-6zM13.4 121.2h6v6h-6zM19 126.9h6v6h-6zM24.7 132.5h6v6h-6zM206.3 132.5h6v6h-6zM30.4 138.2h6v6h-6zM36.1 143.9h6v6h-6zM41.7 149.6h6v6h-6zM47.4 155.2h6v6h-6zM53.1 160.9h6v6h-6zM92.8 177.9h6v6h-6zM132.5 177.9h6v6h-6z"/>
<path fill="#616161" d="M64.4 41.7h6v6h-6zM121.2 41.7h6v6h-6zM132.5 41.7h17.3v6h-17.3zM155.2 53.1h6v6h-6zM166.6 53.1h6v6h-6zM189.3 58.8h6v6h-6zM2 98.5h6v6h-6zM-3.6 104.2h6v6h-6zM-3.6 109.8h6v6h-6zM7.7 115.5h6v6h-6zM200.6 138.2h6v6h-6zM195 155.2h6v6h-6zM183.6 166.6h6v6h-6z"/>
<path fill="#656565" d="M109.8 36.1h6v6h-6zM149.6 47.4h6v6h-6zM172.3 53.1h11.6v6h-11.6zM30.4 75.8h6v6h-6zM24.7 81.5h6v6h-6zM19 87.1h6v6h-6zM2 104.2h6v6h-6zM2 109.8h6v6h-6zM189.3 160.9h6v6h-6zM64.4 166.6h6v6h-6zM81.5 172.3h6v6h-6zM166.6 172.3h6v6h-6z"/>
<path fill="#696969" d="M81.5 36.1h6v6h-6zM115.5 41.7h6v6h-6zM53.1 58.8h6v6h-6zM41.7 64.4h6v6h-6zM200.6 64.4h11.6v6h-11.6zM13.4 92.8h6v6h-6zM7.7 98.5h6v6h-6zM212 126.9h17.3v6h-17.3zM195 149.6h6v6h-6zM143.9 172.3h6v6h-6zM98.5 177.9h6v6h-6zM126.9 177.9h6v6h-6z"/>
<path fill="#6d6d6d" d="M121.2 47.4h11.6v6h-11.6zM143.9 47.4h6v6h-6zM58.8 53.1h6v6h-6zM160.9 58.8h6v6h-6zM183.6 58.8h6v6h-6zM195 64.4h6v6h-6zM212 64.4h23v6h-23zM36.1 70.1h6v6h-6zM30.4 81.5h6v6h-6zM24.7 87.1h6v6h-6zM7.7 109.8h6v6h-6zM13.4 115.5h6v6h-6zM19 121.2h6v6h-6zM195 143.9h6v6h-6zM177.9 166.6h6v6h-6zM138.2 172.3h6v6h-6zM149.6 172.3h6v6h-6zM160.9 172.3h6v6h-6z"/>
<path fill="#717171" d="M70.1 41.7h6v6h-6zM132.5 47.4h11.6v6h-11.6zM149.6 53.1h6v6h-6zM155.2 58.8h6v6h-6zM166.6 58.8h6v6h-6zM19 92.8h6v6h-6zM7.7 104.2h6v6h-6zM24.7 126.9h6v6h-6zM206.3 126.9h6v6h-6zM200.6 132.5h6v6h-6zM36.1 138.2h6v6h-6zM41.7 143.9h6v6h-6zM47.4 149.6h6v6h-6zM53.1 155.2h6v6h-6zM58.8 160.9h6v6h-6zM70.1 166.6h6v6h-6zM87.1 172.3h6v6h-6zM155.2 172.3h6v6h-6zM104.2 177.9h6v6h-6z"/>
<path fill="#757575" d="M104.2 36.1h6v6h-6zM115.5 47.4h6v6h-6zM172.3 58.8h11.6v6h-11.6zM189.3 64.4h6v6h-6zM36.1 75.8h6v6h-6zM30.4 87.1h6v6h-6zM13.4 98.5h6v6h-6zM30.4 132.5h6v6h-6zM195 138.2h6v6h-6zM132.5 172.3h6v6h-6zM121.2 177.9h6v6h-6z"/>
<path fill="#797979" d="M87.1 36.1h6v6h-6zM109.8 41.7h6v6h-6zM64.4 47.4h6v6h-6zM47.4 64.4h6v6h-6zM24.7 92.8h6v6h-6zM13.4 109.8h6v6h-6zM189.3 155.2h6v6h-6zM183.6 160.9h6v6h-6zM172.3 166.6h6v6h-6zM92.8 172.3h6v6h-6zM109.8 177.9h11.6v6h-11.6z"/>
<path fill="#7d7d7d" d="M92.8 36.1h11.6v6h-11.6zM143.9 53.1h6v6h-6zM195 70.1h11.6v6h-11.6zM36.1 81.5h6v6h-6zM30.4 92.8h6v6h-6zM19 98.5h6v6h-6zM13.4 104.2h6v6h-6zM19 115.5h6v6h-6zM212 121.2h17.3v6h-17.3zM75.8 166.6h6v6h-6z"/>
<path fill="#828282" d="M75.8 41.7h6v6h-6zM121.2 53.1h11.6v6h-11.6zM58.8 58.8h6v6h-6zM149.6 58.8h6v6h-6zM160.9 64.4h6v6h-6zM183.6 64.4h6v6h-6zM41.7 70.1h6v6h-6zM206.3 70.1h6v6h-6zM36.1 87.1h6v6h-6zM24.7 121.2h6v6h-6zM206.3 121.2h6v6h-6zM200.6 126.9h6v6h-6zM195 132.5h6v6h-6zM189.3 149.6h6v6h-6zM64.4 160.9h6v6h-6z"/>
<path fill="#868686" d="M104.2 41.7h6v6h-6zM109.8 47.4h6v6h-6zM115.5 53.1h6v6h-6zM132.5 53.1h11.6v6h-11.6zM155.2 64.4h6v6h-6zM166.6 64.4h6v6h-6zM189.3 70.1h6v6h-6zM212 70.1h23v6h-23zM24.7 98.5h6v6h-6zM19 104.2h6v6h-6zM19 109.8h6v6h-6zM36.1 132.5h6v6h-6zM41.7 138.2h6v6h-6zM47.4 143.9h6v6h-6zM189.3 143.9h6v6h-6zM53.1 149.6h6v6h-6zM58.8 155.2h6v6h-6zM81.5 166.6h6v6h-6zM166.6 166.6h6v6h-6zM98.5 172.3h6v6h-6zM126.9 172.3h6v6h-6z"/>
<path fill="#8a8a8a" d="M177.9 64.4h6v6h-6zM195 75.8h11.6v6h-11.6zM36.1 92.8h6v6h-6zM30.4 98.5h6v6h-6zM212 115.5h17.3v6h-17.3zM30.4 126.9h6v6h-6zM183.6 155.2h6v6h-6zM177.9 160.9h6v6h-6zM143.9 166.6h6v6h-6zM160.9 166.6h6v6h-6z"/>
<path fill="#8e8e8e" d="M64.4 53.1h6v6h-6zM53.1 64.4h6v6h-6zM172.3 64.4h6v6h-6zM41.7 75.8h6v6h-6zM206.3 75.8h6v6h-6zM24.7 104.2h6v6h-6zM24.7 115.5h6v6h-6zM206.3 115.5h6v6h-6zM200.6 121.2h6v6h-6zM195 126.9h6v6h-6zM189.3 138.2h6v6h-6zM87.1 166.6h6v6h-6zM138.2 166.6h6v6h-6zM149.6 166.6h11.6v6h-11.6zM104.2 172.3h6v6h-6zM121.2 172.3h6v6h-6z"/>
<path fill="#929292" d="M81.5 41.7h6v6h-6zM98.5 41.7h6v6h-6zM104.2 47.4h6v6h-6zM109.8 53.1h6v6h-6zM143.9 58.8h6v6h-6zM183.6 70.1h6v6h-6zM189.3 75.8h6v6h-6zM212 75.8h23v6h-23zM41.7 81.5h6v6h-6zM195 81.5h11.6v6h-11.6zM36.1 98.5h6v6h-6zM195 104.2h11.6v6h-11.6zM24.7 109.8h6v6h-6zM200.6 109.8h34.3v6h-34.3zM200.6 115.5h6v6h-6zM70.1 160.9h6v6h-6zM132.5 166.6h6v6h-6zM109.8 172.3h11.6v6h-11.6z"/>
<path fill="#969696" d="M70.1 47.4h6v6h-6zM121.2 58.8h6v6h-6zM149.6 64.4h6v6h-6zM189.3 81.5h6v6h-6zM206.3 81.5h28.7v6h-28.7zM41.7 87.1h6v6h-6zM195 87.1h17.3v6h-17.3zM195 92.8h17.3v6h-17.3zM195 98.5h17.3v6h-17.3zM30.4 104.2h6v6h-6zM206.3 104.2h6v6h-6zM195 109.8h6v6h-6zM195 115.5h6v6h-6zM30.4 121.2h6v6h-6zM195 121.2h6v6h-6zM41.7 132.5h6v6h-6zM189.3 132.5h6v6h-6zM47.4 138.2h6v6h-6zM53.1 143.9h6v6h-6zM58.8 149.6h6v6h-6zM183.6 149.6h6v6h-6zM172.3 160.9h6v6h-6zM92.8 166.6h6v6h-6z"/>
<path fill="#9a9a9a" d="M87.1 41.7h11.6v6h-11.6zM104.2 53.1h6v6h-6zM115.5 58.8h6v6h-6zM126.9 58.8h6v6h-6zM138.2 58.8h6v6h-6zM47.4 70.1h6v6h-6zM160.9 70.1h6v6h-6zM183.6 75.8h6v6h-6zM189.3 87.1h6v6h-6zM212 87.1h17.3v6h-17.3zM41.7 92.8h6v6h-6zM189.3 92.8h6v6h-6zM212 92.8h23v6h-23zM189.3 98.5h6v6h-6zM212 98.5h23v6h-23zM189.3 104.2h6v6h-6zM212 104.2h17.3v6h-17.3zM30.4 109.8h6v6h-6zM189.3 109.8h6v6h-6zM36.1 126.9h6v6h-6zM189.3 126.9h6v6h-6zM183.6 143.9h6v6h-6zM64.4 155.2h6v6h-6zM98.5 166.6h6v6h-6zM126.9 166.6h6v6h-6z"/>
<path fill="#9e9e9e" d="M64.4 58.8h6v6h-6zM109.8 58.8h6v6h-6zM132.5 58.8h6v6h-6zM58.8 64.4h6v6h-6zM155.2 70.1h6v6h-6zM166.6 70.1h17.3v6h-17.3zM41.7 98.5h6v6h-6zM36.1 104.2h6v6h-6zM30.4 115.5h6v6h-6zM189.3 115.5h6v6h-6zM189.3 121.2h6v6h-6zM183.6 138.2h6v6h-6zM58.8 143.9h6v6h-6zM177.9 155.2h6v6h-6zM75.8 160.9h6v6h-6zM104.2 166.6h6v6h-6zM121.2 166.6h6v6h-6z"/>
<path fill="#a2a2a2" d="M98.5 47.4h6v6h-6zM104.2 58.8h6v6h-6zM143.9 64.4h6v6h-6zM183.6 81.5h6v6h-6zM183.6 87.1h6v6h-6zM183.6 92.8h6v6h-6zM183.6 98.5h6v6h-6zM41.7 104.2h6v6h-6zM183.6 104.2h6v6h-6zM36.1 109.8h6v6h-6zM36.1 121.2h6v6h-6zM41.7 126.9h6v6h-6zM47.4 132.5h6v6h-6zM183.6 132.5h6v6h-6zM53.1 138.2h6v6h-6zM64.4 149.6h6v6h-6zM166.6 160.9h6v6h-6zM109.8 166.6h11.6v6h-11.6z"/>
<path fill="#a6a6a6" d="M75.8 47.4h6v6h-6zM98.5 53.1h6v6h-6zM149.6 70.1h6v6h-6zM47.4 75.8h6v6h-6zM177.9 75.8h6v6h-6zM183.6 109.8h6v6h-6zM36.1 115.5h6v6h-6zM183.6 115.5h6v6h-6zM183.6 121.2h6v6h-6zM183.6 126.9h6v6h-6zM64.4 143.9h6v6h-6zM177.9 149.6h6v6h-6zM70.1 155.2h6v6h-6zM81.5 160.9h6v6h-6zM138.2 160.9h6v6h-6zM160.9 160.9h6v6h-6z"/>
<path fill="#aaaaaa" d="M92.8 47.4h6v6h-6zM70.1 53.1h6v6h-6zM98.5 58.8h6v6h-6zM64.4 64.4h6v6h-6zM104.2 64.4h28.7v6h-28.7zM53.1 70.1h6v6h-6zM47.4 81.5h6v6h-6zM177.9 81.5h6v6h-6zM47.4 87.1h6v6h-6zM47.4 92.8h6v6h-6zM47.4 98.5h6v6h-6zM47.4 104.2h6v6h-6zM41.7 109.8h6v6h-6zM41.7 115.5h6v6h-6zM41.7 121.2h6v6h-6zM47.4 126.9h6v6h-6zM53.1 132.5h6v6h-6zM58.8 138.2h6v6h-6zM172.3 155.2h6v6h-6zM87.1 160.9h6v6h-6zM126.9 160.9h11.6v6h-11.6zM143.9 160.9h17.3v6h-17.3z"/>
<path fill="#aeaeae" d="M81.5 47.4h6v6h-6zM92.8 64.4h11.6v6h-11.6zM132.5 64.4h11.6v6h-11.6zM87.1 70.1h6v6h-6zM172.3 75.8h6v6h-6zM177.9 87.1h6v6h-6zM177.9 92.8h6v6h-6zM177.9 98.5h6v6h-6zM177.9 104.2h6v6h-6zM47.4 109.8h6v6h-6zM177.9 109.8h6v6h-6zM177.9 115.5h6v6h-6zM177.9 121.2h6v6h-6zM177.9 126.9h6v6h-6zM177.9 132.5h6v6h-6zM64.4 138.2h6v6h-6zM177.9 138.2h6v6h-6zM177.9 143.9h6v6h-6zM70.1 149.6h6v6h-6zM92.8 160.9h34.3v6h-34.3z"/>
<path fill="#b2b2b2" d="M87.1 47.4h6v6h-6zM92.8 53.1h6v6h-6zM70.1 58.8h6v6h-6zM92.8 58.8h6v6h-6zM70.1 64.4h23v6h-23zM58.8 70.1h28.7v6h-28.7zM92.8 70.1h28.7v6h-28.7zM143.9 70.1h6v6h-6zM155.2 75.8h17.3v6h-17.3zM172.3 109.8h6v6h-6zM47.4 115.5h6v6h-6zM172.3 115.5h6v6h-6zM47.4 121.2h6v6h-6zM53.1 126.9h6v6h-6zM58.8 132.5h6v6h-6zM70.1 143.9h6v6h-6zM75.8 155.2h6v6h-6z"/>
<path fill="#b6b6b6" d="M87.1 58.8h6v6h-6zM121.2 70.1h11.6v6h-11.6zM53.1 75.8h6v6h-6zM149.6 75.8h6v6h-6zM172.3 81.5h6v6h-6zM53.1 98.5h6v6h-6zM172.3 98.5h6v6h-6zM53.1 104.2h6v6h-6zM172.3 104.2h6v6h-6zM53.1 109.8h6v6h-6zM53.1 115.5h6v6h-6zM53.1 121.2h6v6h-6zM172.3 121.2h6v6h-6zM172.3 126.9h6v6h-6zM64.4 132.5h6v6h-6zM70.1 138.2h6v6h-6zM172.3 149.6h6v6h-6zM104.2 155.2h28.7v6h-28.7zM166.6 155.2h6v6h-6z"/>
<path fill="#bababa" d="M75.8 53.1h6v6h-6zM87.1 53.1h6v6h-6zM75.8 58.8h11.6v6h-11.6zM132.5 70.1h11.6v6h-11.6zM75.8 75.8h57v6h-57zM143.9 75.8h6v6h-6zM53.1 81.5h6v6h-6zM53.1 87.1h6v6h-6zM172.3 87.1h6v6h-6zM53.1 92.8h6v6h-6zM172.3 92.8h6v6h-6zM166.6 104.2h6v6h-6zM166.6 109.8h6v6h-6zM166.6 115.5h6v6h-6zM58.8 126.9h6v6h-6zM172.3 132.5h6v6h-6zM172.3 138.2h6v6h-6zM75.8 143.9h6v6h-6zM172.3 143.9h6v6h-6zM75.8 149.6h6v6h-6zM81.5 155.2h6v6h-6zM98.5 155.2h6v6h-6zM132.5 155.2h11.6v6h-11.6zM160.9 155.2h6v6h-6z"/>
<path fill="#bebebe" d="M81.5 53.1h6v6h-6zM58.8 75.8h17.3v6h-17.3zM132.5 75.8h11.6v6h-11.6zM121.2 81.5h23v6h-23zM166.6 81.5h6v6h-6zM166.6 98.5h6v6h-6zM58.8 109.8h6v6h-6zM58.8 115.5h6v6h-6zM58.8 121.2h6v6h-6zM166.6 121.2h6v6h-6zM64.4 126.9h6v6h-6zM70.1 132.5h6v6h-6zM75.8 138.2h6v6h-6zM104.2 149.6h23v6h-23zM166.6 149.6h6v6h-6zM87.1 155.2h11.6v6h-11.6zM143.9 155.2h17.3v6h-17.3z"/>
<path fill="#c2c2c2" d="M58.8 81.5h6v6h-6zM104.2 81.5h17.3v6h-17.3zM143.9 81.5h6v6h-6zM160.9 81.5h6v6h-6zM58.8 98.5h6v6h-6zM58.8 104.2h6v6h-6zM160.9 104.2h6v6h-6zM160.9 109.8h6v6h-6zM160.9 115.5h6v6h-6zM166.6 126.9h6v6h-6zM166.6 132.5h6v6h-6zM81.5 143.9h6v6h-6zM81.5 149.6h6v6h-6zM92.8 149.6h11.6v6h-11.6zM126.9 149.6h11.6v6h-11.6z"/>
<path fill="#c6c6c6" d="M64.4 81.5h6v6h-6zM75.8 81.5h28.7v6h-28.7zM149.6 81.5h11.6v6h-11.6zM58.8 87.1h6v6h-6zM166.6 87.1h6v6h-6zM58.8 92.8h6v6h-6zM166.6 92.8h6v6h-6zM87.1 98.5h6v6h-6zM160.9 98.5h6v6h-6zM81.5 104.2h6v6h-6zM64.4 121.2h6v6h-6zM160.9 121.2h6v6h-6zM166.6 138.2h6v6h-6zM98.5 143.9h40v6h-40zM166.6 143.9h6v6h-6zM87.1 149.6h6v6h-6zM138.2 149.6h11.6v6h-11.6zM160.9 149.6h6v6h-6z"/>
<path fill="#cacaca" d="M70.1 81.5h6v6h-6zM115.5 87.1h28.7v6h-28.7zM87.1 92.8h6v6h-6zM64.4 98.5h6v6h-6zM75.8 98.5h11.6v6h-11.6zM64.4 104.2h6v6h-6zM75.8 104.2h6v6h-6zM87.1 104.2h6v6h-6zM64.4 109.8h6v6h-6zM64.4 115.5h6v6h-6zM70.1 126.9h6v6h-6zM160.9 126.9h6v6h-6zM75.8 132.5h6v6h-6zM160.9 132.5h6v6h-6zM81.5 138.2h6v6h-6zM132.5 138.2h11.6v6h-11.6zM160.9 138.2h6v6h-6zM87.1 143.9h11.6v6h-11.6zM138.2 143.9h11.6v6h-11.6zM160.9 143.9h6v6h-6zM149.6 149.6h11.6v6h-11.6z"/>
<path fill="#cecece" d="M64.4 87.1h51.4v6h-51.4zM143.9 87.1h6v6h-6zM160.9 87.1h6v6h-6zM64.4 92.8h6v6h-6zM75.8 92.8h11.6v6h-11.6zM92.8 92.8h6v6h-6zM160.9 92.8h6v6h-6zM70.1 98.5h6v6h-6zM92.8 98.5h6v6h-6zM70.1 104.2h6v6h-6zM92.8 104.2h6v6h-6zM70.1 109.8h6v6h-6zM155.2 109.8h6v6h-6zM155.2 115.5h6v6h-6zM155.2 121.2h6v6h-6zM155.2 126.9h6v6h-6zM155.2 132.5h6v6h-6zM87.1 138.2h6v6h-6zM98.5 138.2h34.3v6h-34.3zM143.9 138.2h17.3v6h-17.3zM149.6 143.9h11.6v6h-11.6z"/>
<path fill="#d2d2d2" d="M149.6 87.1h11.6v6h-11.6zM70.1 92.8h6v6h-6zM98.5 92.8h6v6h-6zM155.2 98.5h6v6h-6zM155.2 104.2h6v6h-6zM75.8 109.8h17.3v6h-17.3zM70.1 115.5h6v6h-6zM70.1 121.2h6v6h-6zM115.5 132.5h40v6h-40zM92.8 138.2h6v6h-6z"/>
<path fill="#d7d7d7" d="M104.2 92.8h6v6h-6zM155.2 92.8h6v6h-6zM98.5 98.5h6v6h-6zM75.8 115.5h6v6h-6zM75.8 126.9h6v6h-6zM149.6 126.9h6v6h-6zM81.5 132.5h6v6h-6zM104.2 132.5h11.6v6h-11.6z"/>
<path fill="#dbdbdb" d="M109.8 92.8h6v6h-6zM149.6 92.8h6v6h-6zM98.5 104.2h6v6h-6zM92.8 109.8h6v6h-6zM75.8 121.2h6v6h-6zM149.6 121.2h6v6h-6zM115.5 126.9h34.3v6h-34.3zM87.1 132.5h6v6h-6zM98.5 132.5h6v6h-6z"/>
<path fill="#dfdfdf" d="M115.5 92.8h11.6v6h-11.6zM143.9 92.8h6v6h-6zM104.2 98.5h6v6h-6zM81.5 115.5h6v6h-6zM149.6 115.5h6v6h-6zM104.2 126.9h11.6v6h-11.6zM92.8 132.5h6v6h-6z"/>
<path fill="#e3e3e3" d="M126.9 92.8h17.3v6h-17.3zM149.6 98.5h6v6h-6zM98.5 109.8h6v6h-6zM87.1 115.5h11.6v6h-11.6zM143.9 121.2h6v6h-6zM81.5 126.9h6v6h-6z"/>
<path fill="#e7e7e7" d="M104.2 104.2h6v6h-6zM149.6 104.2h6v6h-6zM149.6 109.8h6v6h-6zM98.5 115.5h6v6h-6zM81.5 121.2h6v6h-6zM104.2 121.2h23v6h-23zM87.1 126.9h17.3v6h-17.3z"/>
<path fill="#ebebeb" d="M109.8 98.5h6v6h-6zM104.2 109.8h6v6h-6zM104.2 115.5h6v6h-6zM87.1 121.2h17.3v6h-17.3zM126.9 121.2h17.3v6h-17.3z"/>
<path fill="#efefef" d="M115.5 98.5h6v6h-6zM109.8 115.5h6v6h-6zM143.9 115.5h6v6h-6z"/>
<path fill="#f3f3f3" d="M143.9 98.5h6v6h-6zM109.8 104.2h6v6h-6zM109.8 109.8h6v6h-6zM115.5 115.5h6v6h-6z"/>
<path fill="#f7f7f7" d="M121.2 98.5h6v6h-6zM121.2 115.5h6v6h-6z"/>
<path fill="#fbfbfb" d="M126.9 98.5h6v6h-6zM138.2 98.5h6v6h-6zM115.5 104.2h6v6h-6zM143.9 104.2h6v6h-6zM115.5 109.8h6v6h-6zM143.9 109.8h6v6h-6zM126.9 115.5h6v6h-6zM138.2 115.5h6v6h-6z"/>
<path fill="#ffffff" d="M132.5 98.5h6v6h-6zM121.2 104.2h23v6h-23zM121.2 109.8h23v6h-23zM132.5 115.5h6v6h-6z"/>
</g></g>
<rect x="93.3" y="9.4" width="214" height="214" fill="none" stroke="#000" stroke-width="1.1"/>
<rect x="328.4" y="9.4" width="214" height="214" fill="none" stroke="#000" stroke-width="1.1"/>
<rect x="93.3" y="245" width="214" height="214" fill="none" stroke="#000" stroke-width="1.1"/>
<rect x="328.4" y="245" width="214" height="214" fill="none" stroke="#000" stroke-width="1.1"/>
<rect x="563.3" y="245" width="214" height="214" fill="none" stroke="#000" stroke-width="1.1"/>
<path d="M93.3 223.4L93.3 226.4M93.3 9.4L93.3 6.4M93.3 223.4L90.3 223.4M307.3 223.4L310.3 223.4M111.13 223.4L111.13 228.6M111.13 9.4L111.13 4.2M93.3 205.57L88.1 205.57M307.3 205.57L312.5 205.57M128.97 223.4L128.97 226.4M128.97 9.4L128.97 6.4M93.3 187.73L90.3 187.73M307.3 187.73L310.3 187.73M146.8 223.4L146.8 226.4M146.8 9.4L146.8 6.4M93.3 169.9L90.3 169.9M307.3 169.9L310.3 169.9M164.63 223.4L164.63 226.4M164.63 9.4L164.63 6.4M93.3 152.07L90.3 152.07M307.3 152.07L310.3 152.07M182.47 223.4L182.47 226.4M182.47 9.4L182.47 6.4M93.3 134.23L90.3 134.23M307.3 134.23L310.3 134.23M200.3 223.4L200.3 228.6M200.3 9.4L200.3 4.2M93.3 116.4L88.1 116.4M307.3 116.4L312.5 116.4M218.13 223.4L218.13 226.4M218.13 9.4L218.13 6.4M93.3 98.57L90.3 98.57M307.3 98.57L310.3 98.57M235.97 223.4L235.97 226.4M235.97 9.4L235.97 6.4M93.3 80.73L90.3 80.73M307.3 80.73L310.3 80.73M253.8 223.4L253.8 226.4M253.8 9.4L253.8 6.4M93.3 62.9L90.3 62.9M307.3 62.9L310.3 62.9M271.63 223.4L271.63 226.4M271.63 9.4L271.63 6.4M93.3 45.07L90.3 45.07M307.3 45.07L310.3 45.07M289.47 223.4L289.47 228.6M289.47 9.4L289.47 4.2M93.3 27.23L88.1 27.23M307.3 27.23L312.5 27.23M307.3 223.4L307.3 226.4M307.3 9.4L307.3 6.4M93.3 9.4L90.3 9.4M307.3 9.4L310.3 9.4M328.4 223.4L328.4 226.4M328.4 9.4L328.4 6.4M328.4 223.4L325.4 223.4M542.4 223.4L545.4 223.4M346.23 223.4L346.23 228.6M346.23 9.4L346.23 4.2M328.4 205.57L323.2 205.57M542.4 205.57L547.6 205.57M364.07 223.4L364.07 226.4M364.07 9.4L364.07 6.4M328.4 187.73L325.4 187.73M542.4 187.73L545.4 187.73M381.9 223.4L381.9 226.4M381.9 9.4L381.9 6.4M328.4 169.9L325.4 169.9M542.4 169.9L545.4 169.9M399.73 223.4L399.73 226.4M399.73 9.4L399.73 6.4M328.4 152.07L325.4 152.07M542.4 152.07L545.4 152.07M417.57 223.4L417.57 226.4M417.57 9.4L417.57 6.4M328.4 134.23L325.4 134.23M542.4 134.23L545.4 134.23M435.4 223.4L435.4 228.6M435.4 9.4L435.4 4.2M328.4 116.4L323.2 116.4M542.4 116.4L547.6 116.4M453.23 223.4L453.23 226.4M453.23 9.4L453.23 6.4M328.4 98.57L325.4 98.57M542.4 98.57L545.4 98.57M471.07 223.4L471.07 226.4M471.07 9.4L471.07 6.4M328.4 80.73L325.4 80.73M542.4 80.73L545.4 80.73M488.9 223.4L488.9 226.4M488.9 9.4L488.9 6.4M328.4 62.9L325.4 62.9M542.4 62.9L545.4 62.9M506.73 223.4L506.73 226.4M506.73 9.4L506.73 6.4M328.4 45.07L325.4 45.07M542.4 45.07L545.4 45.07M524.57 223.4L524.57 228.6M524.57 9.4L524.57 4.2M328.4 27.23L323.2 27.23M542.4 27.23L547.6 27.23M542.4 223.4L542.4 226.4M542.4 9.4L542.4 6.4M328.4 9.4L325.4 9.4M542.4 9.4L545.4 9.4M93.3 459L93.3 462M93.3 245L93.3 242M93.3 459L90.3 459M307.3 459L310.3 459M111.13 459L111.13 464.2M111.13 245L111.13 239.8M93.3 441.17L88.1 441.17M307.3 441.17L312.5 441.17M128.97 459L128.97 462M128.97 245L128.97 242M93.3 423.33L90.3 423.33M307.3 423.33L310.3 423.33M146.8 459L146.8 462M146.8 245L146.8 242M93.3 405.5L90.3 405.5M307.3 405.5L310.3 405.5M164.63 459L164.63 462M164.63 245L164.63 242M93.3 387.67L90.3 387.67M307.3 387.67L310.3 387.67M182.47 459L182.47 462M182.47 245L182.47 242M93.3 369.83L90.3 369.83M307.3 369.83L310.3 369.83M200.3 459L200.3 464.2M200.3 245L200.3 239.8M93.3 352L88.1 352M307.3 352L312.5 352M218.13 459L218.13 462M218.13 245L218.13 242M93.3 334.17L90.3 334.17M307.3 334.17L310.3 334.17M235.97 459L235.97 462M235.97 245L235.97 242M93.3 316.33L90.3 316.33M307.3 316.33L310.3 316.33M253.8 459L253.8 462M253.8 245L253.8 242M93.3 298.5L90.3 298.5M307.3 298.5L310.3 298.5M271.63 459L271.63 462M271.63 245L271.63 242M93.3 280.67L90.3 280.67M307.3 280.67L310.3 280.67M289.47 459L289.47 464.2M289.47 245L289.47 239.8M93.3 262.83L88.1 262.83M307.3 262.83L312.5 262.83M307.3 459L307.3 462M307.3 245L307.3 242M93.3 245L90.3 245M307.3 245L310.3 245M328.4 459L328.4 462M328.4 245L328.4 242M328.4 459L325.4 459M542.4 459L545.4 459M346.23 459L346.23 464.2M346.23 245L346.23 239.8M328.4 441.17L323.2 441.17M542.4 441.17L547.6 441.17M364.07 459L364.07 462M364.07 245L364.07 242M328.4 423.33L325.4 423.33M542.4 423.33L545.4 423.33M381.9 459L381.9 462M381.9 245L381.9 242M328.4 405.5L325.4 405.5M542.4 405.5L545.4 405.5M399.73 459L399.73 462M399.73 245L399.73 242M328.4 387.67L325.4 387.67M542.4 387.67L545.4 387.67M417.57 459L417.57 462M417.57 245L417.57 242M328.4 369.83L325.4 369.83M542.4 369.83L545.4 369.83M435.4 459L435.4 464.2M435.4 245L435.4 239.8M328.4 352L323.2 352M542.4 352L547.6 352M453.23 459L453.23 462M453.23 245L453.23 242M328.4 334.17L325.4 334.17M542.4 334.17L545.4 334.17M471.07 459L471.07 462M471.07 245L471.07 242M328.4 316.33L325.4 316.33M542.4 316.33L545.4 316.33M488.9 459L488.9 462M488.9 245L488.9 242M328.4 298.5L325.4 298.5M542.4 298.5L545.4 298.5M506.73 459L506.73 462M506.73 245L506.73 242M328.4 280.67L325.4 280.67M542.4 280.67L545.4 280.67M524.57 459L524.57 464.2M524.57 245L524.57 239.8M328.4 262.83L323.2 262.83M542.4 262.83L547.6 262.83M542.4 459L542.4 462M542.4 245L542.4 242M328.4 245L325.4 245M542.4 245L545.4 245M563.3 459L563.3 462M563.3 245L563.3 242M563.3 459L560.3 459M777.3 459L780.3 459M581.13 459L581.13 464.2M581.13 245L581.13 239.8M563.3 441.17L558.1 441.17M777.3 441.17L782.5 441.17M598.97 459L598.97 462M598.97 245L598.97 242M563.3 423.33L560.3 423.33M777.3 423.33L780.3 423.33M616.8 459L616.8 462M616.8 245L616.8 242M563.3 405.5L560.3 405.5M777.3 405.5L780.3 405.5M634.63 459L634.63 462M634.63 245L634.63 242M563.3 387.67L560.3 387.67M777.3 387.67L780.3 387.67M652.47 459L652.47 462M652.47 245L652.47 242M563.3 369.83L560.3 369.83M777.3 369.83L780.3 369.83M670.3 459L670.3 464.2M670.3 245L670.3 239.8M563.3 352L558.1 352M777.3 352L782.5 352M688.13 459L688.13 462M688.13 245L688.13 242M563.3 334.17L560.3 334.17M777.3 334.17L780.3 334.17M705.97 459L705.97 462M705.97 245L705.97 242M563.3 316.33L560.3 316.33M777.3 316.33L780.3 316.33M723.8 459L723.8 462M723.8 245L723.8 242M563.3 298.5L560.3 298.5M777.3 298.5L780.3 298.5M741.63 459L741.63 462M741.63 245L741.63 242M563.3 280.67L560.3 280.67M777.3 280.67L780.3 280.67M759.47 459L759.47 464.2M759.47 245L759.47 239.8M563.3 262.83L558.1 262.83M777.3 262.83L782.5 262.83M777.3 459L777.3 462M777.3 245L777.3 242M563.3 245L560.3 245M777.3 245L780.3 245" stroke="#000" stroke-width="1.0" fill="none"/>
<text transform="translate(108.95 204) scale(1.1183 1)" font-size="30.5" fill="#fff" style="">Slice 1(i)</text>
<text transform="translate(344.08 204) scale(1.0945 1)" font-size="30.5" fill="#fff" style="">Slice 2</text>
<text transform="translate(108.92 439.6) scale(1.1381 1)" font-size="30.5" fill="#fff" style="">Slice 1(ii)</text>
<text transform="translate(344.09 439.6) scale(1.0921 1)" font-size="30.5" fill="#fff" style="">Slice 3</text>
<text transform="translate(578.92 439.6) scale(1.1403 1)" font-size="30.5" fill="#fff" style="">Slice 1(iii)</text>
<text transform="translate(63.98 38.3) scale(1.0479 1)" font-size="31.4" fill="#000" style="">5</text>
<text transform="translate(63.98 127.8) scale(1.0726 1)" font-size="31.4" fill="#000" style="">0</text>
<text transform="translate(39.33 217.4) scale(1.2055 1)" font-size="31.4" fill="#000" style="">−5</text>
<text transform="translate(63.98 273.9) scale(1.0479 1)" font-size="31.4" fill="#000" style="">5</text>
<text transform="translate(63.98 363.4) scale(1.0726 1)" font-size="31.4" fill="#000" style="">0</text>
<text transform="translate(39.33 453) scale(1.2055 1)" font-size="31.4" fill="#000" style="">−5</text>
<text transform="translate(89.43 493) scale(1.2055 1)" font-size="31.4" fill="#000" style="">−5</text>
<text transform="translate(190.64 493) scale(1.1059 1)" font-size="31.4" fill="#000" style="">0</text>
<text transform="translate(280.67 493) scale(1.0613 1)" font-size="31.4" fill="#000" style="">5</text>
<text transform="translate(324.53 493) scale(1.2055 1)" font-size="31.4" fill="#000" style="">−5</text>
<text transform="translate(425.74 493) scale(1.1059 1)" font-size="31.4" fill="#000" style="">0</text>
<text transform="translate(515.77 493) scale(1.0613 1)" font-size="31.4" fill="#000" style="">5</text>
<text transform="translate(559.43 493) scale(1.2055 1)" font-size="31.4" fill="#000" style="">−5</text>
<text transform="translate(660.64 493) scale(1.1059 1)" font-size="31.4" fill="#000" style="">0</text>
<text transform="translate(750.67 493) scale(1.0613 1)" font-size="31.4" fill="#000" style="">5</text>
<g stroke="#000" stroke-width="2.1" stroke-dasharray="7.5 3.43" fill="none">
<path d="M92.2 519.5H329.5"/><path d="M534 519.5H771.5"/>
<path d="M15.4 0.9V119"/><path d="M15.4 323V462.5"/>
</g>
<text transform="translate(341.49 527.8) scale(0.9453 1)" font-size="31.4" fill="#000" style="font-style:italic;">x</text>
<text transform="translate(368.93 527.8) scale(1.0979 1)" font-size="31.4" fill="#000" style="">Axis (mm)</text>
<text style="font-style:italic" transform="translate(24 311.91) rotate(-90) scale(1.0075 1)" font-size="31.4" fill="#000">y</text>
<text transform="translate(23.8 284.17) rotate(-90) scale(1.1425 1)" font-size="31.4" fill="#000">Axis (mm)</text>
<defs><linearGradient id="cb" x1="0" y1="1" x2="0" y2="0"><stop offset="0" stop-color="#000"/><stop offset="0.3333" stop-color="#008000"/><stop offset="0.6667" stop-color="#ffff00"/><stop offset="1" stop-color="#fff"/></linearGradient></defs>
<rect x="563.3" y="20" width="21.4" height="192.8" fill="url(#cb)" stroke="#000" stroke-width="1"/>
<path d="M584.7 20H590M584.7 212.8H590" stroke="#000" stroke-width="1"/>
<text transform="translate(595.61 31.4) scale(0.9972 1)" font-size="31.4" fill="#000" style="">1</text>
<text transform="translate(595.48 224.2) scale(1.0793 1)" font-size="31.4" fill="#000" style="">0</text>
<text transform="translate(734.88 33) scale(1.0224 1)" font-size="33.4" fill="#000" style="">(a)</text>
<g fill="none" stroke="#ff1a1a" stroke-width="2" stroke-dasharray="6 3.2">
<path d="M155.8 47.9L268.6 62.4L271.3 89.5L164.5 125.2Z"/>
<circle cx="444" cy="116.2" r="35.8"/>
<path d="M164.4 287.8L267.8 334.1L260.3 362.2L146.6 362.2Z"/>
<circle cx="449.3" cy="351.9" r="32.4"/>
<path d="M614.9 347.9L723.2 325.1L718.1 402.4L611.5 374.9Z"/>
</g>
<defs><linearGradient id="c1body" x1="0" y1="0" x2="1" y2="0.45"><stop offset="0" stop-color="#9a521a"/><stop offset="0.5" stop-color="#7c4624"/><stop offset="0.78" stop-color="#6c4632"/><stop offset="0.92" stop-color="#a0714f"/><stop offset="1" stop-color="#b38c72"/></linearGradient><linearGradient id="c1cap" x1="0" y1="0" x2="1" y2="0.4"><stop offset="0" stop-color="#b08e7a"/><stop offset="0.5" stop-color="#9c7e6c"/><stop offset="0.8" stop-color="#c0a390"/><stop offset="1" stop-color="#a88a76"/></linearGradient><linearGradient id="cAbody" x1="0" y1="0" x2="1" y2="0.45"><stop offset="0" stop-color="#e2cfc2"/><stop offset="0.6" stop-color="#dccbc2"/><stop offset="0.85" stop-color="#e8dad2"/><stop offset="1" stop-color="#d2bcae"/></linearGradient><linearGradient id="cAin" x1="0" y1="0" x2="1" y2="0.5"><stop offset="0" stop-color="#9a5a30"/><stop offset="0.6" stop-color="#a8785a"/><stop offset="1" stop-color="#cfb2a0"/></linearGradient><marker id="ah" viewBox="0 0 10 10" refX="9" refY="5" markerWidth="5" markerHeight="5" orient="auto-start-reverse"><path d="M0 1L10 5L0 9Z" fill="#000"/></marker></defs>
<path d="M691.1 29.3L709 34.1L695.3 110.5C694.5 116 690 121 683 124C672 127 658 124 650 117C643 110 640 101 640.7 94.3Z" fill="url(#cAbody)"/>
<ellipse cx="700" cy="32" rx="8.6" ry="5.4" transform="rotate(22 700 32)" fill="#dcc6b8"/>
<path d="M655.4 73.1C660 69 666 67.5 672 68.5C682 70 694 78 699.2 94.3C700 99 698 104 696 107.3C690 112 683 113 676 112C666 111 655 105 649 97.5C645 91 645 84 647.3 84.5C649 79 652 75 655.4 73.1Z" fill="url(#cAin)" opacity="0.9"/>
<path d="M655.4 73.1C662 68 676 67 688 74C695 79 699 88 699.2 94.3C693 96 684 96 676 94C665 91 656 86 651 81C652 77 653 75 655.4 73.1Z" fill="#7a3e18" opacity="0.3"/>
<path d="M678.4 180.7L729.8 119.1L745.2 126.4L730.6 205.3Z" fill="url(#c1body)"/>
<ellipse cx="737.5" cy="122.8" rx="8.5" ry="5.2" transform="rotate(25 737.5 122.8)" fill="#b07c58"/>
<path d="M678.4 180.7L730.6 205.3C726 213 712 215 702 212C688 207 676 196 678.4 180.7Z" fill="url(#c1cap)"/>
<text transform="translate(638.37 53) scale(1.0087 1)" font-size="34.5" fill="#000" style="">3</text>
<text transform="translate(712.27 104.7) scale(0.9989 1)" font-size="34.5" fill="#000" style="">2</text>
<text transform="translate(655.35 171.5) scale(0.9532 1)" font-size="36.5" fill="#000" style="">1</text>
<g stroke="#000" stroke-width="1.1" fill="none" marker-end="url(#ah)"><path d="M649.5 56.7L657 73.3"/><path d="M714.7 97.2L697.5 106.2"/><path d="M675.2 158H696.2"/></g>
<defs><clipPath id="bclip"><rect x="93.7" y="571.9" width="682.8" height="171.10000000000002"/></clipPath></defs>
<g clip-path="url(#bclip)" fill="none" stroke-linejoin="round" stroke-width="3.2">
<polyline transform="matrix(0.310505 0 0 0.1 93.7 0)" vector-effect="non-scaling-stroke" stroke="#000" points="0 5977 1 6604 2 6647 3 6928 4 6729 5 6974 6 6514 7 6349 8 6746 9 6804 10 6458 11 6475 12 6507 13 6945 14 6534 15 6431 16 6939 17 6729 18 6911 19 6933 20 6965 21 6627 22 6921 23 6485 24 6500 25 6605 26 6895 27 6765 28 6542 29 6505 30 6915 31 6737 32 6966 33 6888 34 6383 35 6887 36 6534 37 6406 38 6785 39 6570 40 6505 41 6511 42 6895 43 6509 44 6344 45 6918 46 7459 47 6503 48 6811 49 6262 50 6420 51 6987 52 6508 53 6444 54 6604 55 6430 56 6548 57 6432 58 6333 59 6825 60 6491 61 6728 62 6501 63 6936 64 6781 65 6606 66 6401 67 6370 68 6982 69 6879 70 6433 71 6955 72 6727 73 6560 74 6355 75 6428 76 6665 77 6684 78 6630 79 6320 80 6711 81 6654 82 6470 83 6570 84 6605 85 6902 86 6520 87 6717 88 6365 89 6431 90 6526 91 6429 92 6669 93 6379 94 6517 95 6439 96 6891 97 6470 98 6982 99 6918 100 6653 101 6924 102 6493 103 6226 104 6893 105 6798 106 6487 107 6450 108 6594 109 6607 110 6423 111 6446 112 6899 113 6549 114 6508 115 6911 116 6479 117 6904 118 6388 119 6487 120 6501 121 6782 122 6566 123 6961 124 6987 125 6465 126 6919 127 6403 128 6973 129 6414 130 6897 131 6411 132 6494 133 6969 134 6351 135 6326 136 6541 137 6636 138 6584 139 6955 140 6370 141 6758 142 6534 143 6872 144 6796 145 6965 146 6349 147 6580 148 6386 149 6508 150 6827 151 6659 152 6765 153 6509 154 6681 155 6646 156 6963 157 6877 158 6297 159 6815 160 6971 161 6466 162 6329 163 6975 164 6604 165 6797 166 6934 167 6415 168 6520 169 6500 170 6852 171 6450 172 6755 173 6574 174 6942 175 6919 176 6337 177 6740 178 6471 179 6524 180 6709 181 6740 182 6427 183 6646 184 6577 185 6505 186 6357 187 6421 188 6459 189 6765 190 6913 191 6386 192 6384 193 6572 194 6438 195 6408 196 6401 197 6390 198 6716 199 6314 200 6911 201 6397 202 6444 203 6396 204 6267 205 6317 206 6908 207 6922 208 6403 209 6971 210 6513 211 6400 212 6895 213 6925 214 6475 215 6502 216 6620 217 6503 218 6900 219 6940 220 6584 221 6951 222 6938 223 6443 224 6536 225 6456 226 6959 227 6808 228 6964 229 6912 230 6483 231 6865 232 6463 233 6465 234 6249 235 6971 236 6395 237 6549 238 6515 239 6928 240 6718 241 6413 242 6546 243 6498 244 6641 245 6361 246 6519 247 6917 248 6825 249 6918 250 6909 251 6751 252 6338 253 6503 254 6913 255 6939 256 6365 257 6489 258 6504 259 6534 260 6505 261 6407 262 6439 263 6483 264 6926 265 6445 266 6822 267 6370 268 6922 269 6574 270 6514 271 6963 272 6290 273 6324 274 6723 275 6412 276 6463 277 6964 278 6480 279 6540 280 6501 281 6903 282 6635 283 6594 284 6360 285 6470 286 6515 287 6317 288 6766 289 6691 290 6907 291 6312 292 6390 293 6396 294 6428 295 6500 296 6486 297 6629 298 6607 299 6507 300 6321 301 6443 302 6541 303 6779 304 6805 305 6310 306 6450 307 6507 308 6673 309 6933 310 6546 311 6404 312 6695 313 6620 314 6617 315 6503 316 6934 317 6624 318 6907 319 6404 320 6869 321 6444 322 6322 323 6661 324 6792 325 6494 326 6519 327 6972 328 6460 329 6260 330 6637 331 6612 332 6926 333 6479 334 6913 335 6894 336 6356 337 6933 338 6382 339 6325 340 6488 341 6450 342 6271 343 6611 344 6792 345 6938 346 6517 347 6332 348 6399 349 6952 350 6913 351 6753 352 6486 353 6617 354 6496 355 6486 356 6660 357 6542 358 6498 359 6563 360 6460 361 6285 362 6449 363 6518 364 6964 365 6476 366 6956 367 6894 368 6416 369 6436 370 6595 371 6967 372 6696 373 6837 374 6446 375 6238 376 6500 377 6883 378 6962 379 6554 380 6609 381 6916 382 6514 383 6918 384 6387 385 6393 386 6390 387 6746 388 6464 389 6590 390 6708 391 6685 392 6957 393 6977 394 6429 395 6619 396 6504 397 6403 398 6948 399 6890 400 6510 401 6482 402 6705 403 6401 404 6506 405 6890 406 6958 407 6430 408 6474 409 6936 410 6361 411 6458 412 6362 413 6710 414 6670 415 6930 416 6210 417 6616 418 6332 419 6831 420 6515 421 6959 422 6711 423 6411 424 6981 425 6400 426 6494 427 6922 428 6766 429 6747 430 6561 431 6783 432 6916 433 6678 434 6968 435 6915 436 6561 437 6426 438 6963 439 6539 440 6836 441 6923 442 6431 443 6777 444 6349 445 6897 446 6492 447 6645 448 6885 449 6466 450 6613 451 6465 452 6564 453 6918 454 6589 455 6536 456 6420 457 6956 458 6561 459 6910 460 6460 461 6895 462 6952 463 6571 464 6403 465 6948 466 6906 467 6884 468 6955 469 6497 470 6914 471 6875 472 6471 473 6891 474 6491 475 6979 476 6983 477 6988 478 6308 479 6693 480 6516 481 6562 482 6527 483 6542 484 6303 485 6987 486 6902 487 6932 488 6965 489 6453 490 6444 491 6926 492 6957 493 6712 494 6372 495 6898 496 6483 497 6905 498 6417 499 6933 500 6681 501 6921 502 6940 503 6374 504 6447 505 6735 506 6949 507 6949 508 6732 509 6567 510 6591 511 6596 512 6913 513 6584 514 6571 515 6388 516 6315 517 6617 518 6904 519 6584 520 6832 521 6894 522 6582 523 6987 524 6478 525 6603 526 6524 527 6640 528 6888 529 6892 530 6665 531 6807 532 6527 533 6559 534 6893 535 6549 536 6937 537 6839 538 6692 539 6962 540 6547 541 6539 542 6631 543 6753 544 6730 545 6918 546 6683 547 6812 548 6548 549 6901 550 7316 551 6542 552 6625 553 6761 554 6490 555 6926 556 6503 557 6531 558 6526 559 6513 560 6861 561 6681 562 6481 563 6508 564 6537 565 6937 566 6495 567 6414 568 6435 569 6534 570 6933 571 6444 572 6632 573 6921 574 6517 575 6894 576 6891 577 6855 578 6403 579 6735 580 6532 581 6343 582 6363 583 6614 584 6677 585 6949 586 6884 587 6513 588 6517 589 6554 590 6441 591 6921 592 6595 593 6475 594 6495 595 6432 596 6519 597 6711 598 6524 599 6927 600 6939 601 6496 602 6596 603 6532 604 6985 605 6738 606 6845 607 6966 608 6984 609 6725 610 6458 611 6524 612 6847 613 6580 614 6477 615 6919 616 6631 617 6505 618 6487 619 6357 620 6429 621 6535 622 6537 623 6475 624 6822 625 6594 626 6460 627 6325 628 6649 629 6599 630 6552 631 6405 632 6591 633 6389 634 6979 635 6663 636 6669 637 6478 638 6445 639 6949 640 6974 641 6536 642 6880 643 6980 644 6447 645 6517 646 6517 647 6797 648 6449 649 6690 650 6440 651 6921 652 6971 653 6555 654 6902 655 6495 656 6549 657 6965 658 6573 659 6743 660 6466 661 6872 662 6784 663 6428 664 6297 665 6328 666 6576 667 6556 668 6388 669 6642 670 6988 671 6570 672 6528 673 6964 674 6949 675 6935 676 6501 677 6932 678 6651 679 6559 680 6507 681 6740 682 6523 683 6915 684 6753 685 6977 686 6443 687 6600 688 6925 689 6749 690 6690 691 6499 692 6936 693 6982 694 6762 695 6265 696 6467 697 6641 698 6499 699 6326 700 6697 701 6758 702 6435 703 6527 704 6505 705 6823 706 6344 707 6372 708 6519 709 6504 710 6967 711 6510 712 6681 713 6537 714 6505 715 6748 716 6952 717 6546 718 6931 719 6744 720 6869 721 6749 722 6958 723 6437 724 6561 725 6451 726 6340 727 6591 728 6969 729 6908 730 6917 731 6823 732 6584 733 6965 734 6551 735 6949 736 6557 737 6645 738 6738 739 6629 740 6842 741 6875 742 6965 743 6609 744 6359 745 6342 746 6426 747 6506 748 6905 749 6411 750 6622 751 6628 752 6729 753 6585 754 6795 755 6635 756 6945 757 6767 758 6304 759 6629 760 6706 761 6529 762 6506 763 6980 764 6692 765 6480 766 6563 767 6582 768 6398 769 6907 770 6587 771 6835 772 6406 773 6985 774 6903 775 6839 776 6513 777 6520 778 6419 779 6921 780 6502 781 6732 782 6901 783 6529 784 6962 785 6929 786 6767 787 6928 788 6894 789 6550 790 6558 791 6395 792 6689 793 6954 794 6943 795 6918 796 6920 797 6542 798 6892 799 6898 800 6509 801 6649 802 6552 803 6585 804 6517 805 6593 806 6440 807 6544 808 6548 809 6546 810 6899 811 6673 812 6716 813 6571 814 6954 815 6388 816 6585 817 6913 818 6914 819 6726 820 6639 821 6925 822 6586 823 6890 824 6527 825 6928 826 6615 827 6472 828 6268 829 6983 830 6809 831 6900 832 6497 833 6920 834 6818 835 6611 836 6916 837 6943 838 6814 839 6958 840 6989 841 6786 842 6578 843 6682 844 6901 845 6809 846 6495 847 6526 848 6633 849 6983 850 6516 851 6861 852 6961 853 6962 854 6411 855 6568 856 6448 857 6815 858 6476 859 6871 860 6668 861 6277 862 6498 863 6825 864 6635 865 6554 866 6441 867 6819 868 6987 869 6723 870 6594 871 6582 872 6427 873 6555 874 6491 875 6901 876 6484 877 6327 878 6496 879 6563 880 6575 881 6366 882 6901 883 6646 884 6536 885 6499 886 6794 887 6555 888 6721 889 6579 890 6655 891 6900 892 6604 893 6482 894 6901 895 6704 896 6509 897 6907 898 6571 899 6966 900 6449 901 6297 902 6335 903 6694 904 6499 905 6578 906 6581 907 6395 908 6939 909 6458 910 6616 911 6413 912 6569 913 6900 914 6558 915 6499 916 6589 917 6531 918 6831 919 6892 920 6478 921 6503 922 6574 923 6584 924 6460 925 6801 926 6915 927 6679 928 6440 929 6924 930 6440 931 6884 932 6965 933 6431 934 6637 935 6909 936 6756 937 6473 938 6439 939 6787 940 6540 941 6501 942 6886 943 6547 944 6607 945 6837 946 6816 947 6583 948 6588 949 6850 950 6786 951 6449 952 6564 953 6478 954 6438 955 6516 956 6300 957 6968 958 6488 959 6737 960 6354 961 6373 962 6965 963 6921 964 6506 965 6490 966 6497 967 6624 968 6533 969 6508 970 6627 971 6460 972 6973 973 6510 974 6938 975 6468 976 6695 977 6960 978 6543 979 6926 980 6905 981 6941 982 6603 983 6527 984 6460 985 6656 986 6457 987 6589 988 6633 989 6517 990 6455 991 6747 992 6702 993 6664 994 6580 995 6950 996 6459 997 6773 998 6531 999 6967 1000 6545 1001 6540 1002 6782 1003 6331 1004 6543 1005 6363 1006 6467 1007 6892 1008 6765 1009 6534 1010 6583 1011 6584 1012 6721 1013 6960 1014 6693 1015 6969 1016 6543 1017 6921 1018 6916 1019 6690 1020 6555 1021 6950 1022 6964 1023 6935 1024 6959 1025 6907 1026 6386 1027 6958 1028 6506 1029 6928 1030 6551 1031 6736 1032 6617 1033 6517 1034 6364 1035 6565 1036 6574 1037 6946 1038 6515 1039 6702 1040 6483 1041 6609 1042 6366 1043 6934 1044 6724 1045 6476 1046 6749 1047 6950 1048 6710 1049 6916 1050 6574 1051 6276 1052 6442 1053 6972 1054 6905 1055 6773 1056 6460 1057 6963 1058 6903 1059 6475 1060 6477 1061 6759 1062 6894 1063 6932 1064 6907 1065 6957 1066 6492 1067 6875 1068 6526 1069 6348 1070 6437 1071 6954 1072 6476 1073 6439 1074 6928 1075 6910 1076 6637 1077 6929 1078 6398 1079 6894 1080 6985 1081 6710 1082 6690 1083 6565 1084 6552 1085 6684 1086 6440 1087 6924 1088 6586 1089 6912 1090 6569 1091 6557 1092 6920 1093 6878 1094 6484 1095 6540 1096 6895 1097 6323 1098 6289 1099 6926 1100 6546 1101 6263 1102 6484 1103 6556 1104 6679 1105 6831 1106 6681 1107 6835 1108 6488 1109 6765 1110 6785 1111 6939 1112 6606 1113 6916 1114 6665 1115 6449 1116 6536 1117 6518 1118 6537 1119 6575 1120 6640 1121 6722 1122 6484 1123 6938 1124 6409 1125 6577 1126 6922 1127 6804 1128 6889 1129 6560 1130 6908 1131 6434 1132 6937 1133 6918 1134 6913 1135 6894 1136 6598 1137 6443 1138 6496 1139 6925 1140 6926 1141 6350 1142 6538 1143 6578 1144 6443 1145 6263 1146 6411 1147 6560 1148 6532 1149 6498 1150 6856 1151 6908 1152 6570 1153 6896 1154 6604 1155 6564 1156 6276 1157 6964 1158 6631 1159 6650 1160 6519 1161 6441 1162 6798 1163 6949 1164 6920 1165 6927 1166 6505 1167 6568 1168 6949 1169 6743 1170 6569 1171 6508 1172 6843 1173 6687 1174 6984 1175 6897 1176 6364 1177 6962 1178 6725 1179 6543 1180 6742 1181 6939 1182 6598 1183 6573 1184 6608 1185 6975 1186 6637 1187 6960 1188 6819 1189 6540 1190 6487 1191 6454 1192 6795 1193 6450 1194 6418 1195 6422 1196 6389 1197 6634 1198 6647 1199 6461 1200 6933 1201 6540 1202 6808 1203 6734 1204 6967 1205 6972 1206 6575 1207 6451 1208 6438 1209 6602 1210 6651 1211 6943 1212 6513 1213 6677 1214 6486 1215 6339 1216 6578 1217 6936 1218 6956 1219 6969 1220 6890 1221 6395 1222 6533 1223 6927 1224 6478 1225 6400 1226 6726 1227 6870 1228 6715 1229 6524 1230 6479 1231 6409 1232 6405 1233 6408 1234 6385 1235 6475 1236 6892 1237 6619 1238 6519 1239 6734 1240 6442 1241 6723 1242 6895 1243 6373 1244 6473 1245 6530 1246 6439 1247 6421 1248 6514 1249 6979 1250 6865 1251 6765 1252 6894 1253 6531 1254 6404 1255 6777 1256 6973 1257 6296 1258 6762 1259 6921 1260 6525 1261 6501 1262 6877 1263 6454 1264 6777 1265 6956 1266 6532 1267 6456 1268 6843 1269 6512 1270 6597 1271 6192 1272 6877 1273 6376 1274 6577 1275 6611 1276 6461 1277 6438 1278 6390 1279 6511 1280 6826 1281 6798 1282 6487 1283 6478 1284 6373 1285 6498 1286 6416 1287 6357 1288 6530 1289 6894 1290 6962 1291 6972 1292 6347 1293 6937 1294 6393 1295 6476 1296 6331 1297 6422 1298 6597 1299 6642 1300 6539 1301 6528 1302 6792 1303 6565 1304 6344 1305 6919 1306 6517 1307 6963 1308 6526 1309 6442 1310 6576 1311 6450 1312 6928 1313 6407 1314 6824 1315 6469 1316 6526 1317 6969 1318 6894 1319 6520 1320 6349 1321 6512 1322 6515 1323 6959 1324 6365 1325 6317 1326 6545 1327 6648 1328 6950 1329 6435 1330 6201 1331 6456 1332 6386 1333 6478 1334 6969 1335 6376 1336 6892 1337 6644 1338 6512 1339 6434 1340 6494 1341 6498 1342 6895 1343 6921 1344 6540 1345 6871 1346 6950 1347 6962 1348 6771 1349 6934 1350 6961 1351 6975 1352 6524 1353 6495 1354 6290 1355 6950 1356 6857 1357 6430 1358 6646 1359 6696 1360 6328 1361 6701 1362 6940 1363 6971 1364 6504 1365 6508 1366 6893 1367 6974 1368 6478 1369 6473 1370 6840 1371 6467 1372 6473 1373 6962 1374 6689 1375 6494 1376 6808 1377 6911 1378 6676 1379 6450 1380 6344 1381 6956 1382 6212 1383 6963 1384 6424 1385 6388 1386 6421 1387 6528 1388 6931 1389 6466 1390 6873 1391 6969 1392 6184 1393 6456 1394 6314 1395 6962 1396 6358 1397 6343 1398 6347 1399 6556 1400 6948 1401 6628 1402 6960 1403 6929 1404 6535 1405 6948 1406 6622 1407 6596 1408 6299 1409 6380 1410 6567 1411 6392 1412 6902 1413 6700 1414 6430 1415 6905 1416 6674 1417 6892 1418 6532 1419 6337 1420 6890 1421 6518 1422 6956 1423 6935 1424 6890 1425 6360 1426 6244 1427 6485 1428 6873 1429 6456 1430 6699 1431 6444 1432 6509 1433 6511 1434 6469 1435 6811 1436 6731 1437 6954 1438 6748 1439 6955 1440 6612 1441 6923 1442 6533 1443 6488 1444 6945 1445 6917 1446 6959 1447 6451 1448 6327 1449 6437 1450 6706 1451 6358 1452 6940 1453 6354 1454 6845 1455 6889 1456 6206 1457 6344 1458 6988 1459 6524 1460 6644 1461 6533 1462 6948 1463 6857 1464 6486 1465 6517 1466 6392 1467 6536 1468 6245 1469 6872 1470 6513 1471 6896 1472 6941 1473 6375 1474 6919 1475 6478 1476 6574 1477 6947 1478 6704 1479 6780 1480 6768 1481 6449 1482 6462 1483 6809 1484 6959 1485 6509 1486 6591 1487 6413 1488 6205 1489 6437 1490 6561 1491 6623 1492 6936 1493 6958 1494 6945 1495 6725 1496 6740 1497 6449 1498 6727 1499 6635 1500 6948 1501 6334 1502 6480 1503 6315 1504 6442 1505 6353 1506 6658 1507 6452 1508 6197 1509 6918 1510 6393 1511 6326 1512 6490 1513 6446 1514 6380 1515 6850 1516 6490 1517 6949 1518 6859 1519 6832 1520 6610 1521 6524 1522 6484 1523 6981 1524 6284 1525 6392 1526 6448 1527 6710 1528 6585 1529 6471 1530 6489 1531 6939 1532 6446 1533 6160 1534 6960 1535 6412 1536 6494 1537 6595 1538 6362 1539 6978 1540 6521 1541 6350 1542 6635 1543 6738 1544 6527 1545 6751 1546 6339 1547 6967 1548 6427 1549 6919 1550 6454 1551 6591 1552 6942 1553 6545 1554 6958 1555 6750 1556 6339 1557 6955 1558 6906 1559 6352 1560 6526 1561 6338 1562 6499 1563 6955 1564 6573 1565 6379 1566 6417 1567 6541 1568 6535 1569 6594 1570 6812 1571 6287 1572 6540 1573 6928 1574 6765 1575 6445 1576 6457 1577 6605 1578 6854 1579 6538 1580 6935 1581 6895 1582 6436 1583 6766 1584 6491 1585 6380 1586 6455 1587 6538 1588 6260 1589 6453 1590 6707 1591 6444 1592 6487 1593 6942 1594 6531 1595 6618 1596 6934 1597 6622 1598 6673 1599 6746 1600 6935 1601 6707 1602 6559 1603 6527 1604 6985 1605 6457 1606 6986 1607 6646 1608 6369 1609 6865 1610 6780 1611 6399 1612 6721 1613 6680 1614 6512 1615 6402 1616 6930 1617 6929 1618 6963 1619 6963 1620 6941 1621 6934 1622 6501 1623 6957 1624 6525 1625 6488 1626 6882 1627 6524 1628 6326 1629 6499 1630 6839 1631 6571 1632 6969 1633 6506 1634 6428 1635 6923 1636 6639 1637 6395 1638 6773 1639 6517 1640 6910 1641 6923 1642 6780 1643 6262 1644 6728 1645 6783 1646 6798 1647 6617 1648 6458 1649 6517 1650 6278 1651 6514 1652 6356 1653 6506 1654 6464 1655 6949 1656 6600 1657 6574 1658 6653 1659 6953 1660 6429 1661 6719 1662 6742 1663 6659 1664 6647 1665 6490 1666 6927 1667 6967 1668 6506 1669 6524 1670 6715 1671 6805 1672 6924 1673 6570 1674 6392 1675 6939 1676 6348 1677 6435 1678 6750 1679 6443 1680 6895 1681 6980 1682 6950 1683 6731 1684 6692 1685 6779 1686 6531 1687 6961 1688 6481 1689 6899 1690 6846 1691 6733 1692 6914 1693 6924 1694 6969 1695 6550 1696 6469 1697 6473 1698 6908 1699 6906 1700 6965 1701 6488 1702 6912 1703 6387 1704 6767 1705 6903 1706 6502 1707 6413 1708 6502 1709 6411 1710 6529 1711 6388 1712 6386 1713 6592 1714 6362 1715 6525 1716 6535 1717 6967 1718 6678 1719 6447 1720 6973 1721 6463 1722 6502 1723 6511 1724 6936 1725 6594 1726 6464 1727 6895 1728 6536 1729 6965 1730 6461 1731 6850 1732 6436 1733 6896 1734 6459 1735 6656 1736 6444 1737 6970 1738 6830 1739 6260 1740 6927 1741 6870 1742 6674 1743 6903 1744 6396 1745 6327 1746 6870 1747 6953 1748 6398 1749 6406 1750 6443 1751 6400 1752 6944 1753 6626 1754 6928 1755 6914 1756 6423 1757 6855 1758 6257 1759 6540 1760 6841 1761 6447 1762 6318 1763 6487 1764 6912 1765 6502 1766 6373 1767 6774 1768 6902 1769 6419 1770 6531 1771 6942 1772 6723 1773 6894 1774 6511 1775 6535 1776 6402 1777 6458 1778 6969 1779 6497 1780 6434 1781 6491 1782 6417 1783 6800 1784 6930 1785 6430 1786 6899 1787 6967 1788 6418 1789 6880 1790 6689 1791 6960 1792 6943 1793 6920 1794 6714 1795 6502 1796 6987 1797 6453 1798 6898 1799 6896 1800 6462 1801 6583 1802 6965 1803 6313 1804 6942 1805 6517 1806 6523 1807 6368 1808 6757 1809 6420 1810 6887 1811 6405 1812 6897 1813 6714 1814 6306 1815 6508 1816 6534 1817 6261 1818 6502 1819 6921 1820 6454 1821 6978 1822 6403 1823 6393 1824 6809 1825 6834 1826 6525 1827 6546 1828 6987 1829 6475 1830 6916 1831 6745 1832 6732 1833 6672 1834 6508 1835 6983 1836 6471 1837 6629 1838 6843 1839 6917 1840 6943 1841 6500 1842 6959 1843 6538 1844 6410 1845 6414 1846 6346 1847 6681 1848 6959 1849 6415 1850 6506 1851 6401 1852 6544 1853 6392 1854 6436 1855 6453 1856 6480 1857 6494 1858 6514 1859 6515 1860 6417 1861 6777 1862 6321 1863 6592 1864 6417 1865 6585 1866 6656 1867 6282 1868 6684 1869 6962 1870 6868 1871 6687 1872 6266 1873 6516 1874 6422 1875 6920 1876 6496 1877 6455 1878 6310 1879 6859 1880 6464 1881 6502 1882 6957 1883 6549 1884 6661 1885 6904 1886 6463 1887 6471 1888 6740 1889 6961 1890 6350 1891 6505 1892 6409 1893 6358 1894 6776 1895 6434 1896 6648 1897 6567 1898 6577 1899 6538 1900 6395 1901 6522 1902 6607 1903 6663 1904 6493 1905 6945 1906 6766 1907 6560 1908 6794 1909 6590 1910 6814 1911 6279 1912 6365 1913 6477 1914 6559 1915 6254 1916 6493 1917 6574 1918 6495 1919 6495 1920 6353 1921 6542 1922 6264 1923 6935 1924 6444 1925 6955 1926 6300 1927 6683 1928 6559 1929 6414 1930 6371 1931 6934 1932 6689 1933 6986 1934 6514 1935 6577 1936 6690 1937 6843 1938 6706 1939 6871 1940 6462 1941 6335 1942 6945 1943 6582 1944 6720 1945 6466 1946 6963 1947 6595 1948 6894 1949 6439 1950 6515 1951 6602 1952 6480 1953 6640 1954 6905 1955 6451 1956 6490 1957 6597 1958 6400 1959 6370 1960 6978 1961 6882 1962 6327 1963 6344 1964 6862 1965 6898 1966 6816 1967 6752 1968 6939 1969 6521 1970 6945 1971 6982 1972 6407 1973 6835 1974 6556 1975 6443 1976 6419 1977 6677 1978 6517 1979 6899 1980 6299 1981 6439 1982 6942 1983 6522 1984 6430 1985 6460 1986 6287 1987 6346 1988 6767 1989 6562 1990 6905 1991 6489 1992 6501 1993 6174 1994 6508 1995 6961 1996 6827 1997 6505 1998 6959 1999 6915 2000 6686 2001 6475 2002 6595 2003 6924 2004 6418 2005 6765 2006 6746 2007 6950 2008 6877 2009 6434 2010 6899 2011 6550 2012 6426 2013 6689 2014 6487 2015 6976 2016 6349 2017 6376 2018 6487 2019 6986 2020 6919 2021 6391 2022 6297 2023 6478 2024 6356 2025 6793 2026 6602 2027 6515 2028 6461 2029 6970 2030 6395 2031 6345 2032 6943 2033 6925 2034 6470 2035 6813 2036 6955 2037 6411 2038 6494 2039 6731 2040 6243 2041 6496 2042 6857 2043 6501 2044 6961 2045 6861 2046 6464 2047 6766 2048 6719 2049 6299 2050 6402 2051 6410 2052 6445 2053 6450 2054 6325 2055 6521 2056 6274 2057 6946 2058 6628 2059 6977 2060 6668 2061 6445 2062 6325 2063 6814 2064 6510 2065 6675 2066 6848 2067 6957 2068 6503 2069 6904 2070 6496 2071 6508 2072 6810 2073 6971 2074 6946 2075 6270 2076 6963 2077 6310 2078 6433 2079 6676 2080 6982 2081 6376 2082 6287 2083 6935 2084 6645 2085 6374 2086 6466 2087 6252 2088 6769 2089 6439 2090 6971 2091 6239 2092 6841 2093 6898 2094 6565 2095 6571 2096 6262 2097 6662 2098 6513 2099 6431 2100 6304 2101 6536 2102 6374 2103 6441 2104 6642 2105 6497 2106 6503 2107 6924 2108 6351 2109 6957 2110 6356 2111 6384 2112 6549 2113 6855 2114 6609 2115 6445 2116 6410 2117 6469 2118 6378 2119 6760 2120 6475 2121 6970 2122 6407 2123 6485 2124 6694 2125 6356 2126 6416 2127 6908 2128 6499 2129 6912 2130 6367 2131 6185 2132 6741 2133 6494 2134 6618 2135 6459 2136 6421 2137 6338 2138 6954 2139 6302 2140 6928 2141 6468 2142 6354 2143 6411 2144 6931 2145 6823 2146 6713 2147 6526 2148 6355 2149 6941 2150 6442 2151 6424 2152 6430 2153 6442 2154 6307 2155 6439 2156 6392 2157 6429 2158 6271 2159 6909 2160 6337 2161 6620 2162 6629 2163 6943 2164 6933 2165 6675 2166 6814 2167 6437 2168 6980 2169 6316 2170 6465 2171 6613 2172 6823 2173 6859 2174 6957 2175 6748 2176 6498 2177 6580 2178 6967 2179 6620 2180 6906 2181 6478 2182 6259 2183 6418 2184 6641 2185 6920 2186 6893 2187 6958 2188 6405 2189 6847 2190 6490 2191 6781 2192 6486 2193 6317 2194 6809 2195 6652 2196 6865 2197 6385 2198 6964 2199 7459"/>
<polyline transform="matrix(0.310505 0 0 0.1 93.7 0)" vector-effect="non-scaling-stroke" stroke="#ff0000" stroke-opacity="0.6" points="0 6957 1 7053 2 6980 3 6871 4 6812 5 6709 6 6748 7 6699 8 6777 9 6915 10 6708 11 6918 12 6935 13 6654 14 6751 15 6826 16 6756 17 6740 18 7033 19 6867 20 7010 21 6839 22 6943 23 6678 24 6788 25 6962 26 6858 27 7015 28 6851 29 6784 30 6822 31 7109 32 6900 33 6790 34 6816 35 6705 36 7025 37 6788 38 6942 39 6831 40 6804 41 6767 42 6933 43 6833 44 7010 45 7042 46 6785 47 6865 48 7070 49 6969 50 6855 51 6654 52 6721 53 6753 54 7092 55 6871 56 6796 57 6807 58 6804 59 6889 60 6628 61 6665 62 6871 63 6987 64 6589 65 6931 66 6702 67 6608 68 6982 69 6821 70 6904 71 6791 72 6817 73 6604 74 6781 75 6860 76 6711 77 6894 78 6907 79 6565 80 6966 81 6923 82 6853 83 6997 84 7135 85 6720 86 6962 87 6930 88 6908 89 6987 90 7000 91 6838 92 6544 93 6762 94 6761 95 7056 96 6862 97 7014 98 6757 99 6888 100 6854 101 6870 102 6935 103 7058 104 6782 105 7040 106 7013 107 6897 108 6951 109 6824 110 6726 111 6825 112 6832 113 6855 114 6745 115 7100 116 6810 117 6980 118 7019 119 6857 120 6908 121 6781 122 6713 123 7162 124 6867 125 6600 126 6743 127 6667 128 6844 129 7045 130 7004 131 6763 132 6731 133 6952 134 6892 135 6822 136 7086 137 6902 138 6644 139 6570 140 6870 141 6616 142 6925 143 6962 144 7149 145 6730 146 6904 147 6549 148 6812 149 6830 150 7092 151 6658 152 6902 153 6876 154 7144 155 6733 156 6725 157 6934 158 6842 159 6802 160 6728 161 6840 162 6628 163 6885 164 6933 165 6914 166 7186 167 6959 168 6721 169 6818 170 6960 171 6807 172 7117 173 6890 174 6783 175 6760 176 6953 177 6732 178 6607 179 6907 180 6754 181 7055 182 7108 183 6771 184 6845 185 6825 186 6927 187 6889 188 6744 189 6625 190 6879 191 7066 192 6683 193 6771 194 6760 195 6826 196 6545 197 6840 198 6782 199 7092 200 6925 201 6939 202 6853 203 6803 204 6947 205 6622 206 6988 207 6908 208 6817 209 7013 210 6774 211 6765 212 6887 213 6598 214 6837 215 6811 216 6974 217 7068 218 6931 219 6890 220 6907 221 6747 222 7161 223 6996 224 7087 225 6671 226 6922 227 6915 228 6992 229 6729 230 6901 231 6818 232 7114 233 6693 234 6795 235 6775 236 6685 237 6872 238 6869 239 6753 240 6791 241 6879 242 6841 243 6913 244 6753 245 6724 246 6846 247 6600 248 7049 249 6877 250 6622 251 6902 252 7057 253 6663 254 6775 255 7004 256 6745 257 6981 258 7023 259 6867 260 6910 261 6991 262 6895 263 6979 264 6839 265 6850 266 6749 267 6907 268 7022 269 7020 270 6879 271 6645 272 6736 273 6931 274 6723 275 7000 276 6714 277 6898 278 6746 279 6766 280 6884 281 6805 282 6988 283 6858 284 6706 285 6309 286 6756 287 6837 288 6981 289 6709 290 7066 291 6954 292 6802 293 7007 294 6646 295 6705 296 6924 297 6922 298 7023 299 7034 300 6791 301 6768 302 6803 303 6815 304 6924 305 6803 306 7044 307 6849 308 6657 309 6677 310 6912 311 6895 312 6670 313 6616 314 7048 315 6907 316 6821 317 6691 318 6962 319 6767 320 6892 321 6540 322 6796 323 6870 324 6897 325 6714 326 6764 327 6996 328 6825 329 7030 330 6953 331 7024 332 7028 333 6944 334 6983 335 6785 336 6750 337 6886 338 7002 339 6749 340 7122 341 7110 342 6760 343 6769 344 6727 345 6884 346 7022 347 6923 348 6782 349 6958 350 6949 351 7041 352 7010 353 6746 354 6798 355 7011 356 7000 357 6932 358 6786 359 7012 360 6881 361 7141 362 7024 363 6804 364 6741 365 7012 366 6961 367 6755 368 6911 369 6931 370 6792 371 6835 372 6714 373 6756 374 6937 375 6877 376 6869 377 7040 378 6990 379 6734 380 7071 381 6731 382 6825 383 6881 384 6792 385 6800 386 6704 387 6916 388 6893 389 6895 390 6616 391 6739 392 6985 393 6908 394 6957 395 6862 396 6836 397 6563 398 7104 399 6729 400 6807 401 6957 402 6885 403 6930 404 6858 405 6733 406 7065 407 6693 408 6915 409 6668 410 6812 411 6704 412 6791 413 6723 414 6859 415 6975 416 6778 417 6773 418 6591 419 7130 420 6893 421 6727 422 7032 423 6897 424 6589 425 6681 426 6983 427 6680 428 6712 429 6765 430 6817 431 6836 432 6982 433 6935 434 6771 435 6849 436 6625 437 6912 438 7183 439 6912 440 6832 441 6818 442 6859 443 6976 444 6672 445 6956 446 6775 447 6906 448 7026 449 6683 450 7198 451 6980 452 6812 453 6916 454 6770 455 6882 456 6928 457 6585 458 6898 459 6890 460 7011 461 6967 462 6784 463 6795 464 6869 465 6961 466 6779 467 7092 468 6914 469 6902 470 6980 471 6849 472 6957 473 6974 474 6633 475 6772 476 6712 477 6862 478 6742 479 6766 480 6710 481 6558 482 6898 483 6835 484 6875 485 7330 486 7052 487 6866 488 6785 489 6944 490 6720 491 6700 492 6923 493 6682 494 6639 495 6807 496 6997 497 6676 498 6890 499 6918 500 6853 501 6939 502 6728 503 6766 504 6708 505 6792 506 6972 507 6889 508 6753 509 6921 510 6485 511 6900 512 6945 513 6718 514 6770 515 6872 516 6899 517 6813 518 6759 519 6769 520 6908 521 6812 522 6758 523 6768 524 7273 525 6985 526 6971 527 6899 528 6845 529 6748 530 6788 531 6886 532 6866 533 6639 534 6950 535 6829 536 6664 537 6824 538 7137 539 6820 540 6920 541 6884 542 6732 543 6808 544 6904 545 6753 546 6813 547 6856 548 6831 549 6837 550 6915 551 6930 552 6867 553 6996 554 7036 555 6700 556 6902 557 6874 558 6889 559 6868 560 6868 561 6863 562 6977 563 6749 564 6962 565 6736 566 7123 567 7011 568 6742 569 6891 570 6960 571 6823 572 7009 573 6862 574 7163 575 6932 576 6958 577 6802 578 6758 579 6985 580 6662 581 6951 582 7143 583 7185 584 6672 585 6885 586 6959 587 6972 588 7017 589 6697 590 6885 591 6640 592 6901 593 7183 594 6764 595 6923 596 6906 597 6670 598 6910 599 6723 600 6877 601 6975 602 6810 603 6955 604 6716 605 6751 606 6869 607 6797 608 6803 609 6914 610 6760 611 6908 612 6797 613 7003 614 6865 615 6824 616 6982 617 6933 618 6949 619 6784 620 6974 621 6822 622 6680 623 6833 624 7091 625 6863 626 6744 627 6918 628 6735 629 6800 630 6826 631 6915 632 6948 633 6915 634 6873 635 6813 636 6827 637 6921 638 6874 639 6832 640 7096 641 6983 642 6988 643 6910 644 6919 645 6917 646 6998 647 6796 648 6848 649 7100 650 6883 651 7032 652 6662 653 6945 654 6937 655 6875 656 6912 657 6894 658 6683 659 6857 660 6777 661 6739 662 7015 663 6666 664 6798 665 6763 666 7001 667 6781 668 6835 669 6959 670 6590 671 6815 672 6921 673 6865 674 6771 675 6742 676 6814 677 6731 678 6698 679 7053 680 6955 681 7015 682 6879 683 6703 684 6807 685 7030 686 6932 687 6759 688 6963 689 6907 690 6854 691 7133 692 6793 693 6850 694 6821 695 7024 696 6997 697 6974 698 6864 699 6887 700 6880 701 6662 702 6726 703 6992 704 6984 705 6673 706 6940 707 6718 708 6689 709 6970 710 6935 711 6889 712 7013 713 7028 714 6953 715 6789 716 6960 717 6928 718 6962 719 7081 720 6707 721 7209 722 6988 723 6829 724 7086 725 6824 726 6739 727 7016 728 6876 729 7049 730 6838 731 6893 732 6876 733 6726 734 6843 735 6729 736 6822 737 7063 738 6872 739 6842 740 7096 741 6732 742 6898 743 6859 744 7024 745 6898 746 6868 747 6950 748 6897 749 7186 750 6729 751 7054 752 7194 753 7034 754 7018 755 6838 756 7029 757 6872 758 7035 759 6620 760 6838 761 6653 762 7043 763 6823 764 7036 765 6835 766 6822 767 7120 768 7060 769 7064 770 7108 771 7007 772 7037 773 7101 774 6899 775 6840 776 7084 777 6985 778 6911 779 6943 780 7005 781 6807 782 6802 783 6824 784 6940 785 6653 786 6685 787 6966 788 6929 789 6758 790 7019 791 6862 792 6908 793 7006 794 6944 795 7120 796 6985 797 7176 798 6615 799 6717 800 6753 801 6875 802 6784 803 6748 804 6781 805 6794 806 7034 807 6859 808 6985 809 7070 810 7065 811 6859 812 6777 813 7094 814 6686 815 6723 816 6965 817 6976 818 6925 819 6787 820 6966 821 7060 822 6870 823 7186 824 6897 825 6763 826 6875 827 6813 828 6851 829 6820 830 6896 831 7024 832 6945 833 6925 834 6750 835 6702 836 6860 837 7014 838 7011 839 6939 840 6733 841 6871 842 6922 843 7015 844 6799 845 6877 846 6921 847 6901 848 6693 849 6935 850 6693 851 6751 852 6907 853 6798 854 6930 855 7022 856 6949 857 7032 858 6846 859 6911 860 6839 861 6805 862 7322 863 6872 864 7149 865 6891 866 7028 867 6899 868 6733 869 7136 870 6887 871 6922 872 7160 873 6827 874 6907 875 6978 876 7006 877 6490 878 6963 879 7147 880 7033 881 6959 882 6961 883 6921 884 7048 885 6839 886 6974 887 7088 888 7017 889 6960 890 6798 891 6846 892 6954 893 6907 894 6881 895 6642 896 6990 897 6848 898 6813 899 7033 900 6884 901 6887 902 6970 903 6834 904 6773 905 6760 906 6933 907 6883 908 6599 909 7052 910 6878 911 6790 912 6887 913 6821 914 6884 915 6808 916 6738 917 6935 918 6880 919 6913 920 6959 921 6908 922 7054 923 6808 924 6682 925 6682 926 6738 927 7031 928 6706 929 6998 930 6911 931 6662 932 7045 933 6794 934 6867 935 6924 936 7019 937 6848 938 6964 939 6766 940 6743 941 7084 942 6969 943 6945 944 7058 945 7049 946 6891 947 6930 948 7119 949 6973 950 6834 951 7060 952 7023 953 6694 954 6729 955 7114 956 7079 957 6852 958 7058 959 6934 960 6960 961 6828 962 7232 963 7190 964 7062 965 6768 966 6921 967 7124 968 6836 969 6808 970 6932 971 6943 972 6843 973 6741 974 6880 975 6830 976 6906 977 6950 978 7020 979 6866 980 6939 981 6931 982 6777 983 6835 984 6785 985 7106 986 6826 987 6976 988 7005 989 7010 990 6740 991 6790 992 6992 993 7048 994 6897 995 6959 996 6681 997 7090 998 7138 999 6932 1000 6897 1001 6880 1002 6799 1003 6626 1004 6943 1005 6969 1006 7128 1007 6866 1008 6786 1009 6932 1010 6743 1011 6893 1012 6699 1013 6853 1014 7036 1015 6981 1016 7098 1017 7125 1018 6862 1019 6783 1020 6641 1021 6904 1022 6928 1023 7042 1024 6767 1025 6845 1026 6974 1027 6806 1028 6823 1029 7141 1030 6799 1031 6878 1032 6947 1033 6951 1034 6667 1035 6695 1036 6657 1037 7046 1038 6982 1039 6777 1040 7054 1041 6990 1042 7132 1043 6653 1044 6756 1045 6835 1046 6867 1047 6950 1048 6948 1049 6815 1050 6989 1051 6734 1052 6960 1053 7010 1054 6725 1055 6914 1056 6822 1057 6949 1058 7190 1059 6823 1060 7071 1061 6753 1062 7098 1063 7139 1064 6854 1065 6839 1066 6880 1067 7054 1068 6778 1069 7086 1070 6955 1071 6998 1072 6944 1073 6782 1074 6977 1075 6820 1076 6803 1077 7118 1078 7047 1079 6944 1080 6971 1081 6853 1082 7147 1083 6799 1084 6796 1085 6915 1086 7075 1087 6893 1088 6964 1089 6819 1090 6904 1091 6798 1092 6950 1093 6704 1094 7195 1095 7026 1096 6828 1097 7091 1098 6796 1099 7052 1100 6880 1101 7012 1102 6950 1103 6869 1104 6906 1105 6942 1106 6610 1107 6891 1108 7019 1109 6770 1110 6784 1111 6731 1112 6657 1113 7015 1114 6752 1115 6742 1116 6891 1117 6859 1118 7285 1119 6966 1120 6656 1121 7125 1122 6961 1123 6853 1124 6815 1125 6677 1126 7121 1127 6885 1128 6778 1129 7062 1130 6895 1131 6643 1132 6717 1133 6819 1134 7232 1135 6907 1136 6839 1137 6930 1138 6898 1139 6485 1140 6917 1141 7016 1142 6857 1143 6930 1144 6929 1145 6900 1146 6787 1147 6857 1148 7046 1149 6906 1150 6826 1151 6949 1152 6737 1153 6786 1154 7018 1155 6846 1156 6627 1157 6683 1158 6895 1159 6769 1160 6975 1161 7077 1162 6814 1163 6854 1164 6819 1165 6890 1166 6844 1167 6954 1168 6824 1169 6777 1170 6894 1171 6779 1172 7118 1173 6989 1174 6696 1175 6654 1176 6852 1177 6899 1178 7051 1179 6837 1180 6783 1181 7079 1182 6811 1183 6820 1184 6827 1185 7032 1186 6813 1187 7080 1188 6689 1189 6866 1190 7036 1191 6707 1192 6732 1193 6969 1194 6594 1195 7015 1196 6842 1197 6728 1198 7180 1199 6751 1200 6891 1201 6885 1202 7024 1203 6839 1204 7028 1205 7009 1206 6941 1207 7043 1208 6675 1209 7056 1210 6980 1211 6923 1212 6881 1213 6777 1214 6774 1215 6921 1216 6931 1217 6876 1218 6773 1219 6789 1220 6948 1221 7150 1222 6599 1223 6755 1224 6845 1225 6835 1226 6948 1227 7011 1228 6923 1229 6909 1230 6961 1231 7070 1232 6920 1233 6803 1234 6944 1235 6876 1236 7150 1237 6906 1238 6895 1239 7039 1240 7105 1241 6824 1242 6984 1243 6814 1244 6933 1245 6796 1246 6922 1247 7075 1248 6889 1249 6921 1250 6791 1251 6936 1252 6929 1253 6764 1254 6724 1255 6777 1256 6741 1257 6817 1258 6776 1259 6762 1260 6824 1261 6868 1262 6858 1263 6561 1264 6875 1265 6907 1266 6924 1267 6880 1268 6844 1269 7024 1270 7136 1271 6837 1272 7086 1273 6842 1274 6857 1275 6724 1276 6656 1277 6827 1278 6948 1279 7029 1280 6979 1281 6870 1282 7146 1283 6865 1284 6877 1285 6790 1286 6919 1287 6861 1288 6971 1289 6935 1290 7107 1291 6858 1292 6671 1293 6853 1294 6826 1295 7003 1296 6687 1297 6975 1298 6769 1299 6860 1300 7000 1301 6739 1302 6872 1303 6850 1304 6815 1305 6877 1306 6923 1307 6813 1308 6927 1309 6865 1310 6961 1311 7069 1312 6962 1313 6938 1314 6871 1315 6718 1316 7095 1317 6856 1318 7163 1319 7010 1320 6940 1321 7168 1322 7117 1323 6853 1324 6863 1325 6888 1326 6978 1327 6590 1328 6894 1329 6986 1330 6653 1331 6792 1332 6921 1333 6716 1334 6852 1335 6788 1336 6842 1337 7007 1338 6745 1339 6851 1340 7005 1341 6972 1342 6747 1343 6921 1344 6866 1345 6786 1346 6855 1347 7072 1348 6788 1349 6749 1350 6758 1351 6660 1352 6824 1353 6770 1354 6663 1355 6910 1356 6644 1357 6644 1358 6769 1359 6630 1360 6760 1361 6987 1362 6722 1363 6828 1364 6817 1365 6851 1366 6693 1367 6799 1368 6962 1369 6807 1370 6775 1371 6966 1372 6928 1373 6921 1374 6950 1375 6825 1376 6737 1377 6622 1378 6714 1379 6736 1380 6721 1381 6695 1382 6920 1383 6779 1384 6828 1385 6887 1386 6930 1387 6936 1388 6905 1389 7032 1390 6801 1391 6873 1392 6856 1393 6825 1394 6775 1395 6947 1396 6883 1397 7080 1398 7160 1399 7124 1400 6668 1401 7109 1402 6807 1403 6675 1404 6929 1405 6655 1406 6627 1407 6745 1408 6558 1409 6787 1410 6964 1411 6800 1412 6926 1413 7039 1414 7035 1415 6564 1416 6938 1417 6870 1418 6954 1419 6849 1420 6898 1421 6920 1422 7025 1423 7051 1424 6963 1425 6827 1426 6593 1427 6727 1428 6626 1429 6801 1430 6876 1431 7038 1432 6864 1433 7146 1434 6904 1435 6651 1436 6821 1437 6716 1438 6914 1439 7044 1440 6926 1441 6915 1442 6705 1443 6604 1444 6960 1445 6910 1446 6881 1447 6908 1448 7025 1449 6850 1450 6814 1451 6811 1452 7020 1453 6876 1454 7089 1455 6741 1456 6994 1457 6897 1458 6919 1459 6937 1460 6999 1461 7092 1462 6633 1463 6826 1464 6825 1465 6584 1466 6872 1467 6787 1468 6856 1469 6703 1470 6793 1471 6817 1472 6892 1473 6821 1474 6705 1475 7130 1476 6875 1477 6912 1478 6897 1479 7116 1480 6761 1481 6968 1482 6887 1483 6923 1484 7076 1485 6915 1486 7098 1487 6980 1488 6897 1489 6857 1490 6849 1491 6874 1492 6575 1493 6798 1494 7016 1495 6935 1496 6941 1497 6878 1498 6934 1499 6967 1500 6638 1501 6849 1502 6899 1503 6887 1504 6883 1505 6671 1506 6791 1507 6706 1508 7262 1509 6811 1510 6714 1511 6594 1512 6849 1513 7078 1514 6776 1515 6931 1516 7087 1517 6933 1518 6714 1519 6695 1520 6757 1521 6989 1522 6522 1523 7005 1524 6862 1525 7041 1526 6678 1527 6793 1528 6734 1529 6839 1530 6860 1531 6828 1532 7098 1533 6720 1534 6730 1535 6901 1536 6851 1537 6810 1538 6644 1539 6793 1540 6844 1541 6916 1542 7046 1543 6927 1544 6839 1545 6882 1546 6839 1547 6751 1548 6791 1549 6812 1550 6762 1551 6823 1552 6852 1553 6786 1554 7074 1555 6683 1556 7016 1557 6737 1558 6845 1559 6702 1560 6842 1561 6970 1562 6706 1563 6822 1564 6831 1565 6836 1566 6715 1567 6739 1568 6816 1569 7049 1570 6899 1571 6832 1572 6610 1573 6795 1574 6858 1575 6689 1576 6860 1577 6849 1578 6825 1579 7041 1580 6720 1581 6789 1582 6882 1583 6995 1584 6817 1585 6661 1586 6929 1587 6984 1588 6790 1589 7054 1590 7136 1591 6903 1592 6935 1593 6881 1594 6917 1595 6801 1596 6873 1597 6923 1598 6904 1599 6762 1600 6719 1601 6726 1602 6753 1603 7277 1604 6976 1605 6886 1606 6817 1607 7056 1608 6658 1609 6805 1610 6926 1611 6823 1612 6890 1613 6944 1614 6778 1615 6904 1616 7029 1617 6928 1618 6859 1619 6986 1620 6679 1621 6987 1622 6614 1623 6727 1624 6968 1625 6827 1626 6690 1627 6870 1628 7001 1629 6830 1630 6584 1631 7040 1632 6772 1633 6843 1634 6860 1635 6896 1636 6887 1637 6709 1638 6766 1639 6976 1640 6640 1641 7015 1642 6758 1643 6821 1644 6688 1645 6798 1646 6707 1647 6848 1648 6718 1649 6800 1650 6563 1651 6936 1652 6689 1653 6785 1654 6822 1655 6920 1656 6787 1657 7039 1658 7025 1659 6753 1660 7050 1661 6658 1662 6882 1663 6813 1664 6836 1665 6791 1666 6883 1667 6895 1668 6863 1669 6709 1670 6698 1671 6680 1672 6799 1673 6873 1674 7067 1675 6763 1676 6737 1677 6900 1678 6742 1679 6679 1680 6835 1681 6709 1682 6808 1683 7076 1684 6910 1685 6902 1686 6779 1687 6962 1688 6906 1689 6975 1690 6854 1691 6840 1692 6721 1693 6745 1694 6828 1695 6818 1696 6836 1697 6835 1698 6647 1699 7176 1700 6873 1701 6809 1702 6702 1703 6994 1704 6805 1705 6738 1706 6909 1707 7101 1708 6899 1709 7009 1710 6766 1711 6963 1712 6618 1713 6833 1714 6958 1715 6918 1716 6996 1717 6801 1718 6657 1719 6881 1720 6732 1721 6977 1722 6813 1723 6551 1724 7038 1725 6692 1726 6700 1727 7100 1728 7042 1729 6982 1730 6727 1731 6911 1732 6876 1733 6762 1734 6839 1735 6825 1736 6897 1737 6708 1738 6957 1739 6636 1740 6900 1741 6960 1742 6771 1743 6797 1744 7116 1745 6827 1746 7033 1747 6965 1748 6753 1749 6970 1750 6810 1751 6907 1752 6604 1753 6870 1754 7011 1755 7002 1756 6976 1757 6841 1758 6858 1759 6731 1760 6836 1761 6842 1762 6816 1763 6876 1764 6821 1765 6756 1766 6757 1767 6931 1768 7091 1769 6966 1770 6823 1771 7186 1772 6922 1773 6801 1774 6934 1775 7007 1776 6631 1777 6679 1778 6895 1779 6688 1780 6691 1781 7009 1782 6510 1783 6984 1784 6896 1785 7005 1786 6852 1787 7034 1788 6863 1789 6720 1790 6834 1791 6897 1792 6660 1793 6980 1794 6736 1795 6902 1796 6834 1797 6859 1798 6846 1799 6870 1800 6966 1801 6938 1802 6806 1803 6878 1804 7016 1805 6956 1806 6955 1807 6871 1808 6841 1809 6852 1810 6950 1811 6862 1812 7044 1813 7243 1814 6872 1815 7082 1816 6989 1817 7023 1818 6783 1819 7024 1820 6829 1821 6930 1822 7028 1823 7072 1824 6805 1825 6816 1826 6765 1827 6626 1828 6831 1829 6830 1830 6883 1831 6853 1832 6913 1833 6984 1834 6606 1835 7111 1836 6834 1837 6809 1838 6848 1839 6994 1840 6893 1841 6928 1842 7009 1843 6874 1844 6921 1845 6940 1846 6779 1847 7007 1848 6811 1849 6948 1850 6813 1851 6859 1852 6837 1853 6997 1854 6970 1855 6981 1856 6846 1857 6771 1858 6727 1859 6934 1860 6858 1861 7081 1862 7159 1863 6982 1864 6956 1865 7072 1866 7102 1867 6799 1868 6974 1869 7089 1870 6565 1871 6846 1872 6911 1873 6780 1874 6968 1875 6662 1876 7070 1877 7040 1878 6887 1879 6969 1880 6685 1881 7079 1882 6965 1883 6838 1884 6796 1885 6738 1886 6824 1887 6581 1888 6931 1889 6846 1890 6757 1891 6911 1892 6908 1893 6930 1894 6954 1895 7017 1896 6942 1897 7072 1898 6820 1899 7077 1900 6600 1901 6647 1902 6725 1903 6897 1904 6946 1905 6709 1906 6845 1907 6796 1908 6963 1909 6730 1910 6973 1911 6855 1912 7095 1913 6954 1914 6803 1915 6927 1916 6927 1917 6765 1918 6878 1919 6706 1920 7184 1921 6794 1922 6802 1923 7070 1924 7037 1925 6753 1926 7007 1927 6951 1928 6789 1929 6911 1930 6805 1931 6981 1932 6828 1933 6726 1934 6824 1935 7153 1936 6782 1937 6859 1938 6985 1939 6684 1940 7094 1941 6621 1942 6949 1943 6660 1944 6872 1945 7039 1946 6853 1947 6822 1948 6794 1949 6727 1950 6982 1951 6801 1952 6769 1953 6900 1954 6987 1955 6989 1956 6766 1957 6760 1958 6972 1959 7039 1960 6702 1961 7066 1962 6843 1963 6969 1964 7092 1965 6847 1966 6888 1967 6675 1968 6566 1969 6887 1970 6729 1971 6726 1972 6931 1973 6975 1974 6652 1975 6910 1976 6865 1977 6900 1978 6879 1979 6940 1980 6764 1981 6698 1982 6910 1983 7041 1984 6854 1985 7055 1986 6944 1987 6700 1988 6558 1989 6811 1990 6999 1991 6758 1992 7153 1993 6951 1994 6661 1995 6763 1996 7040 1997 7077 1998 6748 1999 6866 2000 6937 2001 6805 2002 6934 2003 7110 2004 6753 2005 6943 2006 6989 2007 7032 2008 6826 2009 6963 2010 6777 2011 6893 2012 6717 2013 6908 2014 6943 2015 7115 2016 7001 2017 6764 2018 6459 2019 7021 2020 6993 2021 6813 2022 6795 2023 6945 2024 6847 2025 7066 2026 6895 2027 6739 2028 6643 2029 6878 2030 6890 2031 6797 2032 6712 2033 6792 2034 6954 2035 6809 2036 6729 2037 6948 2038 7030 2039 6789 2040 6807 2041 6729 2042 6843 2043 6939 2044 6912 2045 6989 2046 6978 2047 6928 2048 6917 2049 6709 2050 7014 2051 6860 2052 6931 2053 6660 2054 6819 2055 6902 2056 6747 2057 6845 2058 6915 2059 6653 2060 6760 2061 6627 2062 6702 2063 6752 2064 6835 2065 6994 2066 6760 2067 6843 2068 6764 2069 6853 2070 6942 2071 6983 2072 6760 2073 6683 2074 6889 2075 6792 2076 6671 2077 6960 2078 6895 2079 6997 2080 6697 2081 6817 2082 6911 2083 7066 2084 6874 2085 6720 2086 6889 2087 6905 2088 6767 2089 7010 2090 6843 2091 6772 2092 6951 2093 6957 2094 6817 2095 6862 2096 6880 2097 6822 2098 6820 2099 6969 2100 6936 2101 6790 2102 6703 2103 6672 2104 6959 2105 6706 2106 6750 2107 6852 2108 6785 2109 6740 2110 6615 2111 6985 2112 6770 2113 6866 2114 6874 2115 6698 2116 6741 2117 6979 2118 6884 2119 6817 2120 7031 2121 6735 2122 6856 2123 6826 2124 6803 2125 6612 2126 6842 2127 6893 2128 6620 2129 6911 2130 6914 2131 7026 2132 6706 2133 6811 2134 6785 2135 6824 2136 6863 2137 6947 2138 6947 2139 6789 2140 6829 2141 6634 2142 6944 2143 6908 2144 6977 2145 6666 2146 7005 2147 6745 2148 6658 2149 6863 2150 6750 2151 7120 2152 6894 2153 7059 2154 6822 2155 6843 2156 6944 2157 6721 2158 6798 2159 6912 2160 6910 2161 7034 2162 6868 2163 6569 2164 6935 2165 6789 2166 6914 2167 6739 2168 6786 2169 6873 2170 7074 2171 6909 2172 6687 2173 6874 2174 6761 2175 6905 2176 7084 2177 6787 2178 6801 2179 6917 2180 6890 2181 6804 2182 6919 2183 6797 2184 6868 2185 7147 2186 6860 2187 6919 2188 6950 2189 6789 2190 6905 2191 6771 2192 6699 2193 6823 2194 7042 2195 6936 2196 6723 2197 6874 2198 6945 2199 6852"/>
<polyline transform="matrix(0.310505 0 0 0.1 93.7 0)" vector-effect="non-scaling-stroke" stroke="#0000ff" stroke-opacity="0.5" points="0 7181 1 7112 2 7145 3 7106 4 7019 5 7021 6 7078 7 7100 8 7090 9 7090 10 7052 11 7100 12 7058 13 7211 14 7033 15 6953 16 7085 17 7220 18 6986 19 7128 20 7251 21 7119 22 7049 23 7068 24 6996 25 7048 26 7090 27 7258 28 7195 29 7086 30 7044 31 7188 32 7153 33 7061 34 7258 35 7246 36 7120 37 7080 38 7142 39 7251 40 7099 41 7214 42 7046 43 7110 44 7079 45 7047 46 7146 47 7031 48 6996 49 7068 50 6989 51 7155 52 7024 53 7079 54 7185 55 7108 56 7147 57 7149 58 7094 59 7012 60 7129 61 7091 62 7226 63 7093 64 7004 65 7034 66 7062 67 7147 68 7185 69 7110 70 7216 71 7207 72 7023 73 7180 74 6951 75 7224 76 7066 77 7202 78 7088 79 7191 80 7099 81 7116 82 7141 83 7060 84 6975 85 7153 86 7028 87 7096 88 7106 89 6918 90 7256 91 7161 92 7258 93 7130 94 7123 95 6781 96 7074 97 6952 98 6994 99 7141 100 7063 101 6963 102 7089 103 7086 104 7062 105 7232 106 7173 107 7076 108 7058 109 7182 110 7132 111 7115 112 7118 113 7046 114 7096 115 7091 116 7225 117 7194 118 7078 119 7240 120 7082 121 7161 122 7174 123 7051 124 7163 125 7178 126 7163 127 7101 128 6873 129 7256 130 7108 131 7127 132 7026 133 7138 134 7258 135 6994 136 7199 137 7112 138 7223 139 7200 140 7149 141 7034 142 7036 143 7158 144 7065 145 7139 146 7098 147 7095 148 7055 149 7160 150 7119 151 7090 152 7100 153 7176 154 6962 155 7148 156 7044 157 7091 158 7005 159 7246 160 6935 161 7127 162 7214 163 7098 164 6917 165 7066 166 7214 167 7149 168 6996 169 7229 170 7125 171 7134 172 6925 173 7134 174 6998 175 7167 176 7178 177 7025 178 7057 179 7248 180 7056 181 7055 182 7162 183 7091 184 7087 185 7152 186 7160 187 7167 188 7134 189 7223 190 7114 191 7238 192 7104 193 7118 194 7199 195 7039 196 6947 197 6999 198 7227 199 7003 200 7093 201 7116 202 7162 203 7112 204 6994 205 7065 206 7147 207 7168 208 7147 209 7062 210 6953 211 7201 212 7112 213 7145 214 7176 215 7078 216 7065 217 7232 218 7200 219 7011 220 7085 221 7068 222 7155 223 7144 224 7073 225 7154 226 7206 227 7112 228 7036 229 7200 230 7023 231 7053 232 7186 233 7112 234 7116 235 7059 236 7056 237 7223 238 7227 239 7026 240 7103 241 7078 242 7085 243 6983 244 7215 245 7021 246 7182 247 7051 248 7000 249 7230 250 7079 251 7137 252 7138 253 7110 254 7202 255 7195 256 7058 257 7042 258 7161 259 7237 260 6918 261 7021 262 7083 263 7201 264 7163 265 7093 266 7195 267 6978 268 7102 269 7081 270 7201 271 7190 272 7180 273 7091 274 7136 275 7138 276 7087 277 7095 278 6989 279 7131 280 7199 281 7115 282 6991 283 7161 284 7110 285 7144 286 7080 287 7093 288 7182 289 7133 290 7035 291 7022 292 7037 293 7042 294 7142 295 7145 296 7036 297 7213 298 7119 299 7256 300 7146 301 7174 302 7216 303 7066 304 7176 305 7145 306 7136 307 7176 308 6995 309 7156 310 7098 311 7224 312 7154 313 7142 314 7140 315 7164 316 7103 317 6984 318 7126 319 7126 320 7148 321 6902 322 6979 323 7068 324 7056 325 7174 326 7128 327 7097 328 7105 329 7187 330 7180 331 7072 332 7089 333 7251 334 7107 335 7008 336 7169 337 7095 338 7237 339 7045 340 7209 341 7220 342 7142 343 6916 344 7166 345 7221 346 7076 347 7096 348 6976 349 7222 350 7249 351 7142 352 7083 353 7085 354 7024 355 7241 356 7184 357 7126 358 7045 359 7075 360 7151 361 7201 362 7041 363 7036 364 6888 365 7130 366 6979 367 7217 368 7161 369 7172 370 7154 371 7189 372 7161 373 7120 374 7153 375 7060 376 7123 377 7116 378 6992 379 7089 380 7103 381 7117 382 7111 383 7068 384 7183 385 7020 386 6984 387 7019 388 7157 389 7249 390 7153 391 7103 392 7047 393 7131 394 7142 395 6989 396 7172 397 7027 398 7040 399 7228 400 7093 401 7163 402 7196 403 7251 404 7248 405 7082 406 7149 407 7094 408 7205 409 7143 410 7139 411 7246 412 7256 413 7080 414 7104 415 7195 416 7125 417 7061 418 6963 419 7191 420 7065 421 6939 422 7111 423 6994 424 7251 425 6996 426 7118 427 7258 428 7052 429 7029 430 7016 431 7017 432 7120 433 7180 434 7156 435 7120 436 7083 437 7158 438 7113 439 7044 440 7090 441 6925 442 6937 443 7214 444 7165 445 7227 446 7215 447 7072 448 7201 449 7206 450 7140 451 7051 452 7148 453 7148 454 7041 455 7078 456 7080 457 7039 458 7203 459 7100 460 7171 461 7032 462 7050 463 7206 464 7006 465 7217 466 7020 467 7101 468 7192 469 7213 470 7144 471 7121 472 7178 473 7071 474 7237 475 7119 476 7119 477 7251 478 7093 479 7225 480 7255 481 7171 482 7138 483 7043 484 7160 485 6995 486 6998 487 7027 488 7008 489 7090 490 7166 491 7065 492 7038 493 7100 494 7140 495 7252 496 7063 497 7090 498 7230 499 7112 500 7059 501 7129 502 7054 503 7057 504 7245 505 7146 506 7079 507 7043 508 7002 509 7254 510 7126 511 7060 512 7017 513 6978 514 7200 515 7152 516 7210 517 7052 518 7233 519 7021 520 7042 521 7080 522 7251 523 7178 524 7058 525 7241 526 7142 527 7130 528 7046 529 7098 530 7098 531 7159 532 7121 533 7133 534 7060 535 7137 536 7035 537 7252 538 7021 539 7137 540 7027 541 7115 542 7050 543 6996 544 7169 545 7116 546 7137 547 7105 548 7253 549 7137 550 7144 551 7189 552 7139 553 7253 554 7005 555 7085 556 6964 557 7197 558 7222 559 7100 560 7247 561 7105 562 7183 563 7152 564 7102 565 7120 566 6967 567 7071 568 7233 569 7041 570 7237 571 7117 572 7230 573 7194 574 7014 575 7172 576 7179 577 7172 578 7151 579 7003 580 7225 581 7230 582 7076 583 7258 584 7156 585 7030 586 7126 587 7166 588 7186 589 7203 590 7176 591 7115 592 7021 593 7045 594 7174 595 7188 596 7068 597 7254 598 7164 599 7154 600 7221 601 7211 602 7098 603 7259 604 7205 605 7183 606 7121 607 7244 608 7037 609 7154 610 7151 611 7159 612 7186 613 7212 614 7032 615 7112 616 7139 617 7046 618 7190 619 7077 620 7128 621 7205 622 7066 623 7255 624 7076 625 7205 626 7096 627 7014 628 7083 629 7182 630 7134 631 7162 632 7230 633 7225 634 7128 635 7087 636 7256 637 7138 638 7090 639 7123 640 7217 641 7046 642 7235 643 7079 644 6998 645 7246 646 7112 647 7107 648 7115 649 7198 650 7160 651 7251 652 7123 653 7089 654 7190 655 7212 656 7174 657 7135 658 7130 659 7144 660 7129 661 7245 662 7257 663 7084 664 7016 665 7256 666 7192 667 7111 668 7056 669 7081 670 7029 671 7141 672 7101 673 7102 674 7173 675 7036 676 7084 677 7055 678 7169 679 7050 680 7225 681 7104 682 7257 683 7222 684 7075 685 7175 686 7123 687 7250 688 7008 689 7088 690 7140 691 7103 692 7110 693 7019 694 7120 695 7258 696 7159 697 7031 698 7090 699 7173 700 7087 701 7128 702 7087 703 7257 704 7213 705 7083 706 7157 707 7109 708 6975 709 7165 710 7119 711 7185 712 7191 713 7145 714 7258 715 7251 716 7025 717 7148 718 7045 719 7129 720 7127 721 7083 722 7079 723 7240 724 7038 725 7221 726 7122 727 6926 728 7133 729 7000 730 7169 731 7088 732 7135 733 7105 734 7211 735 7217 736 7112 737 7256 738 7210 739 7086 740 7191 741 7214 742 7233 743 7128 744 7171 745 7128 746 7156 747 6986 748 7177 749 7250 750 7131 751 7140 752 7127 753 7250 754 7046 755 7143 756 7144 757 7247 758 7101 759 7146 760 7028 761 7175 762 7244 763 7130 764 7217 765 7106 766 7231 767 7152 768 7160 769 7144 770 7184 771 7208 772 7146 773 7189 774 7128 775 7164 776 7247 777 7146 778 7026 779 7116 780 7091 781 7103 782 7180 783 7252 784 7074 785 7054 786 7094 787 7106 788 7109 789 7144 790 7119 791 7140 792 7114 793 7219 794 7193 795 7094 796 7169 797 7256 798 7131 799 7256 800 6983 801 7082 802 7086 803 7196 804 7234 805 7159 806 7140 807 7205 808 7128 809 7085 810 7092 811 7227 812 7251 813 7141 814 7195 815 7104 816 7006 817 7006 818 7117 819 7050 820 7006 821 7137 822 7118 823 7071 824 7143 825 7181 826 7202 827 7140 828 7191 829 7075 830 7168 831 7020 832 7041 833 7241 834 7052 835 7173 836 7028 837 7098 838 7143 839 7085 840 7185 841 7113 842 7108 843 7151 844 7108 845 7221 846 7094 847 7238 848 7088 849 7100 850 7081 851 7184 852 6891 853 7157 854 7126 855 7200 856 7022 857 7176 858 7057 859 7215 860 7113 861 7168 862 7062 863 7161 864 7208 865 7101 866 7234 867 7215 868 7075 869 7248 870 7075 871 7169 872 7211 873 7117 874 7085 875 7184 876 7151 877 7071 878 7075 879 7140 880 7198 881 7212 882 7184 883 7081 884 7089 885 7111 886 7023 887 7159 888 7166 889 7166 890 6980 891 7257 892 7111 893 7099 894 7129 895 6946 896 7040 897 7072 898 7207 899 7094 900 7164 901 7130 902 7117 903 7172 904 7082 905 7002 906 7050 907 7116 908 7246 909 7045 910 7046 911 7148 912 7171 913 7080 914 7198 915 7068 916 7219 917 7206 918 7131 919 7249 920 7132 921 7089 922 7238 923 7057 924 7177 925 7087 926 7114 927 7168 928 7173 929 7258 930 7187 931 7193 932 6999 933 7049 934 7241 935 7067 936 7113 937 7161 938 7094 939 7067 940 7176 941 7153 942 7117 943 7209 944 7116 945 7137 946 7185 947 7198 948 7106 949 7060 950 7104 951 7199 952 7070 953 7116 954 7082 955 7037 956 7202 957 7141 958 7178 959 7200 960 6969 961 7054 962 7247 963 7095 964 7174 965 7038 966 7123 967 7143 968 7118 969 7099 970 7127 971 7147 972 7140 973 7088 974 7219 975 7129 976 7139 977 7168 978 7070 979 7232 980 7158 981 7197 982 7085 983 7166 984 7125 985 7098 986 7253 987 7093 988 7189 989 7149 990 7138 991 7064 992 7070 993 6988 994 7114 995 7167 996 7169 997 7076 998 7001 999 7101 1000 7175 1001 7107 1002 7108 1003 7126 1004 7188 1005 7250 1006 7171 1007 7044 1008 7111 1009 7251 1010 7128 1011 7248 1012 6969 1013 7113 1014 7224 1015 7065 1016 7191 1017 7083 1018 7127 1019 7223 1020 7075 1021 7235 1022 7021 1023 7123 1024 7210 1025 7247 1026 6999 1027 7012 1028 7229 1029 6997 1030 7115 1031 7146 1032 7135 1033 7150 1034 7014 1035 7116 1036 7250 1037 6961 1038 7058 1039 7215 1040 7157 1041 7201 1042 7125 1043 7097 1044 7109 1045 7176 1046 7192 1047 7061 1048 7136 1049 6949 1050 7193 1051 7065 1052 7124 1053 7189 1054 7020 1055 7119 1056 7200 1057 7154 1058 7047 1059 7226 1060 7018 1061 7074 1062 7151 1063 7020 1064 6989 1065 7081 1066 7115 1067 6981 1068 7009 1069 7203 1070 7145 1071 7146 1072 7162 1073 7249 1074 7057 1075 7122 1076 7121 1077 7016 1078 7174 1079 7133 1080 7107 1081 7164 1082 7138 1083 7068 1084 7130 1085 7022 1086 7189 1087 7113 1088 7244 1089 7139 1090 7186 1091 7020 1092 7069 1093 7088 1094 6981 1095 7013 1096 7072 1097 7185 1098 7246 1099 7132 1100 7158 1101 7182 1102 7153 1103 7255 1104 7010 1105 7221 1106 7184 1107 7084 1108 7259 1109 7056 1110 7054 1111 7155 1112 7217 1113 7168 1114 7259 1115 7018 1116 7126 1117 7189 1118 7203 1119 7084 1120 7009 1121 7233 1122 7177 1123 7256 1124 7076 1125 7118 1126 6948 1127 7140 1128 7166 1129 7188 1130 7062 1131 7248 1132 7070 1133 7111 1134 7172 1135 7204 1136 7045 1137 6980 1138 7167 1139 7088 1140 6990 1141 7181 1142 7151 1143 7230 1144 7143 1145 7138 1146 7165 1147 7191 1148 7247 1149 7241 1150 7211 1151 7079 1152 7173 1153 7201 1154 7078 1155 7086 1156 7193 1157 7183 1158 7078 1159 7102 1160 7200 1161 7112 1162 7134 1163 7041 1164 7203 1165 7060 1166 7097 1167 7214 1168 7046 1169 7058 1170 7240 1171 6971 1172 7226 1173 7207 1174 7159 1175 7070 1176 7085 1177 7141 1178 7021 1179 7100 1180 7019 1181 6903 1182 7117 1183 7254 1184 7170 1185 7221 1186 7126 1187 7125 1188 7234 1189 7228 1190 7155 1191 7150 1192 7246 1193 7054 1194 7131 1195 7135 1196 7109 1197 7218 1198 7138 1199 7048 1200 7045 1201 7096 1202 7157 1203 7202 1204 7025 1205 7091 1206 7169 1207 7256 1208 7206 1209 7259 1210 7031 1211 7119 1212 7196 1213 7158 1214 6919 1215 7034 1216 7247 1217 7146 1218 7237 1219 7251 1220 7120 1221 6933 1222 7005 1223 7131 1224 7167 1225 7118 1226 7049 1227 7246 1228 7256 1229 6978 1230 7112 1231 7001 1232 7116 1233 7012 1234 7187 1235 7094 1236 7005 1237 7050 1238 7175 1239 7061 1240 7192 1241 7257 1242 7092 1243 7018 1244 7064 1245 7242 1246 7063 1247 7079 1248 7175 1249 7248 1250 7051 1251 7061 1252 7094 1253 7252 1254 7258 1255 7051 1256 7069 1257 7095 1258 7158 1259 7103 1260 7183 1261 7163 1262 7211 1263 7115 1264 7173 1265 7056 1266 7076 1267 7206 1268 6981 1269 7233 1270 7099 1271 7045 1272 7028 1273 7255 1274 7052 1275 7034 1276 7015 1277 7249 1278 7195 1279 7146 1280 7176 1281 7023 1282 7196 1283 7033 1284 7090 1285 7250 1286 7223 1287 7178 1288 7130 1289 7053 1290 7154 1291 7060 1292 7255 1293 7248 1294 7167 1295 7099 1296 7169 1297 7225 1298 7102 1299 6973 1300 7147 1301 7200 1302 7211 1303 6970 1304 7142 1305 7086 1306 7034 1307 7046 1308 7217 1309 7057 1310 7066 1311 7097 1312 7052 1313 7187 1314 7145 1315 7184 1316 7074 1317 7195 1318 7105 1319 7232 1320 7149 1321 7170 1322 7149 1323 7128 1324 7155 1325 7158 1326 7258 1327 7045 1328 7192 1329 7160 1330 7210 1331 7054 1332 7216 1333 7096 1334 7038 1335 6998 1336 7038 1337 7086 1338 7242 1339 7029 1340 7038 1341 7068 1342 7071 1343 7133 1344 7183 1345 7047 1346 7030 1347 7228 1348 7061 1349 7118 1350 7063 1351 7115 1352 7044 1353 7051 1354 7063 1355 7256 1356 7068 1357 7134 1358 7234 1359 7078 1360 7251 1361 7062 1362 6994 1363 7181 1364 7060 1365 7100 1366 7083 1367 7253 1368 7086 1369 7127 1370 7075 1371 7137 1372 7045 1373 7114 1374 7080 1375 7021 1376 7122 1377 7053 1378 7118 1379 7093 1380 7182 1381 7072 1382 7033 1383 7144 1384 7070 1385 7101 1386 7230 1387 7107 1388 7026 1389 7178 1390 7258 1391 7120 1392 7191 1393 6977 1394 7140 1395 7137 1396 7190 1397 7116 1398 7184 1399 7213 1400 7142 1401 7205 1402 7026 1403 7235 1404 7143 1405 7194 1406 7252 1407 6997 1408 7248 1409 7014 1410 7254 1411 7129 1412 6946 1413 7245 1414 7252 1415 7026 1416 7122 1417 7182 1418 7139 1419 7217 1420 7126 1421 7011 1422 7168 1423 7125 1424 7035 1425 6970 1426 7185 1427 7111 1428 7183 1429 7190 1430 7170 1431 7189 1432 7254 1433 7248 1434 7197 1435 7125 1436 7034 1437 7180 1438 7150 1439 7081 1440 7074 1441 7146 1442 7140 1443 6979 1444 7164 1445 7177 1446 7258 1447 7100 1448 7158 1449 6976 1450 7164 1451 7068 1452 7058 1453 6998 1454 7245 1455 7005 1456 7135 1457 7144 1458 7162 1459 7169 1460 7164 1461 7258 1462 7093 1463 7130 1464 7215 1465 7141 1466 6943 1467 7104 1468 7168 1469 6992 1470 7202 1471 7148 1472 7182 1473 7155 1474 7074 1475 7087 1476 7196 1477 7146 1478 7128 1479 7169 1480 7138 1481 7195 1482 7197 1483 7132 1484 7221 1485 7100 1486 7151 1487 7212 1488 7186 1489 7175 1490 7149 1491 7126 1492 7153 1493 7208 1494 7016 1495 7060 1496 7126 1497 7056 1498 7108 1499 7157 1500 7128 1501 6914 1502 7053 1503 7049 1504 7168 1505 7085 1506 6948 1507 7100 1508 7046 1509 7031 1510 7082 1511 7004 1512 7116 1513 7094 1514 7187 1515 6916 1516 7110 1517 7126 1518 7020 1519 7175 1520 7135 1521 7200 1522 7133 1523 7167 1524 7090 1525 7145 1526 7185 1527 7159 1528 7145 1529 7177 1530 7057 1531 7079 1532 7123 1533 7233 1534 7092 1535 7241 1536 7120 1537 7131 1538 7184 1539 7203 1540 7192 1541 6965 1542 7157 1543 7152 1544 7056 1545 7100 1546 7047 1547 7236 1548 7225 1549 6860 1550 7138 1551 7159 1552 7121 1553 7053 1554 7233 1555 7111 1556 7137 1557 7079 1558 7120 1559 7179 1560 7206 1561 7248 1562 7054 1563 7247 1564 7168 1565 6998 1566 7169 1567 7084 1568 7152 1569 7077 1570 7132 1571 7177 1572 7024 1573 7157 1574 7245 1575 7162 1576 7090 1577 7226 1578 7070 1579 7072 1580 6960 1581 7188 1582 7080 1583 7257 1584 7169 1585 7126 1586 7101 1587 7139 1588 7142 1589 7185 1590 7171 1591 7110 1592 7089 1593 7082 1594 7053 1595 7037 1596 7254 1597 7178 1598 7148 1599 7188 1600 7049 1601 7073 1602 7144 1603 7125 1604 7031 1605 7163 1606 7161 1607 7061 1608 7096 1609 7018 1610 7105 1611 7074 1612 7180 1613 7212 1614 7136 1615 7250 1616 7102 1617 7055 1618 7129 1619 7153 1620 7046 1621 7138 1622 7055 1623 6955 1624 7076 1625 7058 1626 7095 1627 7115 1628 7113 1629 7130 1630 7046 1631 7256 1632 7157 1633 7081 1634 7204 1635 7144 1636 7192 1637 7099 1638 7065 1639 7016 1640 7094 1641 7194 1642 7115 1643 7089 1644 7020 1645 7255 1646 7105 1647 7254 1648 7077 1649 7099 1650 7095 1651 7063 1652 7104 1653 7188 1654 7107 1655 7037 1656 7145 1657 7133 1658 7235 1659 7041 1660 7177 1661 7196 1662 7172 1663 7206 1664 7156 1665 7032 1666 7071 1667 7019 1668 7014 1669 7209 1670 7097 1671 7013 1672 6948 1673 7251 1674 7252 1675 7098 1676 7163 1677 7217 1678 7105 1679 7200 1680 7248 1681 7138 1682 7126 1683 7084 1684 7060 1685 7121 1686 7156 1687 7191 1688 7250 1689 7172 1690 7055 1691 7083 1692 6969 1693 7149 1694 7258 1695 7069 1696 7052 1697 7232 1698 7246 1699 7124 1700 7079 1701 7228 1702 7165 1703 7200 1704 7233 1705 7244 1706 7126 1707 7168 1708 7192 1709 7251 1710 6995 1711 7214 1712 7149 1713 7230 1714 7107 1715 7245 1716 7130 1717 7153 1718 7063 1719 7227 1720 7191 1721 7157 1722 6967 1723 7252 1724 7114 1725 7191 1726 7113 1727 7085 1728 7127 1729 7117 1730 7115 1731 7186 1732 7156 1733 7246 1734 7167 1735 7201 1736 7159 1737 7078 1738 7107 1739 7100 1740 7049 1741 7257 1742 7104 1743 7141 1744 7147 1745 7245 1746 7094 1747 7045 1748 7055 1749 7146 1750 7087 1751 7064 1752 6990 1753 7039 1754 7127 1755 7131 1756 7125 1757 7121 1758 7180 1759 7076 1760 7196 1761 7205 1762 7110 1763 7186 1764 7159 1765 7255 1766 7074 1767 7140 1768 7150 1769 7102 1770 7122 1771 7196 1772 6976 1773 7176 1774 7060 1775 6990 1776 7190 1777 7132 1778 7206 1779 7054 1780 7167 1781 7229 1782 7032 1783 7065 1784 7212 1785 7043 1786 7124 1787 6918 1788 7000 1789 7185 1790 7162 1791 7211 1792 7129 1793 7136 1794 7080 1795 7133 1796 7255 1797 7206 1798 7024 1799 7045 1800 7153 1801 7151 1802 7153 1803 7138 1804 7247 1805 7067 1806 7193 1807 7128 1808 7257 1809 7121 1810 7031 1811 7252 1812 7016 1813 7101 1814 7200 1815 7257 1816 7045 1817 7118 1818 7091 1819 7162 1820 7205 1821 7069 1822 7218 1823 7066 1824 7253 1825 7215 1826 7254 1827 7033 1828 7246 1829 7233 1830 7086 1831 7121 1832 6960 1833 6989 1834 7089 1835 7083 1836 7250 1837 7212 1838 7166 1839 7154 1840 7252 1841 7216 1842 7209 1843 7053 1844 7105 1845 7167 1846 7162 1847 7116 1848 7196 1849 7161 1850 7249 1851 7085 1852 7061 1853 7110 1854 7100 1855 7109 1856 6972 1857 7123 1858 7247 1859 7225 1860 7081 1861 7052 1862 7076 1863 7070 1864 7124 1865 7251 1866 7197 1867 7256 1868 7171 1869 7251 1870 7131 1871 7153 1872 7259 1873 7079 1874 7077 1875 7253 1876 7127 1877 7080 1878 7163 1879 7069 1880 7124 1881 7051 1882 7124 1883 7153 1884 7097 1885 7075 1886 7119 1887 7176 1888 7204 1889 7170 1890 7186 1891 7122 1892 7125 1893 7146 1894 7139 1895 7125 1896 7011 1897 7040 1898 7187 1899 7105 1900 7166 1901 7147 1902 7159 1903 7191 1904 7251 1905 7251 1906 7123 1907 7042 1908 7214 1909 7098 1910 7171 1911 7116 1912 7206 1913 7158 1914 7148 1915 7249 1916 7121 1917 7151 1918 7257 1919 7086 1920 7142 1921 7122 1922 7109 1923 7174 1924 7228 1925 7176 1926 7174 1927 6956 1928 6987 1929 7179 1930 7173 1931 7112 1932 7092 1933 7196 1934 7222 1935 6979 1936 7052 1937 7257 1938 7255 1939 7207 1940 7121 1941 7094 1942 7167 1943 7257 1944 7121 1945 7089 1946 7139 1947 7180 1948 7091 1949 7144 1950 7232 1951 7131 1952 7246 1953 7059 1954 7100 1955 7221 1956 7121 1957 7035 1958 7249 1959 7150 1960 7002 1961 7253 1962 7152 1963 7256 1964 7144 1965 7248 1966 7259 1967 7183 1968 7127 1969 7107 1970 7103 1971 7042 1972 7080 1973 7077 1974 7220 1975 7151 1976 6872 1977 6949 1978 7069 1979 7076 1980 7055 1981 7172 1982 6974 1983 7169 1984 7145 1985 6955 1986 7253 1987 7107 1988 7255 1989 7192 1990 7145 1991 7167 1992 7123 1993 7202 1994 7146 1995 7237 1996 7170 1997 7254 1998 7082 1999 7246 2000 7079 2001 7172 2002 7162 2003 7037 2004 7128 2005 7259 2006 7095 2007 7251 2008 7114 2009 7170 2010 7257 2011 7130 2012 7162 2013 6967 2014 7173 2015 6972 2016 7019 2017 7188 2018 7205 2019 7024 2020 7148 2021 7123 2022 7158 2023 7238 2024 7167 2025 7217 2026 7247 2027 7161 2028 6985 2029 6999 2030 7141 2031 7124 2032 7092 2033 7020 2034 7108 2035 7176 2036 7169 2037 7039 2038 6914 2039 7188 2040 7248 2041 7066 2042 7142 2043 7123 2044 7030 2045 7129 2046 7248 2047 7256 2048 7139 2049 7233 2050 7110 2051 7243 2052 7165 2053 7246 2054 7165 2055 7173 2056 7084 2057 7020 2058 7150 2059 7208 2060 6968 2061 7103 2062 7082 2063 7082 2064 7010 2065 7048 2066 7076 2067 7069 2068 7207 2069 7186 2070 7143 2071 7126 2072 7132 2073 7107 2074 7131 2075 7170 2076 7252 2077 7062 2078 7083 2079 7208 2080 7091 2081 7100 2082 7127 2083 7248 2084 7236 2085 7184 2086 6995 2087 7206 2088 7163 2089 7228 2090 7175 2091 7104 2092 7249 2093 7249 2094 7076 2095 7130 2096 7184 2097 7050 2098 7050 2099 7248 2100 7147 2101 7038 2102 7190 2103 7159 2104 7051 2105 7155 2106 7235 2107 7191 2108 7245 2109 7085 2110 7257 2111 7047 2112 7255 2113 7128 2114 7255 2115 7159 2116 7045 2117 7036 2118 7021 2119 7140 2120 7123 2121 7112 2122 7079 2123 7166 2124 7038 2125 7104 2126 7034 2127 7091 2128 7074 2129 7194 2130 7167 2131 7242 2132 7157 2133 7147 2134 7060 2135 7239 2136 6855 2137 7142 2138 7024 2139 7043 2140 7254 2141 7154 2142 7005 2143 7247 2144 7066 2145 7210 2146 7171 2147 7112 2148 7258 2149 7114 2150 7186 2151 7195 2152 7071 2153 6831 2154 7102 2155 7084 2156 7135 2157 7193 2158 7109 2159 7001 2160 7115 2161 7055 2162 7150 2163 6916 2164 7255 2165 7081 2166 7085 2167 7108 2168 7227 2169 7228 2170 7151 2171 7123 2172 7235 2173 7222 2174 7083 2175 7043 2176 7179 2177 7191 2178 7193 2179 6919 2180 7089 2181 7137 2182 7045 2183 6935 2184 7031 2185 7253 2186 7139 2187 7166 2188 7161 2189 7235 2190 7165 2191 7224 2192 7102 2193 7128 2194 7252 2195 7252 2196 7172 2197 7076 2198 7089 2199 7137"/>
</g>
<rect x="93.7" y="571.9" width="682.8" height="171.10000000000002" fill="none" stroke="#000" stroke-width="1.1"/>
<path d="M93.7 743.0V748.2M93.7 571.9V566.7M110.8 743.0V746.0M110.8 571.9V568.9M127.8 743.0V746.0M127.8 571.9V568.9M144.9 743.0V746.0M144.9 571.9V568.9M162.0 743.0V746.0M162.0 571.9V568.9M179.1 743.0V746.0M179.1 571.9V568.9M196.1 743.0V746.0M196.1 571.9V568.9M213.2 743.0V746.0M213.2 571.9V568.9M230.3 743.0V746.0M230.3 571.9V568.9M247.3 743.0V746.0M247.3 571.9V568.9M264.4 743.0V748.2M264.4 571.9V566.7M281.5 743.0V746.0M281.5 571.9V568.9M298.5 743.0V746.0M298.5 571.9V568.9M315.6 743.0V746.0M315.6 571.9V568.9M332.7 743.0V746.0M332.7 571.9V568.9M349.7 743.0V746.0M349.7 571.9V568.9M366.8 743.0V746.0M366.8 571.9V568.9M383.9 743.0V746.0M383.9 571.9V568.9M401.0 743.0V746.0M401.0 571.9V568.9M418.0 743.0V746.0M418.0 571.9V568.9M435.1 743.0V748.2M435.1 571.9V566.7M452.2 743.0V746.0M452.2 571.9V568.9M469.2 743.0V746.0M469.2 571.9V568.9M486.3 743.0V746.0M486.3 571.9V568.9M503.4 743.0V746.0M503.4 571.9V568.9M520.4 743.0V746.0M520.4 571.9V568.9M537.5 743.0V746.0M537.5 571.9V568.9M554.6 743.0V746.0M554.6 571.9V568.9M571.7 743.0V746.0M571.7 571.9V568.9M588.7 743.0V746.0M588.7 571.9V568.9M605.8 743.0V748.2M605.8 571.9V566.7M622.9 743.0V746.0M622.9 571.9V568.9M639.9 743.0V746.0M639.9 571.9V568.9M657.0 743.0V746.0M657.0 571.9V568.9M674.1 743.0V746.0M674.1 571.9V568.9M691.1 743.0V746.0M691.1 571.9V568.9M708.2 743.0V746.0M708.2 571.9V568.9M725.3 743.0V746.0M725.3 571.9V568.9M742.4 743.0V746.0M742.4 571.9V568.9M759.4 743.0V746.0M759.4 571.9V568.9M776.5 743.0V748.2M776.5 571.9V566.7M93.7 743.0H90.7M776.5 743.0H779.5M93.7 728.8H88.5M776.5 728.8H781.7M93.7 714.5H90.7M776.5 714.5H779.5M93.7 700.3H90.7M776.5 700.3H779.5M93.7 686.0H90.7M776.5 686.0H779.5M93.7 671.8H90.7M776.5 671.8H779.5M93.7 657.5H90.7M776.5 657.5H779.5M93.7 643.3H90.7M776.5 643.3H779.5M93.7 629.0H90.7M776.5 629.0H779.5M93.7 614.8H90.7M776.5 614.8H779.5M93.7 600.5H90.7M776.5 600.5H779.5M93.7 586.3H88.5M776.5 586.3H781.7M93.7 572.0H90.7M776.5 572.0H779.5" stroke="#000" stroke-width="1"/>
<text transform="translate(64.86 597.3) scale(0.9068 1)" font-size="31.4" fill="#000" style="">5</text>
<text transform="translate(64.02 739.8) scale(1.0460 1)" font-size="31.4" fill="#000" style="">0</text>
<text transform="translate(70.08 776) scale(1.0802 1)" font-size="31.4" fill="#000" style="">0.0</text>
<text transform="translate(240.77 776) scale(1.0883 1)" font-size="31.4" fill="#000" style="">0.1</text>
<text transform="translate(411.46 776) scale(1.0895 1)" font-size="31.4" fill="#000" style="">0.2</text>
<text transform="translate(582.17 776) scale(1.0842 1)" font-size="31.4" fill="#000" style="">0.3</text>
<text transform="translate(752.88 776) scale(1.0722 1)" font-size="31.4" fill="#000" style="">0.4</text>
<text transform="translate(372.99 807.5) scale(1.0782 1)" font-size="31.4" fill="#000" style="">Time (s)</text>
<text transform="translate(9.61 560.5) scale(0.9923 1)" font-size="34" fill="#000" style="">(b)</text>
<text transform="translate(108.75 607.25) scale(1.1217 1)" font-size="30.5" fill="#000" style="">Slice 1(i)</text>
<text transform="translate(291.59 607.25) scale(1.0900 1)" font-size="30.5" fill="#ff0000" style="">Slice 2</text>
<text transform="translate(444.79 607) scale(1.0814 1)" font-size="30.5" fill="#0000ff" style="">Reference</text>
<path d="M316 614L263.5 686" stroke="#ff0000" stroke-width="2.6" stroke-dasharray="6.5 3.5" fill="none"/>
<path d="M486.5 615.2L434.8 720.3" stroke="#0000ff" stroke-width="2.6" stroke-dasharray="6.5 3.5" fill="none"/>
<text style="font-style:italic" transform="translate(40.7 735.14) rotate(-90) scale(1.0735 1)" font-size="31.4" fill="#000">d</text>
<text style="font-style:italic" transform="translate(40.7 717.76) rotate(-90) scale(1.0161 1)" font-size="31.4" fill="#000">V</text>
<text style="font-style:italic" transform="translate(45.6 695.9) rotate(-90) scale(0.8221 1)" font-size="21.5" fill="#000">z</text>
<text transform="translate(45.6 685.16) rotate(-90) scale(1.8956 1)" font-size="21.5" fill="#000">,</text>
<text transform="translate(45.6 674.04) rotate(-90) scale(0.9712 1)" font-size="21.5" fill="#000">5</text>
<text transform="translate(40.7 649.49) rotate(-90) scale(1.0730 1)" font-size="31.4" fill="#000">(mV)</text>
</svg></body></html>
